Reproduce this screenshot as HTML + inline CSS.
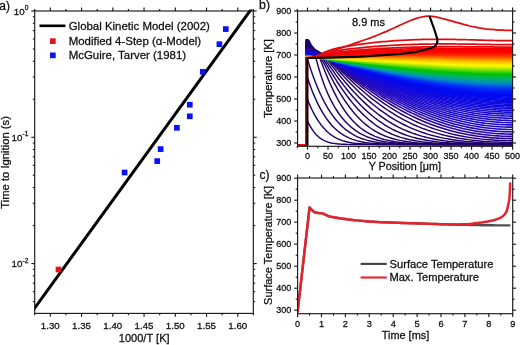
<!DOCTYPE html>
<html><head><meta charset="utf-8"><title>Figure</title>
<style>html,body{margin:0;padding:0;background:#fff}svg{display:block;filter:blur(0.35px)}text{font-family:'Liberation Sans',sans-serif;stroke:#111;stroke-width:0.28px}</style></head>
<body><svg width="520" height="345" viewBox="0 0 520 345">
<rect width="520" height="345" fill="#fff"/>
<g id="panel-a">
<clipPath id="ca"><rect x="34.7" y="9.5" width="218.60000000000002" height="303.9"/></clipPath>
<line x1="29.70" y1="314.90" x2="252.90" y2="6.86" stroke="#000" stroke-width="3.0" clip-path="url(#ca)"/>
<rect x="34.70" y="11.00" width="218.60" height="302.40" fill="none" stroke="#1a1a1a" stroke-width="1.15"/>
<line x1="34.67" y1="313.40" x2="34.67" y2="315.30" stroke="#1a1a1a" stroke-width="1.15" />
<line x1="34.67" y1="11.00" x2="34.67" y2="9.10" stroke="#1a1a1a" stroke-width="1.15" />
<line x1="50.30" y1="313.40" x2="50.30" y2="316.80" stroke="#1a1a1a" stroke-width="1.15" />
<line x1="50.30" y1="11.00" x2="50.30" y2="7.60" stroke="#1a1a1a" stroke-width="1.15" />
<text x="50.30" y="328.90" font-size="9.7" text-anchor="middle" fill="#111" >1.30</text>
<line x1="65.92" y1="313.40" x2="65.92" y2="315.30" stroke="#1a1a1a" stroke-width="1.15" />
<line x1="65.92" y1="11.00" x2="65.92" y2="9.10" stroke="#1a1a1a" stroke-width="1.15" />
<line x1="81.55" y1="313.40" x2="81.55" y2="316.80" stroke="#1a1a1a" stroke-width="1.15" />
<line x1="81.55" y1="11.00" x2="81.55" y2="7.60" stroke="#1a1a1a" stroke-width="1.15" />
<text x="81.55" y="328.90" font-size="9.7" text-anchor="middle" fill="#111" >1.35</text>
<line x1="97.17" y1="313.40" x2="97.17" y2="315.30" stroke="#1a1a1a" stroke-width="1.15" />
<line x1="97.17" y1="11.00" x2="97.17" y2="9.10" stroke="#1a1a1a" stroke-width="1.15" />
<line x1="112.80" y1="313.40" x2="112.80" y2="316.80" stroke="#1a1a1a" stroke-width="1.15" />
<line x1="112.80" y1="11.00" x2="112.80" y2="7.60" stroke="#1a1a1a" stroke-width="1.15" />
<text x="112.80" y="328.90" font-size="9.7" text-anchor="middle" fill="#111" >1.40</text>
<line x1="128.42" y1="313.40" x2="128.42" y2="315.30" stroke="#1a1a1a" stroke-width="1.15" />
<line x1="128.42" y1="11.00" x2="128.42" y2="9.10" stroke="#1a1a1a" stroke-width="1.15" />
<line x1="144.05" y1="313.40" x2="144.05" y2="316.80" stroke="#1a1a1a" stroke-width="1.15" />
<line x1="144.05" y1="11.00" x2="144.05" y2="7.60" stroke="#1a1a1a" stroke-width="1.15" />
<text x="144.05" y="328.90" font-size="9.7" text-anchor="middle" fill="#111" >1.45</text>
<line x1="159.67" y1="313.40" x2="159.67" y2="315.30" stroke="#1a1a1a" stroke-width="1.15" />
<line x1="159.67" y1="11.00" x2="159.67" y2="9.10" stroke="#1a1a1a" stroke-width="1.15" />
<line x1="175.30" y1="313.40" x2="175.30" y2="316.80" stroke="#1a1a1a" stroke-width="1.15" />
<line x1="175.30" y1="11.00" x2="175.30" y2="7.60" stroke="#1a1a1a" stroke-width="1.15" />
<text x="175.30" y="328.90" font-size="9.7" text-anchor="middle" fill="#111" >1.50</text>
<line x1="190.92" y1="313.40" x2="190.92" y2="315.30" stroke="#1a1a1a" stroke-width="1.15" />
<line x1="190.92" y1="11.00" x2="190.92" y2="9.10" stroke="#1a1a1a" stroke-width="1.15" />
<line x1="206.55" y1="313.40" x2="206.55" y2="316.80" stroke="#1a1a1a" stroke-width="1.15" />
<line x1="206.55" y1="11.00" x2="206.55" y2="7.60" stroke="#1a1a1a" stroke-width="1.15" />
<text x="206.55" y="328.90" font-size="9.7" text-anchor="middle" fill="#111" >1.55</text>
<line x1="222.17" y1="313.40" x2="222.17" y2="315.30" stroke="#1a1a1a" stroke-width="1.15" />
<line x1="222.17" y1="11.00" x2="222.17" y2="9.10" stroke="#1a1a1a" stroke-width="1.15" />
<line x1="237.80" y1="313.40" x2="237.80" y2="316.80" stroke="#1a1a1a" stroke-width="1.15" />
<line x1="237.80" y1="11.00" x2="237.80" y2="7.60" stroke="#1a1a1a" stroke-width="1.15" />
<text x="237.80" y="328.90" font-size="9.7" text-anchor="middle" fill="#111" >1.60</text>
<line x1="253.42" y1="313.40" x2="253.42" y2="315.30" stroke="#1a1a1a" stroke-width="1.15" />
<line x1="253.42" y1="11.00" x2="253.42" y2="9.10" stroke="#1a1a1a" stroke-width="1.15" />
<line x1="34.70" y1="11.00" x2="31.30" y2="11.00" stroke="#1a1a1a" stroke-width="1.15" />
<line x1="253.30" y1="11.00" x2="256.70" y2="11.00" stroke="#1a1a1a" stroke-width="1.15" />
<text x="28.4" y="14.50" font-size="9.8" text-anchor="end" fill="#111">10<tspan dy="-4.6" font-size="6.6">0</tspan></text>
<line x1="34.70" y1="137.30" x2="31.30" y2="137.30" stroke="#1a1a1a" stroke-width="1.15" />
<line x1="253.30" y1="137.30" x2="256.70" y2="137.30" stroke="#1a1a1a" stroke-width="1.15" />
<text x="28.4" y="140.80" font-size="9.8" text-anchor="end" fill="#111">10<tspan dy="-4.6" font-size="6.6">-1</tspan></text>
<line x1="34.70" y1="99.28" x2="32.80" y2="99.28" stroke="#1a1a1a" stroke-width="1.15" />
<line x1="253.30" y1="99.28" x2="255.20" y2="99.28" stroke="#1a1a1a" stroke-width="1.15" />
<line x1="34.70" y1="77.04" x2="32.80" y2="77.04" stroke="#1a1a1a" stroke-width="1.15" />
<line x1="253.30" y1="77.04" x2="255.20" y2="77.04" stroke="#1a1a1a" stroke-width="1.15" />
<line x1="34.70" y1="61.26" x2="32.80" y2="61.26" stroke="#1a1a1a" stroke-width="1.15" />
<line x1="253.30" y1="61.26" x2="255.20" y2="61.26" stroke="#1a1a1a" stroke-width="1.15" />
<line x1="34.70" y1="49.02" x2="32.80" y2="49.02" stroke="#1a1a1a" stroke-width="1.15" />
<line x1="253.30" y1="49.02" x2="255.20" y2="49.02" stroke="#1a1a1a" stroke-width="1.15" />
<line x1="34.70" y1="39.02" x2="32.80" y2="39.02" stroke="#1a1a1a" stroke-width="1.15" />
<line x1="253.30" y1="39.02" x2="255.20" y2="39.02" stroke="#1a1a1a" stroke-width="1.15" />
<line x1="34.70" y1="30.56" x2="32.80" y2="30.56" stroke="#1a1a1a" stroke-width="1.15" />
<line x1="253.30" y1="30.56" x2="255.20" y2="30.56" stroke="#1a1a1a" stroke-width="1.15" />
<line x1="34.70" y1="23.24" x2="32.80" y2="23.24" stroke="#1a1a1a" stroke-width="1.15" />
<line x1="253.30" y1="23.24" x2="255.20" y2="23.24" stroke="#1a1a1a" stroke-width="1.15" />
<line x1="34.70" y1="16.78" x2="32.80" y2="16.78" stroke="#1a1a1a" stroke-width="1.15" />
<line x1="253.30" y1="16.78" x2="255.20" y2="16.78" stroke="#1a1a1a" stroke-width="1.15" />
<line x1="34.70" y1="263.60" x2="31.30" y2="263.60" stroke="#1a1a1a" stroke-width="1.15" />
<line x1="253.30" y1="263.60" x2="256.70" y2="263.60" stroke="#1a1a1a" stroke-width="1.15" />
<text x="28.4" y="267.10" font-size="9.8" text-anchor="end" fill="#111">10<tspan dy="-4.6" font-size="6.6">-2</tspan></text>
<line x1="34.70" y1="225.58" x2="32.80" y2="225.58" stroke="#1a1a1a" stroke-width="1.15" />
<line x1="253.30" y1="225.58" x2="255.20" y2="225.58" stroke="#1a1a1a" stroke-width="1.15" />
<line x1="34.70" y1="203.34" x2="32.80" y2="203.34" stroke="#1a1a1a" stroke-width="1.15" />
<line x1="253.30" y1="203.34" x2="255.20" y2="203.34" stroke="#1a1a1a" stroke-width="1.15" />
<line x1="34.70" y1="187.56" x2="32.80" y2="187.56" stroke="#1a1a1a" stroke-width="1.15" />
<line x1="253.30" y1="187.56" x2="255.20" y2="187.56" stroke="#1a1a1a" stroke-width="1.15" />
<line x1="34.70" y1="175.32" x2="32.80" y2="175.32" stroke="#1a1a1a" stroke-width="1.15" />
<line x1="253.30" y1="175.32" x2="255.20" y2="175.32" stroke="#1a1a1a" stroke-width="1.15" />
<line x1="34.70" y1="165.32" x2="32.80" y2="165.32" stroke="#1a1a1a" stroke-width="1.15" />
<line x1="253.30" y1="165.32" x2="255.20" y2="165.32" stroke="#1a1a1a" stroke-width="1.15" />
<line x1="34.70" y1="156.86" x2="32.80" y2="156.86" stroke="#1a1a1a" stroke-width="1.15" />
<line x1="253.30" y1="156.86" x2="255.20" y2="156.86" stroke="#1a1a1a" stroke-width="1.15" />
<line x1="34.70" y1="149.54" x2="32.80" y2="149.54" stroke="#1a1a1a" stroke-width="1.15" />
<line x1="253.30" y1="149.54" x2="255.20" y2="149.54" stroke="#1a1a1a" stroke-width="1.15" />
<line x1="34.70" y1="143.08" x2="32.80" y2="143.08" stroke="#1a1a1a" stroke-width="1.15" />
<line x1="253.30" y1="143.08" x2="255.20" y2="143.08" stroke="#1a1a1a" stroke-width="1.15" />
<line x1="34.70" y1="301.62" x2="32.80" y2="301.62" stroke="#1a1a1a" stroke-width="1.15" />
<line x1="253.30" y1="301.62" x2="255.20" y2="301.62" stroke="#1a1a1a" stroke-width="1.15" />
<line x1="34.70" y1="291.62" x2="32.80" y2="291.62" stroke="#1a1a1a" stroke-width="1.15" />
<line x1="253.30" y1="291.62" x2="255.20" y2="291.62" stroke="#1a1a1a" stroke-width="1.15" />
<line x1="34.70" y1="283.16" x2="32.80" y2="283.16" stroke="#1a1a1a" stroke-width="1.15" />
<line x1="253.30" y1="283.16" x2="255.20" y2="283.16" stroke="#1a1a1a" stroke-width="1.15" />
<line x1="34.70" y1="275.84" x2="32.80" y2="275.84" stroke="#1a1a1a" stroke-width="1.15" />
<line x1="253.30" y1="275.84" x2="255.20" y2="275.84" stroke="#1a1a1a" stroke-width="1.15" />
<line x1="34.70" y1="269.38" x2="32.80" y2="269.38" stroke="#1a1a1a" stroke-width="1.15" />
<line x1="253.30" y1="269.38" x2="255.20" y2="269.38" stroke="#1a1a1a" stroke-width="1.15" />
<rect x="222.95" y="26.25" width="5.7" height="5.7" fill="#0a14f0"/>
<rect x="216.55" y="41.35" width="5.7" height="5.7" fill="#0a14f0"/>
<rect x="199.95" y="68.95" width="5.7" height="5.7" fill="#0a14f0"/>
<rect x="186.95" y="101.85" width="5.7" height="5.7" fill="#0a14f0"/>
<rect x="186.95" y="113.45" width="5.7" height="5.7" fill="#0a14f0"/>
<rect x="174.05" y="124.95" width="5.7" height="5.7" fill="#0a14f0"/>
<rect x="157.75" y="146.25" width="5.7" height="5.7" fill="#0a14f0"/>
<rect x="154.35" y="158.25" width="5.7" height="5.7" fill="#0a14f0"/>
<rect x="121.75" y="169.65" width="5.7" height="5.7" fill="#0a14f0"/>
<rect x="55.65" y="266.65" width="5.7" height="5.7" fill="#e8141c"/>
<line x1="39.50" y1="25.80" x2="65.50" y2="25.80" stroke="#000" stroke-width="2.6" />
<rect x="50" y="38.3" width="5.7" height="5.7" fill="#e8141c"/>
<rect x="50" y="52.5" width="5.7" height="5.7" fill="#0a14f0"/>
<text x="68.70" y="29.80" font-size="11.45" text-anchor="start" fill="#111" >Global Kinetic Model (2002)</text>
<text x="68.70" y="45.30" font-size="11.45" text-anchor="start" fill="#111" >Modified 4-Step (α-Model)</text>
<text x="68.70" y="59.40" font-size="11.45" text-anchor="start" fill="#111" >McGuire, Tarver (1981)</text>
<text x="144.20" y="342.40" font-size="11.05" text-anchor="middle" fill="#111" >1000/T [K]</text>
<text x="9.00" y="162.40" font-size="11.25" text-anchor="middle" fill="#111" transform="rotate(-90 9.00 162.40)" >Time to Ignition (s)</text>
<text x="-0.70" y="9.70" font-size="12.0" text-anchor="start" fill="#111" >a)</text>
</g>
<g id="panel-b">
<clipPath id="cb"><rect x="297.6" y="11.0" width="215.0" height="135.3"/></clipPath>
<g clip-path="url(#cb)" fill="none" stroke-linejoin="round">
<linearGradient id="pk" x1="0" y1="39" x2="0" y2="56.5" gradientUnits="userSpaceOnUse"><stop offset="0" stop-color="rgb(28,8,112)"/><stop offset="0.55" stop-color="rgb(24,14,170)"/><stop offset="1" stop-color="rgb(10,30,235)"/></linearGradient>
<path d="M305.3,56.5 L305.3,40.2 Q305.4,38.9 306.8,38.9 L308.0,38.9 Q309.2,39.0 309.8,40.6 L311.9,44.8 L316.2,49.7 L321.6,53.6 L326.5,56.5 Z" fill="url(#pk)" stroke="none"/>
<path d="M297.7,144.98 L306.1,144.98 L306.1,121.00 L307.5,121.00 L308.0,122.06 L308.5,123.08 L309.0,124.06 L309.5,125.01 L310.0,125.92 L310.5,126.79 L311.0,127.63 L311.5,128.44 L312.0,129.22 L312.5,129.97 L313.0,130.68 L313.5,131.37 L314.0,132.03 L314.5,132.66 L315.0,133.26 L315.5,133.84 L316.0,134.39 L316.5,134.92 L317.0,135.43 L317.5,135.91 L318.5,136.81 L319.5,137.63 L320.5,138.38 L321.5,139.05 L322.5,139.66 L323.5,140.21 L324.5,140.70 L325.5,141.15 L326.5,141.55 L327.5,141.90 L328.5,142.22 L329.5,142.51 L330.5,142.76 L331.5,142.98 L332.5,143.18 L333.5,143.35 L334.5,143.51 L335.5,143.65 L336.5,143.76 L337.5,143.87 L338.5,143.96 L339.5,144.04 L340.5,144.11 L341.5,144.17 L342.5,144.22 L343.5,144.27 L344.5,144.31 L345.5,144.34 L346.5,144.37 L347.5,144.40 L350.0,144.45 L352.5,144.48 L355.0,144.50 L357.5,144.51 L360.0,144.52 L362.5,144.53 L365.0,144.53 L367.5,144.54 L370.0,144.54 L372.5,144.54 L375.0,144.54 L377.5,144.54 L380.0,144.54 L382.5,144.54 L385.0,144.54 L387.5,144.54 L390.0,144.54 L392.5,144.54 L395.0,144.54 L397.5,144.54 L400.0,144.54 L402.5,144.54 L405.0,144.54 L407.5,144.54 L410.0,144.54 L412.5,144.54 L415.0,144.54 L417.5,144.54 L420.0,144.54 L422.5,144.54 L425.0,144.54 L427.5,144.54 L430.0,144.54 L432.5,144.54 L435.0,144.54 L437.5,144.54 L440.0,144.54 L442.5,144.54 L445.0,144.54 L447.5,144.54 L450.0,144.54 L452.5,144.54 L455.0,144.54 L457.5,144.54 L460.0,144.54 L462.5,144.54 L465.0,144.54 L467.5,144.54 L470.0,144.54 L472.5,144.54 L475.0,144.54 L477.5,144.54 L480.0,144.54 L482.5,144.54 L485.0,144.54 L487.5,144.54 L490.0,144.54 L492.5,144.54 L495.0,144.54 L497.5,144.54 L500.0,144.54 L502.5,144.54 L505.0,144.54 L507.5,144.54 L510.0,144.54 L512.5,144.54" stroke="rgb(34,0,106)" stroke-width="1.45"/>
<path d="M297.7,144.98 L306.1,144.98 L306.1,99.66 L307.5,99.66 L308.0,100.89 L308.5,102.09 L309.0,103.26 L309.5,104.41 L310.0,105.54 L310.5,106.64 L311.0,107.71 L311.5,108.77 L312.0,109.79 L312.5,110.80 L313.0,111.78 L313.5,112.75 L314.0,113.68 L314.5,114.60 L315.0,115.50 L315.5,116.37 L316.0,117.23 L316.5,118.06 L317.0,118.87 L317.5,119.67 L318.5,121.19 L319.5,122.65 L320.5,124.03 L321.5,125.34 L322.5,126.58 L323.5,127.75 L324.5,128.87 L325.5,129.92 L326.5,130.91 L327.5,131.85 L328.5,132.73 L329.5,133.56 L330.5,134.35 L331.5,135.08 L332.5,135.77 L333.5,136.42 L334.5,137.03 L335.5,137.59 L336.5,138.13 L337.5,138.62 L338.5,139.08 L339.5,139.52 L340.5,139.92 L341.5,140.29 L342.5,140.64 L343.5,140.96 L344.5,141.26 L345.5,141.54 L346.5,141.79 L347.5,142.03 L350.0,142.54 L352.5,142.96 L355.0,143.30 L357.5,143.57 L360.0,143.79 L362.5,143.96 L365.0,144.09 L367.5,144.20 L370.0,144.28 L372.5,144.34 L375.0,144.39 L377.5,144.43 L380.0,144.46 L382.5,144.48 L385.0,144.50 L387.5,144.51 L390.0,144.52 L392.5,144.52 L395.0,144.53 L397.5,144.53 L400.0,144.53 L402.5,144.54 L405.0,144.54 L407.5,144.54 L410.0,144.54 L412.5,144.54 L415.0,144.54 L417.5,144.54 L420.0,144.54 L422.5,144.54 L425.0,144.54 L427.5,144.54 L430.0,144.54 L432.5,144.54 L435.0,144.54 L437.5,144.54 L440.0,144.54 L442.5,144.54 L445.0,144.54 L447.5,144.54 L450.0,144.54 L452.5,144.54 L455.0,144.54 L457.5,144.54 L460.0,144.54 L462.5,144.54 L465.0,144.54 L467.5,144.54 L470.0,144.54 L472.5,144.54 L475.0,144.54 L477.5,144.54 L480.0,144.54 L482.5,144.54 L485.0,144.54 L487.5,144.54 L490.0,144.54 L492.5,144.54 L495.0,144.54 L497.5,144.54 L500.0,144.54 L502.5,144.54 L505.0,144.54 L507.5,144.54 L510.0,144.54 L512.5,144.54" stroke="rgb(34,0,106)" stroke-width="1.45"/>
<path d="M297.7,144.98 L306.1,144.98 L306.1,77.88 L307.5,77.88 L308.0,79.37 L308.5,80.84 L309.0,82.28 L309.5,83.70 L310.0,85.09 L310.5,86.45 L311.0,87.79 L311.5,89.11 L312.0,90.40 L312.5,91.66 L313.0,92.91 L313.5,94.13 L314.0,95.33 L314.5,96.50 L315.0,97.65 L315.5,98.78 L316.0,99.89 L316.5,100.98 L317.0,102.04 L317.5,103.09 L318.5,105.11 L319.5,107.06 L320.5,108.93 L321.5,110.72 L322.5,112.44 L323.5,114.08 L324.5,115.66 L325.5,117.17 L326.5,118.61 L327.5,119.99 L328.5,121.31 L329.5,122.57 L330.5,123.77 L331.5,124.92 L332.5,126.01 L333.5,127.06 L334.5,128.05 L335.5,128.99 L336.5,129.89 L337.5,130.75 L338.5,131.56 L339.5,132.33 L340.5,133.06 L341.5,133.76 L342.5,134.42 L343.5,135.04 L344.5,135.63 L345.5,136.19 L346.5,136.71 L347.5,137.21 L350.0,138.34 L352.5,139.32 L355.0,140.15 L357.5,140.87 L360.0,141.48 L362.5,142.00 L365.0,142.44 L367.5,142.81 L370.0,143.12 L372.5,143.38 L375.0,143.60 L377.5,143.77 L380.0,143.92 L382.5,144.04 L385.0,144.14 L387.5,144.22 L390.0,144.29 L392.5,144.34 L395.0,144.38 L397.5,144.42 L400.0,144.44 L402.5,144.46 L405.0,144.48 L407.5,144.49 L410.0,144.50 L412.5,144.51 L415.0,144.52 L417.5,144.52 L420.0,144.53 L422.5,144.53 L425.0,144.53 L427.5,144.53 L430.0,144.54 L432.5,144.54 L435.0,144.54 L437.5,144.54 L440.0,144.54 L442.5,144.54 L445.0,144.54 L447.5,144.54 L450.0,144.54 L452.5,144.54 L455.0,144.54 L457.5,144.54 L460.0,144.54 L462.5,144.54 L465.0,144.54 L467.5,144.54 L470.0,144.54 L472.5,144.54 L475.0,144.54 L477.5,144.54 L480.0,144.54 L482.5,144.54 L485.0,144.54 L487.5,144.54 L490.0,144.54 L492.5,144.54 L495.0,144.54 L497.5,144.54 L500.0,144.54 L502.5,144.54 L505.0,144.54 L507.5,144.54 L510.0,144.54 L512.5,144.54" stroke="rgb(34,0,106)" stroke-width="1.45"/>
<path d="M297.7,144.98 L306.1,144.98 L306.1,59.40 L307.5,59.40 L308.0,60.97 L308.5,62.54 L309.0,64.10 L309.5,65.64 L310.0,67.16 L310.5,68.65 L311.0,70.13 L311.5,71.58 L312.0,73.01 L312.5,74.42 L313.0,75.81 L313.5,77.17 L314.0,78.52 L314.5,79.84 L315.0,81.14 L315.5,82.43 L316.0,83.69 L316.5,84.93 L317.0,86.16 L317.5,87.36 L318.5,89.71 L319.5,91.98 L320.5,94.18 L321.5,96.30 L322.5,98.36 L323.5,100.34 L324.5,102.26 L325.5,104.11 L326.5,105.89 L327.5,107.61 L328.5,109.27 L329.5,110.87 L330.5,112.41 L331.5,113.89 L332.5,115.31 L333.5,116.68 L334.5,118.00 L335.5,119.27 L336.5,120.48 L337.5,121.65 L338.5,122.77 L339.5,123.84 L340.5,124.87 L341.5,125.86 L342.5,126.80 L343.5,127.70 L344.5,128.57 L345.5,129.40 L346.5,130.19 L347.5,130.94 L350.0,132.68 L352.5,134.23 L355.0,135.60 L357.5,136.81 L360.0,137.87 L362.5,138.80 L365.0,139.62 L367.5,140.33 L370.0,140.95 L372.5,141.49 L375.0,141.95 L377.5,142.35 L380.0,142.70 L382.5,142.99 L385.0,143.24 L387.5,143.45 L390.0,143.64 L392.5,143.79 L395.0,143.92 L397.5,144.03 L400.0,144.12 L402.5,144.19 L405.0,144.26 L407.5,144.31 L410.0,144.35 L412.5,144.39 L415.0,144.42 L417.5,144.44 L420.0,144.46 L422.5,144.48 L425.0,144.49 L427.5,144.50 L430.0,144.51 L432.5,144.51 L435.0,144.52 L437.5,144.52 L440.0,144.53 L442.5,144.53 L445.0,144.53 L447.5,144.53 L450.0,144.54 L452.5,144.54 L455.0,144.54 L457.5,144.54 L460.0,144.54 L462.5,144.54 L465.0,144.54 L467.5,144.54 L470.0,144.54 L472.5,144.54 L475.0,144.54 L477.5,144.54 L480.0,144.54 L482.5,144.54 L485.0,144.54 L487.5,144.54 L490.0,144.54 L492.5,144.54 L495.0,144.54 L497.5,144.54 L500.0,144.54 L502.5,144.54 L505.0,144.54 L507.5,144.54 L510.0,144.54 L512.5,144.54" stroke="rgb(34,0,106)" stroke-width="1.45"/>
<path d="M297.7,144.98 L306.1,144.98 L306.1,39.60 L307.5,39.60 L308.0,40.58 L308.5,41.54 L309.0,42.50 L309.5,43.45 L310.0,44.39 L310.5,45.33 L311.0,46.25 L311.5,47.18 L312.0,48.10 L312.5,49.04 L313.0,49.99 L313.5,50.98 L314.0,52.06 L314.5,53.28 L315.0,54.73 L315.5,56.41 L316.0,58.26 L316.5,60.14 L317.0,62.02 L317.5,63.86 L318.5,67.43 L319.5,70.82 L320.5,74.06 L321.5,77.15 L322.5,80.09 L323.5,82.90 L324.5,85.58 L325.5,88.15 L326.5,90.59 L327.5,92.94 L328.5,95.17 L329.5,97.32 L330.5,99.37 L331.5,101.33 L332.5,103.21 L333.5,105.02 L334.5,106.75 L335.5,108.40 L336.5,109.99 L337.5,111.52 L338.5,112.98 L339.5,114.38 L340.5,115.73 L341.5,117.02 L342.5,118.26 L343.5,119.45 L344.5,120.59 L345.5,121.68 L346.5,122.73 L347.5,123.74 L350.0,126.08 L352.5,128.19 L355.0,130.09 L357.5,131.79 L360.0,133.31 L362.5,134.67 L365.0,135.89 L367.5,136.97 L370.0,137.93 L372.5,138.79 L375.0,139.54 L377.5,140.21 L380.0,140.79 L382.5,141.30 L385.0,141.75 L387.5,142.15 L390.0,142.49 L392.5,142.79 L395.0,143.04 L397.5,143.27 L400.0,143.46 L402.5,143.63 L405.0,143.77 L407.5,143.89 L410.0,143.99 L412.5,144.08 L415.0,144.16 L417.5,144.22 L420.0,144.27 L422.5,144.32 L425.0,144.36 L427.5,144.39 L430.0,144.41 L432.5,144.44 L435.0,144.46 L437.5,144.47 L440.0,144.48 L442.5,144.49 L445.0,144.50 L447.5,144.51 L450.0,144.52 L452.5,144.52 L455.0,144.52 L457.5,144.53 L460.0,144.53 L462.5,144.53 L465.0,144.53 L467.5,144.53 L470.0,144.54 L472.5,144.54 L475.0,144.54 L477.5,144.54 L480.0,144.54 L482.5,144.54 L485.0,144.54 L487.5,144.54 L490.0,144.54 L492.5,144.54 L495.0,144.54 L497.5,144.54 L500.0,144.54 L502.5,144.54 L505.0,144.54 L507.5,144.54 L510.0,144.54 L512.5,144.54" stroke="rgb(34,0,106)" stroke-width="1.45"/>
<path d="M297.7,144.98 L306.1,144.98 L306.1,42.24 L307.5,42.24 L308.0,42.77 L308.5,43.31 L309.0,43.84 L309.5,44.38 L310.0,44.92 L310.5,45.46 L311.0,46.00 L311.5,46.55 L312.0,47.09 L312.5,47.64 L313.0,48.19 L313.5,48.75 L314.0,49.31 L314.5,49.88 L315.0,50.46 L315.5,51.05 L316.0,51.66 L316.5,52.30 L317.0,52.98 L317.5,53.71 L318.5,55.40 L319.5,57.49 L320.5,59.93 L321.5,62.51 L322.5,65.10 L323.5,67.66 L324.5,70.19 L325.5,72.69 L326.5,75.13 L327.5,77.54 L328.5,79.89 L329.5,82.20 L330.5,84.45 L331.5,86.65 L332.5,88.80 L333.5,90.90 L334.5,92.93 L335.5,94.92 L336.5,96.85 L337.5,98.72 L338.5,100.53 L339.5,102.29 L340.5,104.00 L341.5,105.65 L342.5,107.25 L343.5,108.79 L344.5,110.28 L345.5,111.72 L346.5,113.11 L347.5,114.44 L350.0,117.58 L352.5,120.43 L355.0,123.01 L357.5,125.35 L360.0,127.46 L362.5,129.36 L365.0,131.07 L367.5,132.61 L370.0,133.98 L372.5,135.21 L375.0,136.31 L377.5,137.30 L380.0,138.17 L382.5,138.95 L385.0,139.64 L387.5,140.26 L390.0,140.80 L392.5,141.28 L395.0,141.71 L397.5,142.08 L400.0,142.41 L402.5,142.70 L405.0,142.95 L407.5,143.17 L410.0,143.36 L412.5,143.53 L415.0,143.67 L417.5,143.80 L420.0,143.91 L422.5,144.00 L425.0,144.08 L427.5,144.15 L430.0,144.21 L432.5,144.26 L435.0,144.31 L437.5,144.34 L440.0,144.38 L442.5,144.40 L445.0,144.42 L447.5,144.44 L450.0,144.46 L452.5,144.47 L455.0,144.48 L457.5,144.49 L460.0,144.50 L462.5,144.51 L465.0,144.51 L467.5,144.52 L470.0,144.52 L472.5,144.53 L475.0,144.53 L477.5,144.53 L480.0,144.53 L482.5,144.53 L485.0,144.53 L487.5,144.54 L490.0,144.54 L492.5,144.54 L495.0,144.54 L497.5,144.54 L500.0,144.54 L502.5,144.54 L505.0,144.54 L507.5,144.54 L510.0,144.54 L512.5,144.54" stroke="rgb(34,0,106)" stroke-width="1.45"/>
<path d="M297.7,144.98 L306.1,144.98 L306.1,44.44 L307.5,44.44 L308.0,44.84 L308.5,45.24 L309.0,45.64 L309.5,46.04 L310.0,46.44 L310.5,46.85 L311.0,47.25 L311.5,47.66 L312.0,48.07 L312.5,48.49 L313.0,48.90 L313.5,49.32 L314.0,49.74 L314.5,50.17 L315.0,50.61 L315.5,51.05 L316.0,51.51 L316.5,51.98 L317.0,52.47 L317.5,52.98 L318.5,54.09 L319.5,55.38 L320.5,56.90 L321.5,58.66 L322.5,60.57 L323.5,62.54 L324.5,64.52 L325.5,66.51 L326.5,68.48 L327.5,70.43 L328.5,72.37 L329.5,74.29 L330.5,76.19 L331.5,78.07 L332.5,79.92 L333.5,81.75 L334.5,83.56 L335.5,85.34 L336.5,87.09 L337.5,88.82 L338.5,90.52 L339.5,92.18 L340.5,93.82 L341.5,95.42 L342.5,97.00 L343.5,98.54 L344.5,100.05 L345.5,101.53 L346.5,102.98 L347.5,104.39 L350.0,107.78 L352.5,110.96 L355.0,113.94 L357.5,116.71 L360.0,119.29 L362.5,121.68 L365.0,123.88 L367.5,125.91 L370.0,127.77 L372.5,129.48 L375.0,131.03 L377.5,132.45 L380.0,133.74 L382.5,134.90 L385.0,135.96 L387.5,136.91 L390.0,137.77 L392.5,138.54 L395.0,139.23 L397.5,139.85 L400.0,140.40 L402.5,140.89 L405.0,141.33 L407.5,141.72 L410.0,142.07 L412.5,142.38 L415.0,142.65 L417.5,142.89 L420.0,143.10 L422.5,143.29 L425.0,143.46 L427.5,143.60 L430.0,143.73 L432.5,143.84 L435.0,143.93 L437.5,144.02 L440.0,144.09 L442.5,144.15 L445.0,144.21 L447.5,144.26 L450.0,144.30 L452.5,144.33 L455.0,144.36 L457.5,144.39 L460.0,144.41 L462.5,144.43 L465.0,144.45 L467.5,144.46 L470.0,144.48 L472.5,144.49 L475.0,144.49 L477.5,144.50 L480.0,144.51 L482.5,144.51 L485.0,144.52 L487.5,144.52 L490.0,144.52 L492.5,144.53 L495.0,144.53 L497.5,144.53 L500.0,144.53 L502.5,144.53 L505.0,144.53 L507.5,144.53 L510.0,144.53 L512.5,144.53" stroke="rgb(34,0,106)" stroke-width="1.45"/>
<path d="M297.7,144.98 L306.1,144.98 L306.1,45.03 L307.5,45.03 L308.0,45.37 L308.5,45.72 L309.0,46.07 L309.5,46.42 L310.0,46.77 L310.5,47.12 L311.0,47.48 L311.5,47.83 L312.0,48.18 L312.5,48.54 L313.0,48.90 L313.5,49.26 L314.0,49.62 L314.5,49.99 L315.0,50.36 L315.5,50.74 L316.0,51.12 L316.5,51.52 L317.0,51.92 L317.5,52.33 L318.5,53.21 L319.5,54.18 L320.5,55.28 L321.5,56.55 L322.5,58.00 L323.5,59.57 L324.5,61.22 L325.5,62.89 L326.5,64.57 L327.5,66.24 L328.5,67.90 L329.5,69.55 L330.5,71.18 L331.5,72.81 L332.5,74.42 L333.5,76.01 L334.5,77.59 L335.5,79.16 L336.5,80.70 L337.5,82.23 L338.5,83.75 L339.5,85.24 L340.5,86.72 L341.5,88.18 L342.5,89.61 L343.5,91.03 L344.5,92.43 L345.5,93.81 L346.5,95.17 L347.5,96.50 L350.0,99.75 L352.5,102.86 L355.0,105.83 L357.5,108.65 L360.0,111.34 L362.5,113.89 L365.0,116.29 L367.5,118.55 L370.0,120.68 L372.5,122.68 L375.0,124.54 L377.5,126.28 L380.0,127.90 L382.5,129.40 L385.0,130.79 L387.5,132.07 L390.0,133.26 L392.5,134.34 L395.0,135.34 L397.5,136.26 L400.0,137.09 L402.5,137.85 L405.0,138.55 L407.5,139.18 L410.0,139.75 L412.5,140.26 L415.0,140.73 L417.5,141.15 L420.0,141.53 L422.5,141.87 L425.0,142.18 L427.5,142.45 L430.0,142.69 L432.5,142.91 L435.0,143.11 L437.5,143.28 L440.0,143.43 L442.5,143.57 L445.0,143.69 L447.5,143.80 L450.0,143.89 L452.5,143.97 L455.0,144.05 L457.5,144.11 L460.0,144.17 L462.5,144.22 L465.0,144.26 L467.5,144.30 L470.0,144.33 L472.5,144.36 L475.0,144.38 L477.5,144.40 L480.0,144.42 L482.5,144.44 L485.0,144.45 L487.5,144.47 L490.0,144.48 L492.5,144.48 L495.0,144.49 L497.5,144.50 L500.0,144.50 L502.5,144.51 L505.0,144.51 L507.5,144.51 L510.0,144.51 L512.5,144.51" stroke="rgb(34,0,106)" stroke-width="1.45"/>
<path d="M297.7,144.98 L306.1,144.98 L306.1,45.39 L307.5,45.39 L308.0,45.70 L308.5,46.00 L309.0,46.31 L309.5,46.61 L310.0,46.92 L310.5,47.23 L311.0,47.54 L311.5,47.85 L312.0,48.16 L312.5,48.47 L313.0,48.78 L313.5,49.09 L314.0,49.41 L314.5,49.73 L315.0,50.05 L315.5,50.37 L316.0,50.70 L316.5,51.04 L317.0,51.38 L317.5,51.72 L318.5,52.45 L319.5,53.22 L320.5,54.06 L321.5,54.99 L322.5,56.06 L323.5,57.25 L324.5,58.57 L325.5,59.97 L326.5,61.41 L327.5,62.86 L328.5,64.32 L329.5,65.78 L330.5,67.23 L331.5,68.67 L332.5,70.10 L333.5,71.52 L334.5,72.93 L335.5,74.34 L336.5,75.73 L337.5,77.10 L338.5,78.47 L339.5,79.82 L340.5,81.16 L341.5,82.49 L342.5,83.81 L343.5,85.11 L344.5,86.40 L345.5,87.67 L346.5,88.93 L347.5,90.17 L350.0,93.21 L352.5,96.16 L355.0,99.01 L357.5,101.75 L360.0,104.39 L362.5,106.93 L365.0,109.36 L367.5,111.68 L370.0,113.90 L372.5,116.01 L375.0,118.01 L377.5,119.92 L380.0,121.72 L382.5,123.42 L385.0,125.02 L387.5,126.53 L390.0,127.95 L392.5,129.28 L395.0,130.52 L397.5,131.68 L400.0,132.77 L402.5,133.77 L405.0,134.71 L407.5,135.58 L410.0,136.38 L412.5,137.12 L415.0,137.80 L417.5,138.43 L420.0,139.01 L422.5,139.54 L425.0,140.03 L427.5,140.47 L430.0,140.87 L432.5,141.24 L435.0,141.58 L437.5,141.89 L440.0,142.16 L442.5,142.41 L445.0,142.64 L447.5,142.84 L450.0,143.03 L452.5,143.19 L455.0,143.34 L457.5,143.48 L460.0,143.60 L462.5,143.71 L465.0,143.80 L467.5,143.89 L470.0,143.96 L472.5,144.03 L475.0,144.09 L477.5,144.14 L480.0,144.19 L482.5,144.23 L485.0,144.27 L487.5,144.30 L490.0,144.32 L492.5,144.35 L495.0,144.37 L497.5,144.38 L500.0,144.40 L502.5,144.41 L505.0,144.42 L507.5,144.42 L510.0,144.43 L512.5,144.43" stroke="rgb(34,0,106)" stroke-width="1.45"/>
<path d="M297.7,144.98 L306.1,144.98 L306.1,45.54 L307.5,45.54 L308.0,45.81 L308.5,46.08 L309.0,46.36 L309.5,46.63 L310.0,46.90 L310.5,47.18 L311.0,47.45 L311.5,47.73 L312.0,48.00 L312.5,48.28 L313.0,48.56 L313.5,48.84 L314.0,49.12 L314.5,49.40 L315.0,49.68 L315.5,49.97 L316.0,50.26 L316.5,50.55 L317.0,50.85 L317.5,51.15 L318.5,51.76 L319.5,52.40 L320.5,53.08 L321.5,53.81 L322.5,54.62 L323.5,55.51 L324.5,56.51 L325.5,57.61 L326.5,58.80 L327.5,60.05 L328.5,61.33 L329.5,62.62 L330.5,63.91 L331.5,65.21 L332.5,66.50 L333.5,67.78 L334.5,69.05 L335.5,70.32 L336.5,71.58 L337.5,72.83 L338.5,74.07 L339.5,75.31 L340.5,76.53 L341.5,77.75 L342.5,78.95 L343.5,80.15 L344.5,81.33 L345.5,82.51 L346.5,83.67 L347.5,84.82 L350.0,87.66 L352.5,90.42 L355.0,93.11 L357.5,95.73 L360.0,98.27 L362.5,100.72 L365.0,103.10 L367.5,105.40 L370.0,107.61 L372.5,109.74 L375.0,111.79 L377.5,113.75 L380.0,115.63 L382.5,117.43 L385.0,119.15 L387.5,120.79 L390.0,122.35 L392.5,123.84 L395.0,125.25 L397.5,126.58 L400.0,127.84 L402.5,129.04 L405.0,130.16 L407.5,131.22 L410.0,132.22 L412.5,133.16 L415.0,134.03 L417.5,134.86 L420.0,135.63 L422.5,136.34 L425.0,137.01 L427.5,137.63 L430.0,138.21 L432.5,138.75 L435.0,139.25 L437.5,139.71 L440.0,140.13 L442.5,140.52 L445.0,140.89 L447.5,141.22 L450.0,141.52 L452.5,141.80 L455.0,142.06 L457.5,142.30 L460.0,142.51 L462.5,142.70 L465.0,142.88 L467.5,143.04 L470.0,143.19 L472.5,143.32 L475.0,143.44 L477.5,143.55 L480.0,143.65 L482.5,143.73 L485.0,143.81 L487.5,143.88 L490.0,143.93 L492.5,143.99 L495.0,144.03 L497.5,144.07 L500.0,144.10 L502.5,144.12 L505.0,144.14 L507.5,144.16 L510.0,144.17 L512.5,144.17" stroke="rgb(34,0,108)" stroke-width="1.45"/>
<path d="M297.7,144.98 L306.1,144.98 L306.1,46.42 L307.5,46.42 L308.0,46.65 L308.5,46.88 L309.0,47.11 L309.5,47.35 L310.0,47.58 L310.5,47.81 L311.0,48.05 L311.5,48.28 L312.0,48.52 L312.5,48.75 L313.0,48.99 L313.5,49.23 L314.0,49.47 L314.5,49.71 L315.0,49.95 L315.5,50.20 L316.0,50.45 L316.5,50.70 L317.0,50.95 L317.5,51.21 L318.5,51.73 L319.5,52.28 L320.5,52.85 L321.5,53.45 L322.5,54.11 L323.5,54.81 L324.5,55.59 L325.5,56.45 L326.5,57.39 L327.5,58.40 L328.5,59.46 L329.5,60.56 L330.5,61.67 L331.5,62.80 L332.5,63.93 L333.5,65.06 L334.5,66.18 L335.5,67.31 L336.5,68.43 L337.5,69.54 L338.5,70.65 L339.5,71.76 L340.5,72.86 L341.5,73.95 L342.5,75.04 L343.5,76.12 L344.5,77.20 L345.5,78.27 L346.5,79.33 L347.5,80.38 L350.0,82.99 L352.5,85.54 L355.0,88.05 L357.5,90.50 L360.0,92.90 L362.5,95.23 L365.0,97.51 L367.5,99.73 L370.0,101.88 L372.5,103.97 L375.0,106.00 L377.5,107.96 L380.0,109.85 L382.5,111.68 L385.0,113.44 L387.5,115.14 L390.0,116.78 L392.5,118.35 L395.0,119.85 L397.5,121.29 L400.0,122.67 L402.5,123.99 L405.0,125.25 L407.5,126.45 L410.0,127.59 L412.5,128.67 L415.0,129.70 L417.5,130.68 L420.0,131.61 L422.5,132.48 L425.0,133.31 L427.5,134.09 L430.0,134.83 L432.5,135.52 L435.0,136.17 L437.5,136.78 L440.0,137.36 L442.5,137.89 L445.0,138.40 L447.5,138.87 L450.0,139.30 L452.5,139.71 L455.0,140.09 L457.5,140.44 L460.0,140.77 L462.5,141.07 L465.0,141.35 L467.5,141.61 L470.0,141.84 L472.5,142.06 L475.0,142.26 L477.5,142.44 L480.0,142.60 L482.5,142.75 L485.0,142.89 L487.5,143.01 L490.0,143.11 L492.5,143.21 L495.0,143.29 L497.5,143.36 L500.0,143.42 L502.5,143.46 L505.0,143.50 L507.5,143.52 L510.0,143.54 L512.5,143.54" stroke="rgb(35,0,110)" stroke-width="1.45"/>
<path d="M297.7,144.98 L306.1,144.98 L306.1,47.50 L307.5,47.50 L308.0,47.70 L308.5,47.90 L309.0,48.10 L309.5,48.30 L310.0,48.50 L310.5,48.70 L311.0,48.91 L311.5,49.11 L312.0,49.31 L312.5,49.52 L313.0,49.73 L313.5,49.94 L314.0,50.15 L314.5,50.36 L315.0,50.57 L315.5,50.79 L316.0,51.00 L316.5,51.22 L317.0,51.45 L317.5,51.67 L318.5,52.14 L319.5,52.62 L320.5,53.13 L321.5,53.66 L322.5,54.23 L323.5,54.85 L324.5,55.52 L325.5,56.24 L326.5,57.03 L327.5,57.88 L328.5,58.78 L329.5,59.71 L330.5,60.66 L331.5,61.63 L332.5,62.61 L333.5,63.60 L334.5,64.59 L335.5,65.57 L336.5,66.56 L337.5,67.54 L338.5,68.52 L339.5,69.50 L340.5,70.47 L341.5,71.45 L342.5,72.42 L343.5,73.38 L344.5,74.34 L345.5,75.30 L346.5,76.25 L347.5,77.20 L350.0,79.56 L352.5,81.88 L355.0,84.17 L357.5,86.42 L360.0,88.63 L362.5,90.81 L365.0,92.94 L367.5,95.02 L370.0,97.07 L372.5,99.06 L375.0,101.01 L377.5,102.91 L380.0,104.76 L382.5,106.56 L385.0,108.30 L387.5,110.00 L390.0,111.64 L392.5,113.23 L395.0,114.77 L397.5,116.26 L400.0,117.69 L402.5,119.07 L405.0,120.41 L407.5,121.69 L410.0,122.92 L412.5,124.10 L415.0,125.23 L417.5,126.31 L420.0,127.35 L422.5,128.34 L425.0,129.29 L427.5,130.19 L430.0,131.05 L432.5,131.87 L435.0,132.64 L437.5,133.38 L440.0,134.08 L442.5,134.74 L445.0,135.36 L447.5,135.96 L450.0,136.51 L452.5,137.04 L455.0,137.53 L457.5,137.99 L460.0,138.43 L462.5,138.83 L465.0,139.21 L467.5,139.56 L470.0,139.89 L472.5,140.20 L475.0,140.48 L477.5,140.74 L480.0,140.97 L482.5,141.19 L485.0,141.39 L487.5,141.56 L490.0,141.72 L492.5,141.86 L495.0,141.98 L497.5,142.09 L500.0,142.18 L502.5,142.25 L505.0,142.31 L507.5,142.35 L510.0,142.37 L512.5,142.38" stroke="rgb(36,0,115)" stroke-width="1.45"/>
<path d="M297.7,144.98 L306.1,144.98 L306.1,48.56 L307.5,48.56 L308.0,48.73 L308.5,48.91 L309.0,49.09 L309.5,49.27 L310.0,49.44 L310.5,49.62 L311.0,49.81 L311.5,49.99 L312.0,50.17 L312.5,50.35 L313.0,50.54 L313.5,50.73 L314.0,50.92 L314.5,51.11 L315.0,51.30 L315.5,51.50 L316.0,51.69 L316.5,51.90 L317.0,52.10 L317.5,52.31 L318.5,52.73 L319.5,53.18 L320.5,53.65 L321.5,54.14 L322.5,54.67 L323.5,55.24 L324.5,55.85 L325.5,56.51 L326.5,57.22 L327.5,57.97 L328.5,58.76 L329.5,59.58 L330.5,60.42 L331.5,61.28 L332.5,62.14 L333.5,63.01 L334.5,63.88 L335.5,64.75 L336.5,65.62 L337.5,66.50 L338.5,67.37 L339.5,68.24 L340.5,69.11 L341.5,69.98 L342.5,70.85 L343.5,71.71 L344.5,72.57 L345.5,73.43 L346.5,74.29 L347.5,75.15 L350.0,77.27 L352.5,79.38 L355.0,81.46 L357.5,83.52 L360.0,85.55 L362.5,87.56 L365.0,89.53 L367.5,91.48 L370.0,93.39 L372.5,95.26 L375.0,97.11 L377.5,98.91 L380.0,100.68 L382.5,102.41 L385.0,104.09 L387.5,105.74 L390.0,107.35 L392.5,108.91 L395.0,110.44 L397.5,111.92 L400.0,113.36 L402.5,114.75 L405.0,116.11 L407.5,117.42 L410.0,118.68 L412.5,119.91 L415.0,121.09 L417.5,122.23 L420.0,123.33 L422.5,124.39 L425.0,125.40 L427.5,126.38 L430.0,127.32 L432.5,128.22 L435.0,129.08 L437.5,129.90 L440.0,130.68 L442.5,131.43 L445.0,132.15 L447.5,132.83 L450.0,133.47 L452.5,134.09 L455.0,134.67 L457.5,135.21 L460.0,135.73 L462.5,136.22 L465.0,136.68 L467.5,137.11 L470.0,137.51 L472.5,137.89 L475.0,138.24 L477.5,138.56 L480.0,138.86 L482.5,139.14 L485.0,139.39 L487.5,139.61 L490.0,139.82 L492.5,140.00 L495.0,140.16 L497.5,140.29 L500.0,140.41 L502.5,140.50 L505.0,140.58 L507.5,140.63 L510.0,140.66 L512.5,140.67" stroke="rgb(38,0,123)" stroke-width="1.45"/>
<path d="M297.7,144.98 L306.1,144.98 L306.1,49.09 L307.5,49.09 L308.0,49.26 L308.5,49.42 L309.0,49.59 L309.5,49.76 L310.0,49.93 L310.5,50.10 L311.0,50.27 L311.5,50.44 L312.0,50.61 L312.5,50.79 L313.0,50.96 L313.5,51.14 L314.0,51.32 L314.5,51.50 L315.0,51.69 L315.5,51.87 L316.0,52.06 L316.5,52.25 L317.0,52.45 L317.5,52.65 L318.5,53.05 L319.5,53.48 L320.5,53.93 L321.5,54.41 L322.5,54.91 L323.5,55.45 L324.5,56.03 L325.5,56.65 L326.5,57.31 L327.5,58.01 L328.5,58.74 L329.5,59.49 L330.5,60.26 L331.5,61.04 L332.5,61.83 L333.5,62.63 L334.5,63.43 L335.5,64.23 L336.5,65.03 L337.5,65.83 L338.5,66.63 L339.5,67.43 L340.5,68.23 L341.5,69.02 L342.5,69.82 L343.5,70.61 L344.5,71.40 L345.5,72.19 L346.5,72.98 L347.5,73.77 L350.0,75.72 L352.5,77.66 L355.0,79.59 L357.5,81.49 L360.0,83.38 L362.5,85.24 L365.0,87.08 L367.5,88.90 L370.0,90.69 L372.5,92.45 L375.0,94.19 L377.5,95.90 L380.0,97.58 L382.5,99.22 L385.0,100.84 L387.5,102.42 L390.0,103.97 L392.5,105.49 L395.0,106.97 L397.5,108.42 L400.0,109.83 L402.5,111.21 L405.0,112.55 L407.5,113.85 L410.0,115.12 L412.5,116.35 L415.0,117.55 L417.5,118.70 L420.0,119.83 L422.5,120.91 L425.0,121.96 L427.5,122.97 L430.0,123.95 L432.5,124.89 L435.0,125.79 L437.5,126.66 L440.0,127.50 L442.5,128.30 L445.0,129.07 L447.5,129.80 L450.0,130.50 L452.5,131.17 L455.0,131.81 L457.5,132.41 L460.0,132.98 L462.5,133.53 L465.0,134.04 L467.5,134.52 L470.0,134.98 L472.5,135.40 L475.0,135.80 L477.5,136.17 L480.0,136.51 L482.5,136.83 L485.0,137.12 L487.5,137.38 L490.0,137.61 L492.5,137.83 L495.0,138.01 L497.5,138.17 L500.0,138.30 L502.5,138.42 L505.0,138.50 L507.5,138.56 L510.0,138.60 L512.5,138.61" stroke="rgb(39,2,145)" stroke-width="1.60"/>
<path d="M297.7,144.98 L306.1,144.98 L306.1,49.62 L307.5,49.62 L308.0,49.78 L308.5,49.93 L309.0,50.09 L309.5,50.25 L310.0,50.40 L310.5,50.56 L311.0,50.72 L311.5,50.89 L312.0,51.05 L312.5,51.22 L313.0,51.38 L313.5,51.55 L314.0,51.72 L314.5,51.89 L315.0,52.07 L315.5,52.24 L316.0,52.42 L316.5,52.61 L317.0,52.79 L317.5,52.98 L318.5,53.37 L319.5,53.78 L320.5,54.21 L321.5,54.67 L322.5,55.15 L323.5,55.66 L324.5,56.21 L325.5,56.80 L326.5,57.42 L327.5,58.07 L328.5,58.74 L329.5,59.44 L330.5,60.15 L331.5,60.87 L332.5,61.61 L333.5,62.34 L334.5,63.08 L335.5,63.83 L336.5,64.57 L337.5,65.31 L338.5,66.06 L339.5,66.80 L340.5,67.54 L341.5,68.29 L342.5,69.03 L343.5,69.77 L344.5,70.51 L345.5,71.24 L346.5,71.98 L347.5,72.71 L350.0,74.54 L352.5,76.36 L355.0,78.16 L357.5,79.95 L360.0,81.72 L362.5,83.47 L365.0,85.21 L367.5,86.92 L370.0,88.62 L372.5,90.29 L375.0,91.94 L377.5,93.56 L380.0,95.16 L382.5,96.74 L385.0,98.29 L387.5,99.81 L390.0,101.30 L392.5,102.77 L395.0,104.20 L397.5,105.61 L400.0,106.98 L402.5,108.33 L405.0,109.64 L407.5,110.92 L410.0,112.17 L412.5,113.39 L415.0,114.58 L417.5,115.73 L420.0,116.85 L422.5,117.94 L425.0,118.99 L427.5,120.01 L430.0,121.00 L432.5,121.96 L435.0,122.88 L437.5,123.77 L440.0,124.63 L442.5,125.45 L445.0,126.25 L447.5,127.01 L450.0,127.74 L452.5,128.44 L455.0,129.10 L457.5,129.74 L460.0,130.35 L462.5,130.92 L465.0,131.46 L467.5,131.98 L470.0,132.46 L472.5,132.92 L475.0,133.35 L477.5,133.74 L480.0,134.11 L482.5,134.45 L485.0,134.77 L487.5,135.05 L490.0,135.31 L492.5,135.54 L495.0,135.74 L497.5,135.91 L500.0,136.06 L502.5,136.18 L505.0,136.27 L507.5,136.34 L510.0,136.38 L512.5,136.39" stroke="rgb(40,5,172)" stroke-width="1.60"/>
<path d="M297.7,144.98 L306.1,144.98 L306.1,50.12 L307.5,50.12 L308.0,50.27 L308.5,50.41 L309.0,50.56 L309.5,50.71 L310.0,50.86 L310.5,51.01 L311.0,51.17 L311.5,51.32 L312.0,51.48 L312.5,51.63 L313.0,51.79 L313.5,51.95 L314.0,52.12 L314.5,52.28 L315.0,52.45 L315.5,52.62 L316.0,52.79 L316.5,52.97 L317.0,53.15 L317.5,53.33 L318.5,53.71 L319.5,54.11 L320.5,54.52 L321.5,54.96 L322.5,55.43 L323.5,55.93 L324.5,56.46 L325.5,57.01 L326.5,57.60 L327.5,58.21 L328.5,58.85 L329.5,59.50 L330.5,60.16 L331.5,60.84 L332.5,61.52 L333.5,62.21 L334.5,62.90 L335.5,63.60 L336.5,64.29 L337.5,64.99 L338.5,65.69 L339.5,66.38 L340.5,67.08 L341.5,67.78 L342.5,68.47 L343.5,69.16 L344.5,69.86 L345.5,70.55 L346.5,71.24 L347.5,71.93 L350.0,73.65 L352.5,75.36 L355.0,77.06 L357.5,78.74 L360.0,80.42 L362.5,82.08 L365.0,83.72 L367.5,85.35 L370.0,86.96 L372.5,88.55 L375.0,90.12 L377.5,91.67 L380.0,93.20 L382.5,94.71 L385.0,96.20 L387.5,97.66 L390.0,99.10 L392.5,100.51 L395.0,101.90 L397.5,103.26 L400.0,104.59 L402.5,105.90 L405.0,107.18 L407.5,108.43 L410.0,109.66 L412.5,110.85 L415.0,112.02 L417.5,113.15 L420.0,114.26 L422.5,115.34 L425.0,116.38 L427.5,117.40 L430.0,118.39 L432.5,119.34 L435.0,120.27 L437.5,121.16 L440.0,122.03 L442.5,122.86 L445.0,123.66 L447.5,124.43 L450.0,125.17 L452.5,125.89 L455.0,126.57 L457.5,127.22 L460.0,127.84 L462.5,128.43 L465.0,128.99 L467.5,129.52 L470.0,130.02 L472.5,130.49 L475.0,130.93 L477.5,131.35 L480.0,131.73 L482.5,132.08 L485.0,132.41 L487.5,132.71 L490.0,132.98 L492.5,133.22 L495.0,133.43 L497.5,133.61 L500.0,133.77 L502.5,133.89 L505.0,133.99 L507.5,134.06 L510.0,134.10 L512.5,134.12" stroke="rgb(38,7,179)" stroke-width="1.60"/>
<path d="M297.7,144.98 L306.1,144.98 L306.1,50.57 L307.5,50.57 L308.0,50.71 L308.5,50.85 L309.0,50.99 L309.5,51.14 L310.0,51.28 L310.5,51.43 L311.0,51.57 L311.5,51.72 L312.0,51.87 L312.5,52.02 L313.0,52.18 L313.5,52.33 L314.0,52.49 L314.5,52.65 L315.0,52.81 L315.5,52.98 L316.0,53.15 L316.5,53.32 L317.0,53.50 L317.5,53.67 L318.5,54.04 L319.5,54.43 L320.5,54.84 L321.5,55.27 L322.5,55.73 L323.5,56.21 L324.5,56.72 L325.5,57.26 L326.5,57.82 L327.5,58.40 L328.5,59.00 L329.5,59.62 L330.5,60.25 L331.5,60.88 L332.5,61.53 L333.5,62.18 L334.5,62.83 L335.5,63.48 L336.5,64.13 L337.5,64.79 L338.5,65.45 L339.5,66.10 L340.5,66.76 L341.5,67.41 L342.5,68.07 L343.5,68.72 L344.5,69.38 L345.5,70.03 L346.5,70.68 L347.5,71.33 L350.0,72.96 L352.5,74.57 L355.0,76.18 L357.5,77.78 L360.0,79.37 L362.5,80.94 L365.0,82.50 L367.5,84.05 L370.0,85.58 L372.5,87.10 L375.0,88.60 L377.5,90.08 L380.0,91.55 L382.5,92.99 L385.0,94.42 L387.5,95.82 L390.0,97.21 L392.5,98.57 L395.0,99.91 L397.5,101.22 L400.0,102.52 L402.5,103.79 L405.0,105.03 L407.5,106.25 L410.0,107.44 L412.5,108.60 L415.0,109.74 L417.5,110.86 L420.0,111.94 L422.5,113.00 L425.0,114.03 L427.5,115.03 L430.0,116.00 L432.5,116.95 L435.0,117.87 L437.5,118.75 L440.0,119.61 L442.5,120.44 L445.0,121.24 L447.5,122.01 L450.0,122.76 L452.5,123.47 L455.0,124.15 L457.5,124.81 L460.0,125.43 L462.5,126.02 L465.0,126.59 L467.5,127.13 L470.0,127.63 L472.5,128.11 L475.0,128.56 L477.5,128.98 L480.0,129.37 L482.5,129.73 L485.0,130.06 L487.5,130.37 L490.0,130.64 L492.5,130.89 L495.0,131.10 L497.5,131.29 L500.0,131.45 L502.5,131.58 L505.0,131.68 L507.5,131.75 L510.0,131.79 L512.5,131.81" stroke="rgb(36,8,186)" stroke-width="1.60"/>
<path d="M297.7,144.98 L306.1,144.98 L306.1,51.02 L307.5,51.02 L308.0,51.15 L308.5,51.29 L309.0,51.43 L309.5,51.56 L310.0,51.70 L310.5,51.84 L311.0,51.99 L311.5,52.13 L312.0,52.28 L312.5,52.42 L313.0,52.57 L313.5,52.72 L314.0,52.88 L314.5,53.04 L315.0,53.19 L315.5,53.36 L316.0,53.52 L316.5,53.69 L317.0,53.86 L317.5,54.04 L318.5,54.40 L319.5,54.78 L320.5,55.18 L321.5,55.61 L322.5,56.06 L323.5,56.53 L324.5,57.02 L325.5,57.54 L326.5,58.08 L327.5,58.63 L328.5,59.21 L329.5,59.79 L330.5,60.39 L331.5,60.99 L332.5,61.60 L333.5,62.21 L334.5,62.82 L335.5,63.44 L336.5,64.06 L337.5,64.68 L338.5,65.30 L339.5,65.92 L340.5,66.54 L341.5,67.16 L342.5,67.77 L343.5,68.39 L344.5,69.01 L345.5,69.63 L346.5,70.25 L347.5,70.87 L350.0,72.40 L352.5,73.94 L355.0,75.46 L357.5,76.98 L360.0,78.49 L362.5,79.98 L365.0,81.47 L367.5,82.94 L370.0,84.41 L372.5,85.85 L375.0,87.29 L377.5,88.71 L380.0,90.11 L382.5,91.49 L385.0,92.86 L387.5,94.21 L390.0,95.54 L392.5,96.85 L395.0,98.14 L397.5,99.41 L400.0,100.66 L402.5,101.89 L405.0,103.09 L407.5,104.27 L410.0,105.43 L412.5,106.56 L415.0,107.67 L417.5,108.75 L420.0,109.81 L422.5,110.85 L425.0,111.85 L427.5,112.83 L430.0,113.79 L432.5,114.72 L435.0,115.62 L437.5,116.49 L440.0,117.34 L442.5,118.16 L445.0,118.95 L447.5,119.71 L450.0,120.44 L452.5,121.15 L455.0,121.83 L457.5,122.48 L460.0,123.10 L462.5,123.69 L465.0,124.26 L467.5,124.79 L470.0,125.30 L472.5,125.78 L475.0,126.23 L477.5,126.64 L480.0,127.04 L482.5,127.40 L485.0,127.73 L487.5,128.04 L490.0,128.31 L492.5,128.56 L495.0,128.77 L497.5,128.96 L500.0,129.12 L502.5,129.25 L505.0,129.35 L507.5,129.43 L510.0,129.47 L512.5,129.48" stroke="rgb(34,10,192)" stroke-width="1.60"/>
<path d="M297.7,144.98 L306.1,144.98 L306.1,51.47 L307.5,51.47 L308.0,51.60 L308.5,51.73 L309.0,51.86 L309.5,52.00 L310.0,52.13 L310.5,52.27 L311.0,52.41 L311.5,52.55 L312.0,52.69 L312.5,52.83 L313.0,52.98 L313.5,53.13 L314.0,53.28 L314.5,53.43 L315.0,53.59 L315.5,53.75 L316.0,53.91 L316.5,54.08 L317.0,54.25 L317.5,54.42 L318.5,54.78 L319.5,55.16 L320.5,55.56 L321.5,55.98 L322.5,56.42 L323.5,56.88 L324.5,57.36 L325.5,57.86 L326.5,58.38 L327.5,58.91 L328.5,59.46 L329.5,60.01 L330.5,60.58 L331.5,61.15 L332.5,61.72 L333.5,62.30 L334.5,62.88 L335.5,63.47 L336.5,64.05 L337.5,64.64 L338.5,65.22 L339.5,65.81 L340.5,66.40 L341.5,66.99 L342.5,67.57 L343.5,68.16 L344.5,68.75 L345.5,69.33 L346.5,69.92 L347.5,70.50 L350.0,71.96 L352.5,73.42 L355.0,74.87 L357.5,76.31 L360.0,77.74 L362.5,79.17 L365.0,80.58 L367.5,81.99 L370.0,83.39 L372.5,84.77 L375.0,86.14 L377.5,87.50 L380.0,88.84 L382.5,90.17 L385.0,91.48 L387.5,92.77 L390.0,94.05 L392.5,95.31 L395.0,96.55 L397.5,97.78 L400.0,98.98 L402.5,100.16 L405.0,101.33 L407.5,102.47 L410.0,103.59 L412.5,104.68 L415.0,105.76 L417.5,106.81 L420.0,107.84 L422.5,108.84 L425.0,109.83 L427.5,110.78 L430.0,111.71 L432.5,112.62 L435.0,113.50 L437.5,114.35 L440.0,115.18 L442.5,115.98 L445.0,116.76 L447.5,117.51 L450.0,118.23 L452.5,118.92 L455.0,119.59 L457.5,120.23 L460.0,120.84 L462.5,121.43 L465.0,121.99 L467.5,122.51 L470.0,123.02 L472.5,123.49 L475.0,123.93 L477.5,124.35 L480.0,124.74 L482.5,125.10 L485.0,125.43 L487.5,125.73 L490.0,126.00 L492.5,126.25 L495.0,126.46 L497.5,126.65 L500.0,126.81 L502.5,126.94 L505.0,127.04 L507.5,127.11 L510.0,127.15 L512.5,127.17" stroke="rgb(32,10,195)" stroke-width="1.60"/>
<path d="M297.7,144.98 L306.1,144.98 L306.1,51.92 L307.5,51.92 L308.0,52.05 L308.5,52.17 L309.0,52.30 L309.5,52.43 L310.0,52.57 L310.5,52.70 L311.0,52.84 L311.5,52.97 L312.0,53.11 L312.5,53.26 L313.0,53.40 L313.5,53.55 L314.0,53.70 L314.5,53.85 L315.0,54.00 L315.5,54.16 L316.0,54.32 L316.5,54.49 L317.0,54.66 L317.5,54.83 L318.5,55.19 L319.5,55.57 L320.5,55.96 L321.5,56.37 L322.5,56.81 L323.5,57.26 L324.5,57.73 L325.5,58.21 L326.5,58.71 L327.5,59.22 L328.5,59.74 L329.5,60.27 L330.5,60.81 L331.5,61.35 L332.5,61.90 L333.5,62.45 L334.5,63.00 L335.5,63.55 L336.5,64.11 L337.5,64.66 L338.5,65.22 L339.5,65.77 L340.5,66.33 L341.5,66.89 L342.5,67.44 L343.5,68.00 L344.5,68.56 L345.5,69.11 L346.5,69.67 L347.5,70.23 L350.0,71.61 L352.5,72.99 L355.0,74.37 L357.5,75.75 L360.0,77.11 L362.5,78.47 L365.0,79.82 L367.5,81.16 L370.0,82.49 L372.5,83.81 L375.0,85.12 L377.5,86.42 L380.0,87.71 L382.5,88.98 L385.0,90.24 L387.5,91.48 L390.0,92.71 L392.5,93.92 L395.0,95.11 L397.5,96.29 L400.0,97.45 L402.5,98.59 L405.0,99.71 L407.5,100.81 L410.0,101.89 L412.5,102.95 L415.0,103.99 L417.5,105.01 L420.0,106.01 L422.5,106.98 L425.0,107.93 L427.5,108.86 L430.0,109.76 L432.5,110.64 L435.0,111.50 L437.5,112.33 L440.0,113.14 L442.5,113.92 L445.0,114.68 L447.5,115.41 L450.0,116.11 L452.5,116.79 L455.0,117.45 L457.5,118.07 L460.0,118.67 L462.5,119.25 L465.0,119.79 L467.5,120.31 L470.0,120.80 L472.5,121.27 L475.0,121.70 L477.5,122.11 L480.0,122.49 L482.5,122.85 L485.0,123.17 L487.5,123.47 L490.0,123.74 L492.5,123.98 L495.0,124.19 L497.5,124.38 L500.0,124.53 L502.5,124.66 L505.0,124.76 L507.5,124.83 L510.0,124.87 L512.5,124.89" stroke="rgb(31,10,198)" stroke-width="1.60"/>
<path d="M297.7,144.98 L306.1,144.98 L306.1,52.13 L307.5,52.13 L308.0,52.26 L308.5,52.39 L309.0,52.52 L309.5,52.65 L310.0,52.78 L310.5,52.92 L311.0,53.05 L311.5,53.19 L312.0,53.33 L312.5,53.47 L313.0,53.62 L313.5,53.76 L314.0,53.91 L314.5,54.07 L315.0,54.22 L315.5,54.38 L316.0,54.55 L316.5,54.71 L317.0,54.88 L317.5,55.06 L318.5,55.41 L319.5,55.79 L320.5,56.18 L321.5,56.60 L322.5,57.03 L323.5,57.47 L324.5,57.93 L325.5,58.41 L326.5,58.90 L327.5,59.40 L328.5,59.90 L329.5,60.42 L330.5,60.94 L331.5,61.46 L332.5,61.98 L333.5,62.51 L334.5,63.04 L335.5,63.57 L336.5,64.11 L337.5,64.64 L338.5,65.17 L339.5,65.71 L340.5,66.24 L341.5,66.77 L342.5,67.31 L343.5,67.84 L344.5,68.37 L345.5,68.91 L346.5,69.44 L347.5,69.97 L350.0,71.30 L352.5,72.62 L355.0,73.94 L357.5,75.25 L360.0,76.55 L362.5,77.85 L365.0,79.14 L367.5,80.43 L370.0,81.70 L372.5,82.96 L375.0,84.22 L377.5,85.46 L380.0,86.69 L382.5,87.91 L385.0,89.11 L387.5,90.30 L390.0,91.48 L392.5,92.64 L395.0,93.79 L397.5,94.92 L400.0,96.04 L402.5,97.13 L405.0,98.21 L407.5,99.27 L410.0,100.32 L412.5,101.34 L415.0,102.34 L417.5,103.33 L420.0,104.29 L422.5,105.23 L425.0,106.15 L427.5,107.05 L430.0,107.92 L432.5,108.78 L435.0,109.61 L437.5,110.42 L440.0,111.20 L442.5,111.96 L445.0,112.69 L447.5,113.40 L450.0,114.09 L452.5,114.75 L455.0,115.39 L457.5,116.00 L460.0,116.58 L462.5,117.14 L465.0,117.67 L467.5,118.18 L470.0,118.66 L472.5,119.11 L475.0,119.54 L477.5,119.94 L480.0,120.31 L482.5,120.66 L485.0,120.98 L487.5,121.27 L490.0,121.53 L492.5,121.77 L495.0,121.98 L497.5,122.16 L500.0,122.31 L502.5,122.43 L505.0,122.53 L507.5,122.60 L510.0,122.64 L512.5,122.66" stroke="rgb(30,10,201)" stroke-width="1.60"/>
<path d="M297.7,144.98 L306.1,144.98 L306.1,52.35 L307.5,52.35 L308.0,52.47 L308.5,52.60 L309.0,52.73 L309.5,52.85 L310.0,52.99 L310.5,53.12 L311.0,53.25 L311.5,53.39 L312.0,53.53 L312.5,53.67 L313.0,53.81 L313.5,53.96 L314.0,54.11 L314.5,54.26 L315.0,54.41 L315.5,54.57 L316.0,54.73 L316.5,54.89 L317.0,55.06 L317.5,55.23 L318.5,55.59 L319.5,55.96 L320.5,56.35 L321.5,56.75 L322.5,57.17 L323.5,57.61 L324.5,58.06 L325.5,58.52 L326.5,58.99 L327.5,59.47 L328.5,59.96 L329.5,60.46 L330.5,60.96 L331.5,61.46 L332.5,61.97 L333.5,62.48 L334.5,62.99 L335.5,63.51 L336.5,64.02 L337.5,64.53 L338.5,65.05 L339.5,65.56 L340.5,66.07 L341.5,66.59 L342.5,67.10 L343.5,67.61 L344.5,68.13 L345.5,68.64 L346.5,69.15 L347.5,69.66 L350.0,70.94 L352.5,72.21 L355.0,73.48 L357.5,74.74 L360.0,75.99 L362.5,77.24 L365.0,78.48 L367.5,79.71 L370.0,80.93 L372.5,82.14 L375.0,83.35 L377.5,84.54 L380.0,85.72 L382.5,86.89 L385.0,88.05 L387.5,89.19 L390.0,90.32 L392.5,91.44 L395.0,92.54 L397.5,93.63 L400.0,94.70 L402.5,95.75 L405.0,96.79 L407.5,97.81 L410.0,98.82 L412.5,99.80 L415.0,100.77 L417.5,101.71 L420.0,102.64 L422.5,103.55 L425.0,104.44 L427.5,105.31 L430.0,106.15 L432.5,106.98 L435.0,107.78 L437.5,108.56 L440.0,109.32 L442.5,110.05 L445.0,110.77 L447.5,111.46 L450.0,112.12 L452.5,112.76 L455.0,113.38 L457.5,113.97 L460.0,114.54 L462.5,115.08 L465.0,115.60 L467.5,116.09 L470.0,116.56 L472.5,117.00 L475.0,117.41 L477.5,117.80 L480.0,118.16 L482.5,118.50 L485.0,118.81 L487.5,119.09 L490.0,119.35 L492.5,119.58 L495.0,119.78 L497.5,119.96 L500.0,120.11 L502.5,120.23 L505.0,120.32 L507.5,120.39 L510.0,120.43 L512.5,120.44" stroke="rgb(28,10,203)" stroke-width="1.60"/>
<path d="M297.7,144.98 L306.1,144.98 L306.1,52.56 L307.5,52.56 L308.0,52.68 L308.5,52.81 L309.0,52.93 L309.5,53.06 L310.0,53.19 L310.5,53.32 L311.0,53.45 L311.5,53.59 L312.0,53.72 L312.5,53.86 L313.0,54.00 L313.5,54.15 L314.0,54.29 L314.5,54.44 L315.0,54.59 L315.5,54.75 L316.0,54.91 L316.5,55.07 L317.0,55.23 L317.5,55.40 L318.5,55.75 L319.5,56.12 L320.5,56.49 L321.5,56.89 L322.5,57.30 L323.5,57.72 L324.5,58.16 L325.5,58.61 L326.5,59.06 L327.5,59.53 L328.5,60.00 L329.5,60.48 L330.5,60.96 L331.5,61.45 L332.5,61.94 L333.5,62.43 L334.5,62.92 L335.5,63.41 L336.5,63.90 L337.5,64.40 L338.5,64.89 L339.5,65.39 L340.5,65.88 L341.5,66.38 L342.5,66.87 L343.5,67.36 L344.5,67.86 L345.5,68.35 L346.5,68.84 L347.5,69.34 L350.0,70.56 L352.5,71.78 L355.0,73.00 L357.5,74.21 L360.0,75.42 L362.5,76.62 L365.0,77.81 L367.5,78.99 L370.0,80.17 L372.5,81.33 L375.0,82.49 L377.5,83.63 L380.0,84.77 L382.5,85.89 L385.0,87.00 L387.5,88.10 L390.0,89.19 L392.5,90.26 L395.0,91.32 L397.5,92.37 L400.0,93.40 L402.5,94.41 L405.0,95.41 L407.5,96.39 L410.0,97.36 L412.5,98.31 L415.0,99.24 L417.5,100.15 L420.0,101.04 L422.5,101.92 L425.0,102.77 L427.5,103.61 L430.0,104.43 L432.5,105.22 L435.0,105.99 L437.5,106.75 L440.0,107.48 L442.5,108.19 L445.0,108.88 L447.5,109.54 L450.0,110.18 L452.5,110.80 L455.0,111.40 L457.5,111.97 L460.0,112.52 L462.5,113.05 L465.0,113.55 L467.5,114.02 L470.0,114.47 L472.5,114.90 L475.0,115.30 L477.5,115.68 L480.0,116.03 L482.5,116.35 L485.0,116.65 L487.5,116.93 L490.0,117.18 L492.5,117.40 L495.0,117.60 L497.5,117.77 L500.0,117.91 L502.5,118.03 L505.0,118.12 L507.5,118.19 L510.0,118.23 L512.5,118.24" stroke="rgb(27,10,206)" stroke-width="1.60"/>
<path d="M297.7,144.98 L306.1,144.98 L306.1,52.78 L307.5,52.78 L308.0,52.90 L308.5,53.02 L309.0,53.14 L309.5,53.27 L310.0,53.39 L310.5,53.52 L311.0,53.65 L311.5,53.78 L312.0,53.92 L312.5,54.05 L313.0,54.19 L313.5,54.33 L314.0,54.48 L314.5,54.63 L315.0,54.78 L315.5,54.93 L316.0,55.08 L316.5,55.24 L317.0,55.41 L317.5,55.57 L318.5,55.91 L319.5,56.27 L320.5,56.64 L321.5,57.02 L322.5,57.42 L323.5,57.83 L324.5,58.26 L325.5,58.69 L326.5,59.13 L327.5,59.58 L328.5,60.03 L329.5,60.49 L330.5,60.96 L331.5,61.43 L332.5,61.90 L333.5,62.37 L334.5,62.84 L335.5,63.31 L336.5,63.79 L337.5,64.26 L338.5,64.74 L339.5,65.21 L340.5,65.69 L341.5,66.17 L342.5,66.64 L343.5,67.12 L344.5,67.59 L345.5,68.06 L346.5,68.54 L347.5,69.01 L350.0,70.19 L352.5,71.37 L355.0,72.54 L357.5,73.70 L360.0,74.86 L362.5,76.01 L365.0,77.16 L367.5,78.30 L370.0,79.43 L372.5,80.55 L375.0,81.66 L377.5,82.76 L380.0,83.85 L382.5,84.93 L385.0,86.00 L387.5,87.06 L390.0,88.11 L392.5,89.14 L395.0,90.16 L397.5,91.16 L400.0,92.15 L402.5,93.13 L405.0,94.09 L407.5,95.03 L410.0,95.96 L412.5,96.88 L415.0,97.77 L417.5,98.65 L420.0,99.51 L422.5,100.35 L425.0,101.18 L427.5,101.98 L430.0,102.77 L432.5,103.53 L435.0,104.28 L437.5,105.00 L440.0,105.71 L442.5,106.39 L445.0,107.06 L447.5,107.70 L450.0,108.32 L452.5,108.92 L455.0,109.49 L457.5,110.04 L460.0,110.57 L462.5,111.08 L465.0,111.56 L467.5,112.02 L470.0,112.46 L472.5,112.87 L475.0,113.26 L477.5,113.62 L480.0,113.96 L482.5,114.28 L485.0,114.57 L487.5,114.83 L490.0,115.07 L492.5,115.29 L495.0,115.48 L497.5,115.64 L500.0,115.78 L502.5,115.90 L505.0,115.98 L507.5,116.05 L510.0,116.09 L512.5,116.10" stroke="rgb(26,10,209)" stroke-width="1.60"/>
<path d="M297.7,144.98 L306.1,144.98 L306.1,52.99 L307.5,52.99 L308.0,53.11 L308.5,53.23 L309.0,53.35 L309.5,53.47 L310.0,53.60 L310.5,53.72 L311.0,53.85 L311.5,53.98 L312.0,54.11 L312.5,54.25 L313.0,54.38 L313.5,54.52 L314.0,54.67 L314.5,54.81 L315.0,54.96 L315.5,55.11 L316.0,55.26 L316.5,55.42 L317.0,55.58 L317.5,55.74 L318.5,56.08 L319.5,56.42 L320.5,56.79 L321.5,57.16 L322.5,57.55 L323.5,57.95 L324.5,58.35 L325.5,58.77 L326.5,59.20 L327.5,59.63 L328.5,60.07 L329.5,60.51 L330.5,60.96 L331.5,61.41 L332.5,61.86 L333.5,62.31 L334.5,62.77 L335.5,63.22 L336.5,63.68 L337.5,64.14 L338.5,64.60 L339.5,65.05 L340.5,65.51 L341.5,65.97 L342.5,66.43 L343.5,66.88 L344.5,67.34 L345.5,67.80 L346.5,68.25 L347.5,68.71 L350.0,69.84 L352.5,70.97 L355.0,72.10 L357.5,73.22 L360.0,74.34 L362.5,75.45 L365.0,76.55 L367.5,77.65 L370.0,78.73 L372.5,79.81 L375.0,80.88 L377.5,81.94 L380.0,82.99 L382.5,84.03 L385.0,85.06 L387.5,86.08 L390.0,87.09 L392.5,88.08 L395.0,89.06 L397.5,90.03 L400.0,90.98 L402.5,91.92 L405.0,92.85 L407.5,93.76 L410.0,94.66 L412.5,95.53 L415.0,96.40 L417.5,97.24 L420.0,98.07 L422.5,98.89 L425.0,99.68 L427.5,100.45 L430.0,101.21 L432.5,101.95 L435.0,102.67 L437.5,103.37 L440.0,104.05 L442.5,104.71 L445.0,105.35 L447.5,105.97 L450.0,106.57 L452.5,107.14 L455.0,107.70 L457.5,108.23 L460.0,108.74 L462.5,109.23 L465.0,109.70 L467.5,110.14 L470.0,110.56 L472.5,110.96 L475.0,111.33 L477.5,111.68 L480.0,112.01 L482.5,112.31 L485.0,112.60 L487.5,112.85 L490.0,113.08 L492.5,113.29 L495.0,113.47 L497.5,113.63 L500.0,113.77 L502.5,113.88 L505.0,113.97 L507.5,114.03 L510.0,114.06 L512.5,114.08" stroke="rgb(24,10,211)" stroke-width="1.60"/>
<path d="M297.7,144.98 L306.1,144.98 L306.1,53.21 L307.5,53.21 L308.0,53.32 L308.5,53.44 L309.0,53.56 L309.5,53.68 L310.0,53.80 L310.5,53.92 L311.0,54.05 L311.5,54.18 L312.0,54.31 L312.5,54.44 L313.0,54.58 L313.5,54.71 L314.0,54.85 L314.5,55.00 L315.0,55.14 L315.5,55.29 L316.0,55.44 L316.5,55.59 L317.0,55.75 L317.5,55.91 L318.5,56.24 L319.5,56.58 L320.5,56.93 L321.5,57.30 L322.5,57.68 L323.5,58.06 L324.5,58.46 L325.5,58.86 L326.5,59.27 L327.5,59.69 L328.5,60.11 L329.5,60.54 L330.5,60.97 L331.5,61.40 L332.5,61.84 L333.5,62.27 L334.5,62.71 L335.5,63.15 L336.5,63.59 L337.5,64.03 L338.5,64.47 L339.5,64.91 L340.5,65.35 L341.5,65.79 L342.5,66.23 L343.5,66.67 L344.5,67.11 L345.5,67.55 L346.5,67.99 L347.5,68.43 L350.0,69.52 L352.5,70.61 L355.0,71.70 L357.5,72.78 L360.0,73.85 L362.5,74.92 L365.0,75.98 L367.5,77.04 L370.0,78.09 L372.5,79.13 L375.0,80.16 L377.5,81.18 L380.0,82.20 L382.5,83.20 L385.0,84.19 L387.5,85.17 L390.0,86.14 L392.5,87.10 L395.0,88.05 L397.5,88.98 L400.0,89.90 L402.5,90.81 L405.0,91.70 L407.5,92.58 L410.0,93.44 L412.5,94.29 L415.0,95.12 L417.5,95.94 L420.0,96.74 L422.5,97.52 L425.0,98.28 L427.5,99.03 L430.0,99.76 L432.5,100.48 L435.0,101.17 L437.5,101.85 L440.0,102.50 L442.5,103.14 L445.0,103.76 L447.5,104.35 L450.0,104.93 L452.5,105.49 L455.0,106.02 L457.5,106.54 L460.0,107.03 L462.5,107.50 L465.0,107.95 L467.5,108.38 L470.0,108.79 L472.5,109.17 L475.0,109.53 L477.5,109.87 L480.0,110.19 L482.5,110.48 L485.0,110.75 L487.5,111.00 L490.0,111.22 L492.5,111.43 L495.0,111.60 L497.5,111.76 L500.0,111.89 L502.5,111.99 L505.0,112.08 L507.5,112.14 L510.0,112.17 L512.5,112.18" stroke="rgb(22,10,214)" stroke-width="1.60"/>
<path d="M297.7,144.98 L306.1,144.98 L306.1,53.39 L307.5,53.39 L308.0,53.50 L308.5,53.62 L309.0,53.74 L309.5,53.86 L310.0,53.98 L310.5,54.10 L311.0,54.22 L311.5,54.35 L312.0,54.48 L312.5,54.61 L313.0,54.74 L313.5,54.88 L314.0,55.02 L314.5,55.16 L315.0,55.30 L315.5,55.45 L316.0,55.60 L316.5,55.75 L317.0,55.90 L317.5,56.06 L318.5,56.38 L319.5,56.72 L320.5,57.06 L321.5,57.42 L322.5,57.79 L323.5,58.16 L324.5,58.55 L325.5,58.94 L326.5,59.33 L327.5,59.74 L328.5,60.15 L329.5,60.56 L330.5,60.97 L331.5,61.39 L332.5,61.81 L333.5,62.23 L334.5,62.65 L335.5,63.08 L336.5,63.50 L337.5,63.93 L338.5,64.35 L339.5,64.78 L340.5,65.20 L341.5,65.62 L342.5,66.05 L343.5,66.47 L344.5,66.90 L345.5,67.32 L346.5,67.75 L347.5,68.17 L350.0,69.22 L352.5,70.27 L355.0,71.32 L357.5,72.36 L360.0,73.40 L362.5,74.43 L365.0,75.46 L367.5,76.47 L370.0,77.49 L372.5,78.49 L375.0,79.48 L377.5,80.47 L380.0,81.45 L382.5,82.41 L385.0,83.37 L387.5,84.32 L390.0,85.25 L392.5,86.18 L395.0,87.09 L397.5,87.99 L400.0,88.88 L402.5,89.76 L405.0,90.62 L407.5,91.46 L410.0,92.30 L412.5,93.12 L415.0,93.92 L417.5,94.71 L420.0,95.48 L422.5,96.23 L425.0,96.97 L427.5,97.70 L430.0,98.40 L432.5,99.09 L435.0,99.76 L437.5,100.41 L440.0,101.05 L442.5,101.66 L445.0,102.26 L447.5,102.83 L450.0,103.39 L452.5,103.93 L455.0,104.45 L457.5,104.94 L460.0,105.42 L462.5,105.88 L465.0,106.31 L467.5,106.72 L470.0,107.12 L472.5,107.49 L475.0,107.84 L477.5,108.17 L480.0,108.47 L482.5,108.76 L485.0,109.02 L487.5,109.26 L490.0,109.47 L492.5,109.67 L495.0,109.84 L497.5,109.99 L500.0,110.11 L502.5,110.22 L505.0,110.30 L507.5,110.35 L510.0,110.39 L512.5,110.40" stroke="rgb(20,10,216)" stroke-width="1.60"/>
<path d="M297.7,144.98 L306.1,144.98 L306.1,53.57 L307.5,53.57 L308.0,53.68 L308.5,53.80 L309.0,53.91 L309.5,54.03 L310.0,54.15 L310.5,54.27 L311.0,54.39 L311.5,54.52 L312.0,54.64 L312.5,54.77 L313.0,54.90 L313.5,55.04 L314.0,55.17 L314.5,55.31 L315.0,55.45 L315.5,55.60 L316.0,55.74 L316.5,55.89 L317.0,56.04 L317.5,56.20 L318.5,56.52 L319.5,56.84 L320.5,57.18 L321.5,57.53 L322.5,57.88 L323.5,58.25 L324.5,58.62 L325.5,59.00 L326.5,59.39 L327.5,59.78 L328.5,60.17 L329.5,60.57 L330.5,60.97 L331.5,61.37 L332.5,61.78 L333.5,62.19 L334.5,62.59 L335.5,63.00 L336.5,63.41 L337.5,63.82 L338.5,64.23 L339.5,64.64 L340.5,65.05 L341.5,65.46 L342.5,65.87 L343.5,66.28 L344.5,66.69 L345.5,67.10 L346.5,67.51 L347.5,67.92 L350.0,68.94 L352.5,69.95 L355.0,70.96 L357.5,71.97 L360.0,72.97 L362.5,73.97 L365.0,74.96 L367.5,75.94 L370.0,76.92 L372.5,77.88 L375.0,78.84 L377.5,79.80 L380.0,80.74 L382.5,81.67 L385.0,82.60 L387.5,83.51 L390.0,84.42 L392.5,85.31 L395.0,86.19 L397.5,87.06 L400.0,87.92 L402.5,88.76 L405.0,89.59 L407.5,90.41 L410.0,91.22 L412.5,92.01 L415.0,92.78 L417.5,93.54 L420.0,94.29 L422.5,95.02 L425.0,95.73 L427.5,96.43 L430.0,97.11 L432.5,97.78 L435.0,98.43 L437.5,99.06 L440.0,99.67 L442.5,100.26 L445.0,100.84 L447.5,101.40 L450.0,101.93 L452.5,102.45 L455.0,102.95 L457.5,103.43 L460.0,103.89 L462.5,104.33 L465.0,104.76 L467.5,105.16 L470.0,105.53 L472.5,105.89 L475.0,106.23 L477.5,106.55 L480.0,106.84 L482.5,107.12 L485.0,107.37 L487.5,107.60 L490.0,107.81 L492.5,108.00 L495.0,108.16 L497.5,108.31 L500.0,108.43 L502.5,108.53 L505.0,108.61 L507.5,108.66 L510.0,108.70 L512.5,108.71" stroke="rgb(19,10,219)" stroke-width="1.60"/>
<path d="M297.7,144.98 L306.1,144.98 L306.1,53.75 L307.5,53.75 L308.0,53.86 L308.5,53.97 L309.0,54.08 L309.5,54.20 L310.0,54.32 L310.5,54.44 L311.0,54.56 L311.5,54.68 L312.0,54.81 L312.5,54.94 L313.0,55.06 L313.5,55.20 L314.0,55.33 L314.5,55.47 L315.0,55.61 L315.5,55.75 L316.0,55.89 L316.5,56.04 L317.0,56.19 L317.5,56.34 L318.5,56.65 L319.5,56.97 L320.5,57.30 L321.5,57.63 L322.5,57.98 L323.5,58.34 L324.5,58.70 L325.5,59.06 L326.5,59.44 L327.5,59.82 L328.5,60.20 L329.5,60.58 L330.5,60.97 L331.5,61.36 L332.5,61.75 L333.5,62.14 L334.5,62.54 L335.5,62.93 L336.5,63.33 L337.5,63.72 L338.5,64.12 L339.5,64.52 L340.5,64.91 L341.5,65.31 L342.5,65.70 L343.5,66.10 L344.5,66.50 L345.5,66.89 L346.5,67.29 L347.5,67.68 L350.0,68.67 L352.5,69.65 L355.0,70.62 L357.5,71.60 L360.0,72.56 L362.5,73.53 L365.0,74.48 L367.5,75.43 L370.0,76.38 L372.5,77.31 L375.0,78.24 L377.5,79.16 L380.0,80.07 L382.5,80.97 L385.0,81.87 L387.5,82.75 L390.0,83.62 L392.5,84.49 L395.0,85.34 L397.5,86.18 L400.0,87.01 L402.5,87.82 L405.0,88.63 L407.5,89.42 L410.0,90.20 L412.5,90.96 L415.0,91.71 L417.5,92.45 L420.0,93.17 L422.5,93.87 L425.0,94.56 L427.5,95.24 L430.0,95.90 L432.5,96.54 L435.0,97.17 L437.5,97.77 L440.0,98.37 L442.5,98.94 L445.0,99.50 L447.5,100.04 L450.0,100.56 L452.5,101.06 L455.0,101.54 L457.5,102.01 L460.0,102.45 L462.5,102.88 L465.0,103.28 L467.5,103.67 L470.0,104.04 L472.5,104.38 L475.0,104.71 L477.5,105.02 L480.0,105.30 L482.5,105.57 L485.0,105.81 L487.5,106.04 L490.0,106.24 L492.5,106.42 L495.0,106.58 L497.5,106.72 L500.0,106.84 L502.5,106.93 L505.0,107.01 L507.5,107.06 L510.0,107.09 L512.5,107.11" stroke="rgb(17,10,221)" stroke-width="1.68"/>
<path d="M297.7,144.98 L306.1,144.98 L306.1,53.93 L307.5,53.93 L308.0,54.04 L308.5,54.15 L309.0,54.26 L309.5,54.37 L310.0,54.49 L310.5,54.61 L311.0,54.73 L311.5,54.85 L312.0,54.97 L312.5,55.10 L313.0,55.23 L313.5,55.36 L314.0,55.49 L314.5,55.62 L315.0,55.76 L315.5,55.90 L316.0,56.04 L316.5,56.18 L317.0,56.33 L317.5,56.48 L318.5,56.78 L319.5,57.09 L320.5,57.41 L321.5,57.74 L322.5,58.08 L323.5,58.42 L324.5,58.77 L325.5,59.13 L326.5,59.49 L327.5,59.86 L328.5,60.23 L329.5,60.60 L330.5,60.97 L331.5,61.35 L332.5,61.73 L333.5,62.11 L334.5,62.49 L335.5,62.87 L336.5,63.25 L337.5,63.63 L338.5,64.02 L339.5,64.40 L340.5,64.78 L341.5,65.17 L342.5,65.55 L343.5,65.93 L344.5,66.31 L345.5,66.70 L346.5,67.08 L347.5,67.46 L350.0,68.41 L352.5,69.36 L355.0,70.31 L357.5,71.25 L360.0,72.18 L362.5,73.11 L365.0,74.04 L367.5,74.96 L370.0,75.87 L372.5,76.77 L375.0,77.67 L377.5,78.56 L380.0,79.44 L382.5,80.32 L385.0,81.18 L387.5,82.04 L390.0,82.88 L392.5,83.72 L395.0,84.54 L397.5,85.35 L400.0,86.15 L402.5,86.94 L405.0,87.72 L407.5,88.49 L410.0,89.24 L412.5,89.98 L415.0,90.70 L417.5,91.42 L420.0,92.11 L422.5,92.80 L425.0,93.46 L427.5,94.12 L430.0,94.75 L432.5,95.38 L435.0,95.98 L437.5,96.57 L440.0,97.14 L442.5,97.70 L445.0,98.24 L447.5,98.76 L450.0,99.26 L452.5,99.75 L455.0,100.22 L457.5,100.66 L460.0,101.10 L462.5,101.51 L465.0,101.90 L467.5,102.28 L470.0,102.63 L472.5,102.97 L475.0,103.28 L477.5,103.58 L480.0,103.86 L482.5,104.11 L485.0,104.35 L487.5,104.56 L490.0,104.76 L492.5,104.94 L495.0,105.09 L497.5,105.23 L500.0,105.34 L502.5,105.43 L505.0,105.51 L507.5,105.56 L510.0,105.59 L512.5,105.60" stroke="rgb(16,10,223)" stroke-width="1.68"/>
<path d="M297.7,144.98 L306.1,144.98 L306.1,54.10 L307.5,54.10 L308.0,54.21 L308.5,54.32 L309.0,54.43 L309.5,54.55 L310.0,54.66 L310.5,54.78 L311.0,54.90 L311.5,55.02 L312.0,55.14 L312.5,55.26 L313.0,55.39 L313.5,55.51 L314.0,55.64 L314.5,55.78 L315.0,55.91 L315.5,56.05 L316.0,56.19 L316.5,56.33 L317.0,56.47 L317.5,56.62 L318.5,56.91 L319.5,57.22 L320.5,57.53 L321.5,57.85 L322.5,58.18 L323.5,58.52 L324.5,58.86 L325.5,59.20 L326.5,59.55 L327.5,59.90 L328.5,60.26 L329.5,60.62 L330.5,60.98 L331.5,61.35 L332.5,61.71 L333.5,62.08 L334.5,62.45 L335.5,62.82 L336.5,63.19 L337.5,63.56 L338.5,63.93 L339.5,64.30 L340.5,64.67 L341.5,65.04 L342.5,65.41 L343.5,65.78 L344.5,66.15 L345.5,66.52 L346.5,66.89 L347.5,67.26 L350.0,68.18 L352.5,69.10 L355.0,70.01 L357.5,70.92 L360.0,71.83 L362.5,72.73 L365.0,73.62 L367.5,74.51 L370.0,75.40 L372.5,76.27 L375.0,77.14 L377.5,78.00 L380.0,78.86 L382.5,79.70 L385.0,80.54 L387.5,81.37 L390.0,82.18 L392.5,82.99 L395.0,83.79 L397.5,84.58 L400.0,85.35 L402.5,86.12 L405.0,86.87 L407.5,87.61 L410.0,88.34 L412.5,89.06 L415.0,89.76 L417.5,90.45 L420.0,91.12 L422.5,91.78 L425.0,92.43 L427.5,93.06 L430.0,93.68 L432.5,94.28 L435.0,94.87 L437.5,95.44 L440.0,95.99 L442.5,96.53 L445.0,97.05 L447.5,97.56 L450.0,98.05 L452.5,98.52 L455.0,98.97 L457.5,99.41 L460.0,99.82 L462.5,100.22 L465.0,100.60 L467.5,100.97 L470.0,101.31 L472.5,101.63 L475.0,101.94 L477.5,102.23 L480.0,102.50 L482.5,102.74 L485.0,102.97 L487.5,103.18 L490.0,103.37 L492.5,103.54 L495.0,103.69 L497.5,103.82 L500.0,103.93 L502.5,104.02 L505.0,104.09 L507.5,104.14 L510.0,104.17 L512.5,104.18" stroke="rgb(15,10,225)" stroke-width="1.68"/>
<path d="M297.7,144.98 L306.1,144.98 L306.1,54.28 L307.5,54.28 L308.0,54.39 L308.5,54.50 L309.0,54.61 L309.5,54.72 L310.0,54.83 L310.5,54.95 L311.0,55.06 L311.5,55.18 L312.0,55.30 L312.5,55.42 L313.0,55.55 L313.5,55.68 L314.0,55.80 L314.5,55.93 L315.0,56.07 L315.5,56.20 L316.0,56.34 L316.5,56.47 L317.0,56.61 L317.5,56.76 L318.5,57.05 L319.5,57.35 L320.5,57.65 L321.5,57.97 L322.5,58.28 L323.5,58.61 L324.5,58.94 L325.5,59.28 L326.5,59.61 L327.5,59.96 L328.5,60.30 L329.5,60.65 L330.5,61.00 L331.5,61.35 L332.5,61.71 L333.5,62.06 L334.5,62.42 L335.5,62.78 L336.5,63.13 L337.5,63.49 L338.5,63.85 L339.5,64.21 L340.5,64.57 L341.5,64.92 L342.5,65.28 L343.5,65.64 L344.5,66.00 L345.5,66.36 L346.5,66.71 L347.5,67.07 L350.0,67.96 L352.5,68.85 L355.0,69.74 L357.5,70.62 L360.0,71.50 L362.5,72.37 L365.0,73.23 L367.5,74.10 L370.0,74.95 L372.5,75.80 L375.0,76.64 L377.5,77.48 L380.0,78.30 L382.5,79.12 L385.0,79.93 L387.5,80.74 L390.0,81.53 L392.5,82.31 L395.0,83.08 L397.5,83.85 L400.0,84.60 L402.5,85.34 L405.0,86.07 L407.5,86.79 L410.0,87.49 L412.5,88.19 L415.0,88.87 L417.5,89.54 L420.0,90.19 L422.5,90.83 L425.0,91.46 L427.5,92.07 L430.0,92.67 L432.5,93.25 L435.0,93.82 L437.5,94.37 L440.0,94.91 L442.5,95.43 L445.0,95.94 L447.5,96.43 L450.0,96.90 L452.5,97.36 L455.0,97.80 L457.5,98.22 L460.0,98.62 L462.5,99.01 L465.0,99.38 L467.5,99.73 L470.0,100.06 L472.5,100.38 L475.0,100.68 L477.5,100.95 L480.0,101.21 L482.5,101.45 L485.0,101.68 L487.5,101.88 L490.0,102.06 L492.5,102.23 L495.0,102.37 L497.5,102.50 L500.0,102.61 L502.5,102.69 L505.0,102.76 L507.5,102.81 L510.0,102.84 L512.5,102.85" stroke="rgb(13,10,227)" stroke-width="1.68"/>
<path d="M297.7,144.98 L306.1,144.98 L306.1,54.40 L307.5,54.40 L308.0,54.51 L308.5,54.61 L309.0,54.72 L309.5,54.83 L310.0,54.95 L310.5,55.06 L311.0,55.18 L311.5,55.29 L312.0,55.41 L312.5,55.54 L313.0,55.66 L313.5,55.78 L314.0,55.91 L314.5,56.04 L315.0,56.17 L315.5,56.30 L316.0,56.44 L316.5,56.57 L317.0,56.71 L317.5,56.85 L318.5,57.14 L319.5,57.43 L320.5,57.73 L321.5,58.04 L322.5,58.35 L323.5,58.67 L324.5,58.99 L325.5,59.32 L326.5,59.65 L327.5,59.98 L328.5,60.32 L329.5,60.66 L330.5,61.00 L331.5,61.34 L332.5,61.69 L333.5,62.03 L334.5,62.38 L335.5,62.72 L336.5,63.07 L337.5,63.42 L338.5,63.77 L339.5,64.11 L340.5,64.46 L341.5,64.81 L342.5,65.16 L343.5,65.51 L344.5,65.85 L345.5,66.20 L346.5,66.55 L347.5,66.89 L350.0,67.76 L352.5,68.62 L355.0,69.48 L357.5,70.33 L360.0,71.18 L362.5,72.03 L365.0,72.87 L367.5,73.70 L370.0,74.53 L372.5,75.35 L375.0,76.17 L377.5,76.98 L380.0,77.78 L382.5,78.57 L385.0,79.36 L387.5,80.14 L390.0,80.91 L392.5,81.66 L395.0,82.41 L397.5,83.15 L400.0,83.88 L402.5,84.60 L405.0,85.31 L407.5,86.00 L410.0,86.69 L412.5,87.36 L415.0,88.02 L417.5,88.67 L420.0,89.30 L422.5,89.93 L425.0,90.53 L427.5,91.13 L430.0,91.71 L432.5,92.27 L435.0,92.82 L437.5,93.36 L440.0,93.88 L442.5,94.39 L445.0,94.88 L447.5,95.35 L450.0,95.81 L452.5,96.25 L455.0,96.68 L457.5,97.09 L460.0,97.48 L462.5,97.86 L465.0,98.21 L467.5,98.55 L470.0,98.88 L472.5,99.18 L475.0,99.47 L477.5,99.74 L480.0,99.99 L482.5,100.23 L485.0,100.44 L487.5,100.64 L490.0,100.82 L492.5,100.98 L495.0,101.12 L497.5,101.24 L500.0,101.35 L502.5,101.43 L505.0,101.50 L507.5,101.54 L510.0,101.57 L512.5,101.58" stroke="rgb(11,10,229)" stroke-width="1.68"/>
<path d="M297.7,144.98 L306.1,144.98 L306.1,54.49 L307.5,54.49 L308.0,54.60 L308.5,54.70 L309.0,54.81 L309.5,54.92 L310.0,55.03 L310.5,55.14 L311.0,55.26 L311.5,55.38 L312.0,55.49 L312.5,55.61 L313.0,55.74 L313.5,55.86 L314.0,55.98 L314.5,56.11 L315.0,56.24 L315.5,56.37 L316.0,56.50 L316.5,56.64 L317.0,56.77 L317.5,56.91 L318.5,57.19 L319.5,57.48 L320.5,57.78 L321.5,58.08 L322.5,58.38 L323.5,58.69 L324.5,59.01 L325.5,59.33 L326.5,59.65 L327.5,59.98 L328.5,60.31 L329.5,60.64 L330.5,60.97 L331.5,61.30 L332.5,61.64 L333.5,61.97 L334.5,62.31 L335.5,62.65 L336.5,62.99 L337.5,63.32 L338.5,63.66 L339.5,64.00 L340.5,64.34 L341.5,64.68 L342.5,65.02 L343.5,65.36 L344.5,65.69 L345.5,66.03 L346.5,66.37 L347.5,66.71 L350.0,67.55 L352.5,68.38 L355.0,69.22 L357.5,70.05 L360.0,70.87 L362.5,71.69 L365.0,72.51 L367.5,73.32 L370.0,74.13 L372.5,74.92 L375.0,75.72 L377.5,76.50 L380.0,77.28 L382.5,78.05 L385.0,78.81 L387.5,79.57 L390.0,80.31 L392.5,81.05 L395.0,81.77 L397.5,82.49 L400.0,83.20 L402.5,83.90 L405.0,84.58 L407.5,85.26 L410.0,85.92 L412.5,86.57 L415.0,87.21 L417.5,87.84 L420.0,88.46 L422.5,89.06 L425.0,89.65 L427.5,90.23 L430.0,90.79 L432.5,91.34 L435.0,91.87 L437.5,92.39 L440.0,92.90 L442.5,93.39 L445.0,93.86 L447.5,94.32 L450.0,94.77 L452.5,95.20 L455.0,95.61 L457.5,96.01 L460.0,96.39 L462.5,96.75 L465.0,97.10 L467.5,97.43 L470.0,97.75 L472.5,98.04 L475.0,98.32 L477.5,98.58 L480.0,98.83 L482.5,99.05 L485.0,99.26 L487.5,99.45 L490.0,99.63 L492.5,99.78 L495.0,99.92 L497.5,100.04 L500.0,100.14 L502.5,100.22 L505.0,100.29 L507.5,100.33 L510.0,100.36 L512.5,100.37" stroke="rgb(9,10,231)" stroke-width="1.68"/>
<path d="M297.7,144.98 L306.1,144.98 L306.1,54.58 L307.5,54.58 L308.0,54.68 L308.5,54.79 L309.0,54.90 L309.5,55.00 L310.0,55.11 L310.5,55.22 L311.0,55.34 L311.5,55.45 L312.0,55.57 L312.5,55.69 L313.0,55.81 L313.5,55.93 L314.0,56.05 L314.5,56.18 L315.0,56.30 L315.5,56.43 L316.0,56.56 L316.5,56.69 L317.0,56.83 L317.5,56.96 L318.5,57.24 L319.5,57.52 L320.5,57.81 L321.5,58.10 L322.5,58.40 L323.5,58.70 L324.5,59.01 L325.5,59.32 L326.5,59.64 L327.5,59.96 L328.5,60.28 L329.5,60.60 L330.5,60.92 L331.5,61.25 L332.5,61.58 L333.5,61.90 L334.5,62.23 L335.5,62.56 L336.5,62.89 L337.5,63.22 L338.5,63.55 L339.5,63.88 L340.5,64.21 L341.5,64.54 L342.5,64.87 L343.5,65.20 L344.5,65.53 L345.5,65.86 L346.5,66.18 L347.5,66.51 L350.0,67.33 L352.5,68.15 L355.0,68.96 L357.5,69.77 L360.0,70.57 L362.5,71.37 L365.0,72.16 L367.5,72.95 L370.0,73.73 L372.5,74.51 L375.0,75.28 L377.5,76.04 L380.0,76.80 L382.5,77.55 L385.0,78.29 L387.5,79.02 L390.0,79.74 L392.5,80.46 L395.0,81.17 L397.5,81.86 L400.0,82.55 L402.5,83.23 L405.0,83.89 L407.5,84.55 L410.0,85.19 L412.5,85.83 L415.0,86.45 L417.5,87.06 L420.0,87.65 L422.5,88.24 L425.0,88.81 L427.5,89.37 L430.0,89.92 L432.5,90.45 L435.0,90.97 L437.5,91.48 L440.0,91.97 L442.5,92.44 L445.0,92.90 L447.5,93.35 L450.0,93.78 L452.5,94.20 L455.0,94.60 L457.5,94.99 L460.0,95.36 L462.5,95.71 L465.0,96.05 L467.5,96.37 L470.0,96.67 L472.5,96.96 L475.0,97.23 L477.5,97.49 L480.0,97.72 L482.5,97.94 L485.0,98.15 L487.5,98.33 L490.0,98.50 L492.5,98.65 L495.0,98.78 L497.5,98.90 L500.0,99.00 L502.5,99.08 L505.0,99.14 L507.5,99.18 L510.0,99.21 L512.5,99.22" stroke="rgb(7,10,233)" stroke-width="1.68"/>
<path d="M297.7,144.98 L306.1,144.98 L306.1,54.67 L307.5,54.67 L308.0,54.77 L308.5,54.87 L309.0,54.98 L309.5,55.09 L310.0,55.19 L310.5,55.30 L311.0,55.42 L311.5,55.53 L312.0,55.64 L312.5,55.76 L313.0,55.88 L313.5,56.00 L314.0,56.12 L314.5,56.24 L315.0,56.36 L315.5,56.49 L316.0,56.62 L316.5,56.75 L317.0,56.88 L317.5,57.01 L318.5,57.28 L319.5,57.56 L320.5,57.84 L321.5,58.12 L322.5,58.42 L323.5,58.71 L324.5,59.01 L325.5,59.32 L326.5,59.62 L327.5,59.93 L328.5,60.25 L329.5,60.56 L330.5,60.88 L331.5,61.19 L332.5,61.51 L333.5,61.83 L334.5,62.15 L335.5,62.47 L336.5,62.79 L337.5,63.11 L338.5,63.43 L339.5,63.75 L340.5,64.08 L341.5,64.40 L342.5,64.72 L343.5,65.04 L344.5,65.36 L345.5,65.68 L346.5,66.00 L347.5,66.32 L350.0,67.12 L352.5,67.91 L355.0,68.70 L357.5,69.49 L360.0,70.27 L362.5,71.05 L365.0,71.82 L367.5,72.59 L370.0,73.35 L372.5,74.11 L375.0,74.86 L377.5,75.60 L380.0,76.34 L382.5,77.07 L385.0,77.79 L387.5,78.50 L390.0,79.20 L392.5,79.90 L395.0,80.58 L397.5,81.26 L400.0,81.93 L402.5,82.59 L405.0,83.23 L407.5,83.87 L410.0,84.50 L412.5,85.11 L415.0,85.72 L417.5,86.31 L420.0,86.89 L422.5,87.46 L425.0,88.02 L427.5,88.56 L430.0,89.09 L432.5,89.61 L435.0,90.11 L437.5,90.60 L440.0,91.08 L442.5,91.54 L445.0,91.99 L447.5,92.43 L450.0,92.85 L452.5,93.25 L455.0,93.64 L457.5,94.01 L460.0,94.37 L462.5,94.72 L465.0,95.04 L467.5,95.36 L470.0,95.65 L472.5,95.93 L475.0,96.20 L477.5,96.44 L480.0,96.67 L482.5,96.89 L485.0,97.08 L487.5,97.26 L490.0,97.43 L492.5,97.57 L495.0,97.70 L497.5,97.82 L500.0,97.91 L502.5,97.99 L505.0,98.05 L507.5,98.09 L510.0,98.12 L512.5,98.13" stroke="rgb(6,10,234)" stroke-width="1.68"/>
<path d="M297.7,144.98 L306.1,144.98 L306.1,54.76 L307.5,54.76 L308.0,54.86 L308.5,54.96 L309.0,55.06 L309.5,55.17 L310.0,55.28 L310.5,55.38 L311.0,55.49 L311.5,55.60 L312.0,55.72 L312.5,55.83 L313.0,55.95 L313.5,56.06 L314.0,56.18 L314.5,56.30 L315.0,56.43 L315.5,56.55 L316.0,56.67 L316.5,56.80 L317.0,56.93 L317.5,57.06 L318.5,57.32 L319.5,57.59 L320.5,57.87 L321.5,58.15 L322.5,58.43 L323.5,58.72 L324.5,59.01 L325.5,59.31 L326.5,59.61 L327.5,59.91 L328.5,60.22 L329.5,60.52 L330.5,60.83 L331.5,61.14 L332.5,61.45 L333.5,61.76 L334.5,62.07 L335.5,62.38 L336.5,62.69 L337.5,63.01 L338.5,63.32 L339.5,63.63 L340.5,63.95 L341.5,64.26 L342.5,64.57 L343.5,64.89 L344.5,65.20 L345.5,65.51 L346.5,65.82 L347.5,66.14 L350.0,66.91 L352.5,67.69 L355.0,68.46 L357.5,69.22 L360.0,69.99 L362.5,70.74 L365.0,71.50 L367.5,72.25 L370.0,72.99 L372.5,73.72 L375.0,74.45 L377.5,75.18 L380.0,75.89 L382.5,76.60 L385.0,77.30 L387.5,78.00 L390.0,78.68 L392.5,79.36 L395.0,80.03 L397.5,80.69 L400.0,81.34 L402.5,81.98 L405.0,82.61 L407.5,83.23 L410.0,83.84 L412.5,84.44 L415.0,85.02 L417.5,85.60 L420.0,86.16 L422.5,86.72 L425.0,87.26 L427.5,87.79 L430.0,88.30 L432.5,88.81 L435.0,89.30 L437.5,89.78 L440.0,90.24 L442.5,90.69 L445.0,91.13 L447.5,91.55 L450.0,91.96 L452.5,92.35 L455.0,92.73 L457.5,93.09 L460.0,93.44 L462.5,93.77 L465.0,94.09 L467.5,94.40 L470.0,94.68 L472.5,94.96 L475.0,95.21 L477.5,95.45 L480.0,95.68 L482.5,95.88 L485.0,96.08 L487.5,96.25 L490.0,96.41 L492.5,96.55 L495.0,96.68 L497.5,96.79 L500.0,96.88 L502.5,96.95 L505.0,97.01 L507.5,97.06 L510.0,97.08 L512.5,97.09" stroke="rgb(4,10,236)" stroke-width="1.68"/>
<path d="M297.7,144.98 L306.1,144.98 L306.1,54.85 L307.5,54.85 L308.0,54.95 L308.5,55.05 L309.0,55.15 L309.5,55.25 L310.0,55.36 L310.5,55.46 L311.0,55.57 L311.5,55.68 L312.0,55.79 L312.5,55.90 L313.0,56.02 L313.5,56.13 L314.0,56.25 L314.5,56.37 L315.0,56.49 L315.5,56.61 L316.0,56.73 L316.5,56.86 L317.0,56.98 L317.5,57.11 L318.5,57.37 L319.5,57.63 L320.5,57.90 L321.5,58.17 L322.5,58.45 L323.5,58.73 L324.5,59.02 L325.5,59.31 L326.5,59.60 L327.5,59.89 L328.5,60.19 L329.5,60.49 L330.5,60.79 L331.5,61.09 L332.5,61.39 L333.5,61.69 L334.5,61.99 L335.5,62.30 L336.5,62.60 L337.5,62.91 L338.5,63.21 L339.5,63.52 L340.5,63.82 L341.5,64.13 L342.5,64.43 L343.5,64.74 L344.5,65.04 L345.5,65.35 L346.5,65.65 L347.5,65.96 L350.0,66.71 L352.5,67.47 L355.0,68.22 L357.5,68.97 L360.0,69.71 L362.5,70.45 L365.0,71.18 L367.5,71.91 L370.0,72.64 L372.5,73.35 L375.0,74.06 L377.5,74.77 L380.0,75.47 L382.5,76.16 L385.0,76.84 L387.5,77.52 L390.0,78.19 L392.5,78.84 L395.0,79.50 L397.5,80.14 L400.0,80.77 L402.5,81.39 L405.0,82.01 L407.5,82.61 L410.0,83.21 L412.5,83.79 L415.0,84.36 L417.5,84.92 L420.0,85.47 L422.5,86.01 L425.0,86.54 L427.5,87.05 L430.0,87.55 L432.5,88.04 L435.0,88.52 L437.5,88.99 L440.0,89.44 L442.5,89.88 L445.0,90.30 L447.5,90.71 L450.0,91.11 L452.5,91.49 L455.0,91.86 L457.5,92.21 L460.0,92.55 L462.5,92.88 L465.0,93.19 L467.5,93.48 L470.0,93.76 L472.5,94.03 L475.0,94.28 L477.5,94.51 L480.0,94.73 L482.5,94.93 L485.0,95.12 L487.5,95.29 L490.0,95.44 L492.5,95.58 L495.0,95.70 L497.5,95.81 L500.0,95.90 L502.5,95.97 L505.0,96.03 L507.5,96.07 L510.0,96.10 L512.5,96.10" stroke="rgb(2,10,238)" stroke-width="1.68"/>
<path d="M297.7,144.98 L306.1,144.98 L306.1,54.94 L307.5,54.94 L308.0,55.03 L308.5,55.13 L309.0,55.23 L309.5,55.34 L310.0,55.44 L310.5,55.54 L311.0,55.65 L311.5,55.76 L312.0,55.87 L312.5,55.98 L313.0,56.09 L313.5,56.20 L314.0,56.32 L314.5,56.43 L315.0,56.55 L315.5,56.67 L316.0,56.79 L316.5,56.91 L317.0,57.03 L317.5,57.16 L318.5,57.41 L319.5,57.67 L320.5,57.93 L321.5,58.20 L322.5,58.47 L323.5,58.74 L324.5,59.02 L325.5,59.30 L326.5,59.59 L327.5,59.87 L328.5,60.16 L329.5,60.45 L330.5,60.75 L331.5,61.04 L332.5,61.33 L333.5,61.63 L334.5,61.92 L335.5,62.22 L336.5,62.52 L337.5,62.81 L338.5,63.11 L339.5,63.41 L340.5,63.71 L341.5,64.00 L342.5,64.30 L343.5,64.60 L344.5,64.90 L345.5,65.19 L346.5,65.49 L347.5,65.79 L350.0,66.53 L352.5,67.26 L355.0,67.99 L357.5,68.72 L360.0,69.45 L362.5,70.17 L365.0,70.88 L367.5,71.59 L370.0,72.30 L372.5,73.00 L375.0,73.69 L377.5,74.38 L380.0,75.06 L382.5,75.73 L385.0,76.40 L387.5,77.06 L390.0,77.71 L392.5,78.35 L395.0,78.99 L397.5,79.61 L400.0,80.23 L402.5,80.84 L405.0,81.44 L407.5,82.03 L410.0,82.60 L412.5,83.17 L415.0,83.73 L417.5,84.28 L420.0,84.81 L422.5,85.34 L425.0,85.85 L427.5,86.35 L430.0,86.84 L432.5,87.32 L435.0,87.78 L437.5,88.24 L440.0,88.68 L442.5,89.10 L445.0,89.52 L447.5,89.92 L450.0,90.30 L452.5,90.68 L455.0,91.04 L457.5,91.38 L460.0,91.71 L462.5,92.03 L465.0,92.33 L467.5,92.62 L470.0,92.89 L472.5,93.15 L475.0,93.39 L477.5,93.62 L480.0,93.83 L482.5,94.03 L485.0,94.21 L487.5,94.37 L490.0,94.52 L492.5,94.66 L495.0,94.78 L497.5,94.88 L500.0,94.97 L502.5,95.04 L505.0,95.10 L507.5,95.14 L510.0,95.16 L512.5,95.17" stroke="rgb(1,10,239)" stroke-width="1.68"/>
<path d="M297.7,144.98 L306.1,144.98 L306.1,55.03 L307.5,55.03 L308.0,55.12 L308.5,55.22 L309.0,55.32 L309.5,55.42 L310.0,55.52 L310.5,55.62 L311.0,55.73 L311.5,55.83 L312.0,55.94 L312.5,56.05 L313.0,56.16 L313.5,56.27 L314.0,56.38 L314.5,56.50 L315.0,56.61 L315.5,56.73 L316.0,56.85 L316.5,56.97 L317.0,57.09 L317.5,57.21 L318.5,57.46 L319.5,57.71 L320.5,57.96 L321.5,58.22 L322.5,58.49 L323.5,58.76 L324.5,59.03 L325.5,59.30 L326.5,59.58 L327.5,59.86 L328.5,60.14 L329.5,60.43 L330.5,60.71 L331.5,61.00 L332.5,61.28 L333.5,61.57 L334.5,61.86 L335.5,62.15 L336.5,62.44 L337.5,62.73 L338.5,63.02 L339.5,63.31 L340.5,63.60 L341.5,63.89 L342.5,64.18 L343.5,64.47 L344.5,64.76 L345.5,65.05 L346.5,65.34 L347.5,65.63 L350.0,66.35 L352.5,67.06 L355.0,67.78 L357.5,68.49 L360.0,69.20 L362.5,69.90 L365.0,70.60 L367.5,71.29 L370.0,71.98 L372.5,72.66 L375.0,73.34 L377.5,74.01 L380.0,74.67 L382.5,75.33 L385.0,75.98 L387.5,76.62 L390.0,77.26 L392.5,77.88 L395.0,78.50 L397.5,79.11 L400.0,79.72 L402.5,80.31 L405.0,80.89 L407.5,81.47 L410.0,82.03 L412.5,82.58 L415.0,83.13 L417.5,83.66 L420.0,84.18 L422.5,84.70 L425.0,85.20 L427.5,85.69 L430.0,86.16 L432.5,86.63 L435.0,87.08 L437.5,87.52 L440.0,87.95 L442.5,88.37 L445.0,88.77 L447.5,89.16 L450.0,89.54 L452.5,89.90 L455.0,90.25 L457.5,90.59 L460.0,90.91 L462.5,91.22 L465.0,91.51 L467.5,91.79 L470.0,92.06 L472.5,92.31 L475.0,92.54 L477.5,92.77 L480.0,92.97 L482.5,93.17 L485.0,93.34 L487.5,93.50 L490.0,93.65 L492.5,93.78 L495.0,93.90 L497.5,94.00 L500.0,94.08 L502.5,94.15 L505.0,94.21 L507.5,94.25 L510.0,94.27 L512.5,94.28" stroke="rgb(0,12,241)" stroke-width="1.68"/>
<path d="M297.7,144.98 L306.1,144.98 L306.1,55.12 L307.5,55.12 L308.0,55.21 L308.5,55.31 L309.0,55.40 L309.5,55.50 L310.0,55.60 L310.5,55.70 L311.0,55.81 L311.5,55.91 L312.0,56.02 L312.5,56.12 L313.0,56.23 L313.5,56.34 L314.0,56.45 L314.5,56.56 L315.0,56.68 L315.5,56.79 L316.0,56.91 L316.5,57.02 L317.0,57.14 L317.5,57.26 L318.5,57.50 L319.5,57.75 L320.5,58.00 L321.5,58.25 L322.5,58.51 L323.5,58.77 L324.5,59.04 L325.5,59.31 L326.5,59.58 L327.5,59.85 L328.5,60.12 L329.5,60.40 L330.5,60.68 L331.5,60.96 L332.5,61.24 L333.5,61.52 L334.5,61.80 L335.5,62.08 L336.5,62.36 L337.5,62.65 L338.5,62.93 L339.5,63.21 L340.5,63.49 L341.5,63.78 L342.5,64.06 L343.5,64.34 L344.5,64.63 L345.5,64.91 L346.5,65.19 L347.5,65.47 L350.0,66.18 L352.5,66.88 L355.0,67.57 L357.5,68.27 L360.0,68.96 L362.5,69.64 L365.0,70.33 L367.5,71.00 L370.0,71.67 L372.5,72.34 L375.0,73.00 L377.5,73.66 L380.0,74.30 L382.5,74.94 L385.0,75.58 L387.5,76.21 L390.0,76.83 L392.5,77.44 L395.0,78.04 L397.5,78.64 L400.0,79.23 L402.5,79.80 L405.0,80.37 L407.5,80.93 L410.0,81.48 L412.5,82.03 L415.0,82.56 L417.5,83.08 L420.0,83.59 L422.5,84.09 L425.0,84.57 L427.5,85.05 L430.0,85.52 L432.5,85.97 L435.0,86.41 L437.5,86.84 L440.0,87.26 L442.5,87.67 L445.0,88.06 L447.5,88.44 L450.0,88.81 L452.5,89.16 L455.0,89.50 L457.5,89.83 L460.0,90.15 L462.5,90.45 L465.0,90.74 L467.5,91.01 L470.0,91.27 L472.5,91.51 L475.0,91.74 L477.5,91.96 L480.0,92.16 L482.5,92.35 L485.0,92.52 L487.5,92.68 L490.0,92.82 L492.5,92.95 L495.0,93.06 L497.5,93.16 L500.0,93.24 L502.5,93.31 L505.0,93.36 L507.5,93.40 L510.0,93.42 L512.5,93.43" stroke="rgb(0,16,242)" stroke-width="1.68"/>
<path d="M297.7,144.98 L306.1,144.98 L306.1,55.20 L307.5,55.20 L308.0,55.30 L308.5,55.39 L309.0,55.49 L309.5,55.59 L310.0,55.69 L310.5,55.79 L311.0,55.89 L311.5,55.99 L312.0,56.09 L312.5,56.20 L313.0,56.30 L313.5,56.41 L314.0,56.52 L314.5,56.63 L315.0,56.74 L315.5,56.85 L316.0,56.96 L316.5,57.08 L317.0,57.20 L317.5,57.31 L318.5,57.55 L319.5,57.79 L320.5,58.04 L321.5,58.29 L322.5,58.54 L323.5,58.79 L324.5,59.05 L325.5,59.31 L326.5,59.58 L327.5,59.84 L328.5,60.11 L329.5,60.38 L330.5,60.65 L331.5,60.92 L332.5,61.20 L333.5,61.47 L334.5,61.74 L335.5,62.02 L336.5,62.29 L337.5,62.57 L338.5,62.85 L339.5,63.12 L340.5,63.40 L341.5,63.67 L342.5,63.95 L343.5,64.23 L344.5,64.50 L345.5,64.78 L346.5,65.05 L347.5,65.33 L350.0,66.02 L352.5,66.70 L355.0,67.38 L357.5,68.06 L360.0,68.73 L362.5,69.40 L365.0,70.07 L367.5,70.73 L370.0,71.39 L372.5,72.04 L375.0,72.68 L377.5,73.32 L380.0,73.95 L382.5,74.58 L385.0,75.20 L387.5,75.81 L390.0,76.42 L392.5,77.01 L395.0,77.60 L397.5,78.19 L400.0,78.76 L402.5,79.32 L405.0,79.88 L407.5,80.43 L410.0,80.96 L412.5,81.49 L415.0,82.01 L417.5,82.52 L420.0,83.02 L422.5,83.50 L425.0,83.98 L427.5,84.45 L430.0,84.90 L432.5,85.35 L435.0,85.78 L437.5,86.20 L440.0,86.61 L442.5,87.00 L445.0,87.39 L447.5,87.76 L450.0,88.12 L452.5,88.46 L455.0,88.80 L457.5,89.12 L460.0,89.42 L462.5,89.72 L465.0,90.00 L467.5,90.26 L470.0,90.52 L472.5,90.76 L475.0,90.98 L477.5,91.19 L480.0,91.39 L482.5,91.57 L485.0,91.74 L487.5,91.89 L490.0,92.03 L492.5,92.16 L495.0,92.27 L497.5,92.36 L500.0,92.45 L502.5,92.51 L505.0,92.56 L507.5,92.60 L510.0,92.62 L512.5,92.63" stroke="rgb(0,21,244)" stroke-width="1.68"/>
<path d="M297.7,144.98 L306.1,144.98 L306.1,55.29 L307.5,55.29 L308.0,55.39 L308.5,55.48 L309.0,55.57 L309.5,55.67 L310.0,55.77 L310.5,55.87 L311.0,55.97 L311.5,56.07 L312.0,56.17 L312.5,56.27 L313.0,56.38 L313.5,56.48 L314.0,56.59 L314.5,56.70 L315.0,56.80 L315.5,56.91 L316.0,57.03 L316.5,57.14 L317.0,57.25 L317.5,57.37 L318.5,57.60 L319.5,57.83 L320.5,58.07 L321.5,58.32 L322.5,58.57 L323.5,58.82 L324.5,59.07 L325.5,59.32 L326.5,59.58 L327.5,59.84 L328.5,60.10 L329.5,60.36 L330.5,60.63 L331.5,60.89 L332.5,61.16 L333.5,61.43 L334.5,61.70 L335.5,61.96 L336.5,62.23 L337.5,62.50 L338.5,62.77 L339.5,63.04 L340.5,63.31 L341.5,63.58 L342.5,63.85 L343.5,64.12 L344.5,64.39 L345.5,64.66 L346.5,64.93 L347.5,65.20 L350.0,65.87 L352.5,66.53 L355.0,67.20 L357.5,67.86 L360.0,68.52 L362.5,69.17 L365.0,69.82 L367.5,70.47 L370.0,71.11 L372.5,71.75 L375.0,72.38 L377.5,73.00 L380.0,73.62 L382.5,74.23 L385.0,74.84 L387.5,75.43 L390.0,76.03 L392.5,76.61 L395.0,77.19 L397.5,77.76 L400.0,78.32 L402.5,78.87 L405.0,79.41 L407.5,79.95 L410.0,80.47 L412.5,80.99 L415.0,81.49 L417.5,81.99 L420.0,82.48 L422.5,82.95 L425.0,83.42 L427.5,83.87 L430.0,84.32 L432.5,84.75 L435.0,85.17 L437.5,85.58 L440.0,85.98 L442.5,86.37 L445.0,86.74 L447.5,87.11 L450.0,87.46 L452.5,87.80 L455.0,88.12 L457.5,88.43 L460.0,88.73 L462.5,89.02 L465.0,89.30 L467.5,89.56 L470.0,89.80 L472.5,90.04 L475.0,90.26 L477.5,90.46 L480.0,90.65 L482.5,90.83 L485.0,91.00 L487.5,91.15 L490.0,91.28 L492.5,91.41 L495.0,91.51 L497.5,91.61 L500.0,91.69 L502.5,91.75 L505.0,91.80 L507.5,91.84 L510.0,91.86 L512.5,91.87" stroke="rgb(0,25,245)" stroke-width="1.68"/>
<path d="M297.7,144.98 L306.1,144.98 L306.1,55.38 L307.5,55.38 L308.0,55.47 L308.5,55.57 L309.0,55.66 L309.5,55.75 L310.0,55.85 L310.5,55.95 L311.0,56.05 L311.5,56.14 L312.0,56.24 L312.5,56.35 L313.0,56.45 L313.5,56.55 L314.0,56.66 L314.5,56.76 L315.0,56.87 L315.5,56.98 L316.0,57.09 L316.5,57.20 L317.0,57.31 L317.5,57.42 L318.5,57.65 L319.5,57.88 L320.5,58.11 L321.5,58.35 L322.5,58.59 L323.5,58.84 L324.5,59.09 L325.5,59.34 L326.5,59.59 L327.5,59.84 L328.5,60.10 L329.5,60.35 L330.5,60.61 L331.5,60.87 L332.5,61.13 L333.5,61.39 L334.5,61.65 L335.5,61.91 L336.5,62.18 L337.5,62.44 L338.5,62.70 L339.5,62.96 L340.5,63.23 L341.5,63.49 L342.5,63.75 L343.5,64.02 L344.5,64.28 L345.5,64.54 L346.5,64.81 L347.5,65.07 L350.0,65.72 L352.5,66.38 L355.0,67.03 L357.5,67.67 L360.0,68.32 L362.5,68.96 L365.0,69.59 L367.5,70.22 L370.0,70.85 L372.5,71.47 L375.0,72.09 L377.5,72.70 L380.0,73.30 L382.5,73.90 L385.0,74.49 L387.5,75.08 L390.0,75.66 L392.5,76.23 L395.0,76.79 L397.5,77.35 L400.0,77.89 L402.5,78.43 L405.0,78.96 L407.5,79.49 L410.0,80.00 L412.5,80.50 L415.0,81.00 L417.5,81.49 L420.0,81.96 L422.5,82.43 L425.0,82.88 L427.5,83.33 L430.0,83.76 L432.5,84.19 L435.0,84.60 L437.5,85.00 L440.0,85.39 L442.5,85.77 L445.0,86.13 L447.5,86.49 L450.0,86.83 L452.5,87.16 L455.0,87.48 L457.5,87.79 L460.0,88.08 L462.5,88.36 L465.0,88.63 L467.5,88.88 L470.0,89.12 L472.5,89.35 L475.0,89.57 L477.5,89.77 L480.0,89.96 L482.5,90.13 L485.0,90.29 L487.5,90.44 L490.0,90.57 L492.5,90.69 L495.0,90.80 L497.5,90.89 L500.0,90.96 L502.5,91.03 L505.0,91.08 L507.5,91.11 L510.0,91.13 L512.5,91.14" stroke="rgb(0,29,246)" stroke-width="1.68"/>
<path d="M297.7,144.98 L306.1,144.98 L306.1,55.46 L307.5,55.46 L308.0,55.55 L308.5,55.64 L309.0,55.73 L309.5,55.83 L310.0,55.92 L310.5,56.02 L311.0,56.11 L311.5,56.21 L312.0,56.31 L312.5,56.41 L313.0,56.51 L313.5,56.61 L314.0,56.72 L314.5,56.82 L315.0,56.93 L315.5,57.03 L316.0,57.14 L316.5,57.25 L317.0,57.36 L317.5,57.47 L318.5,57.69 L319.5,57.92 L320.5,58.15 L321.5,58.38 L322.5,58.62 L323.5,58.86 L324.5,59.10 L325.5,59.34 L326.5,59.59 L327.5,59.84 L328.5,60.09 L329.5,60.34 L330.5,60.59 L331.5,60.84 L332.5,61.10 L333.5,61.35 L334.5,61.61 L335.5,61.86 L336.5,62.12 L337.5,62.38 L338.5,62.63 L339.5,62.89 L340.5,63.15 L341.5,63.40 L342.5,63.66 L343.5,63.92 L344.5,64.17 L345.5,64.43 L346.5,64.69 L347.5,64.94 L350.0,65.58 L352.5,66.22 L355.0,66.86 L357.5,67.49 L360.0,68.12 L362.5,68.74 L365.0,69.36 L367.5,69.98 L370.0,70.59 L372.5,71.20 L375.0,71.80 L377.5,72.39 L380.0,72.99 L382.5,73.57 L385.0,74.15 L387.5,74.72 L390.0,75.28 L392.5,75.84 L395.0,76.39 L397.5,76.94 L400.0,77.47 L402.5,78.00 L405.0,78.52 L407.5,79.03 L410.0,79.53 L412.5,80.02 L415.0,80.51 L417.5,80.98 L420.0,81.45 L422.5,81.90 L425.0,82.35 L427.5,82.78 L430.0,83.20 L432.5,83.62 L435.0,84.02 L437.5,84.41 L440.0,84.79 L442.5,85.16 L445.0,85.52 L447.5,85.87 L450.0,86.20 L452.5,86.53 L455.0,86.84 L457.5,87.14 L460.0,87.42 L462.5,87.70 L465.0,87.96 L467.5,88.21 L470.0,88.44 L472.5,88.67 L475.0,88.88 L477.5,89.07 L480.0,89.26 L482.5,89.43 L485.0,89.58 L487.5,89.73 L490.0,89.86 L492.5,89.97 L495.0,90.08 L497.5,90.17 L500.0,90.24 L502.5,90.30 L505.0,90.35 L507.5,90.39 L510.0,90.41 L512.5,90.42" stroke="rgb(0,33,248)" stroke-width="1.68"/>
<path d="M297.7,144.98 L306.1,144.98 L306.1,55.51 L307.5,55.51 L308.0,55.60 L308.5,55.69 L309.0,55.78 L309.5,55.88 L310.0,55.97 L310.5,56.07 L311.0,56.16 L311.5,56.26 L312.0,56.36 L312.5,56.45 L313.0,56.55 L313.5,56.65 L314.0,56.76 L314.5,56.86 L315.0,56.96 L315.5,57.07 L316.0,57.17 L316.5,57.28 L317.0,57.39 L317.5,57.50 L318.5,57.72 L319.5,57.94 L320.5,58.17 L321.5,58.40 L322.5,58.63 L323.5,58.86 L324.5,59.10 L325.5,59.34 L326.5,59.58 L327.5,59.82 L328.5,60.07 L329.5,60.31 L330.5,60.56 L331.5,60.81 L332.5,61.05 L333.5,61.30 L334.5,61.55 L335.5,61.80 L336.5,62.05 L337.5,62.31 L338.5,62.56 L339.5,62.81 L340.5,63.06 L341.5,63.31 L342.5,63.56 L343.5,63.81 L344.5,64.06 L345.5,64.32 L346.5,64.57 L347.5,64.82 L350.0,65.44 L352.5,66.06 L355.0,66.68 L357.5,67.30 L360.0,67.92 L362.5,68.53 L365.0,69.13 L367.5,69.73 L370.0,70.33 L372.5,70.92 L375.0,71.51 L377.5,72.09 L380.0,72.67 L382.5,73.24 L385.0,73.80 L387.5,74.36 L390.0,74.91 L392.5,75.46 L395.0,76.00 L397.5,76.53 L400.0,77.05 L402.5,77.56 L405.0,78.07 L407.5,78.57 L410.0,79.06 L412.5,79.54 L415.0,80.01 L417.5,80.48 L420.0,80.93 L422.5,81.37 L425.0,81.81 L427.5,82.23 L430.0,82.65 L432.5,83.05 L435.0,83.45 L437.5,83.83 L440.0,84.20 L442.5,84.56 L445.0,84.91 L447.5,85.25 L450.0,85.58 L452.5,85.89 L455.0,86.20 L457.5,86.49 L460.0,86.77 L462.5,87.04 L465.0,87.29 L467.5,87.53 L470.0,87.76 L472.5,87.98 L475.0,88.19 L477.5,88.38 L480.0,88.56 L482.5,88.72 L485.0,88.88 L487.5,89.02 L490.0,89.15 L492.5,89.26 L495.0,89.36 L497.5,89.45 L500.0,89.52 L502.5,89.58 L505.0,89.63 L507.5,89.66 L510.0,89.68 L512.5,89.69" stroke="rgb(0,37,249)" stroke-width="1.68"/>
<path d="M297.7,144.98 L306.1,144.98 L306.1,55.57 L307.5,55.57 L308.0,55.65 L308.5,55.74 L309.0,55.83 L309.5,55.93 L310.0,56.02 L310.5,56.11 L311.0,56.21 L311.5,56.30 L312.0,56.40 L312.5,56.49 L313.0,56.59 L313.5,56.69 L314.0,56.79 L314.5,56.89 L315.0,56.99 L315.5,57.10 L316.0,57.20 L316.5,57.31 L317.0,57.41 L317.5,57.52 L318.5,57.73 L319.5,57.95 L320.5,58.17 L321.5,58.40 L322.5,58.63 L323.5,58.86 L324.5,59.09 L325.5,59.32 L326.5,59.56 L327.5,59.80 L328.5,60.04 L329.5,60.28 L330.5,60.52 L331.5,60.76 L332.5,61.00 L333.5,61.25 L334.5,61.49 L335.5,61.73 L336.5,61.98 L337.5,62.23 L338.5,62.47 L339.5,62.72 L340.5,62.96 L341.5,63.21 L342.5,63.45 L343.5,63.70 L344.5,63.95 L345.5,64.19 L346.5,64.44 L347.5,64.68 L350.0,65.29 L352.5,65.90 L355.0,66.51 L357.5,67.11 L360.0,67.71 L362.5,68.31 L365.0,68.90 L367.5,69.49 L370.0,70.07 L372.5,70.65 L375.0,71.22 L377.5,71.79 L380.0,72.35 L382.5,72.91 L385.0,73.46 L387.5,74.01 L390.0,74.54 L392.5,75.08 L395.0,75.60 L397.5,76.12 L400.0,76.63 L402.5,77.13 L405.0,77.62 L407.5,78.11 L410.0,78.59 L412.5,79.06 L415.0,79.52 L417.5,79.97 L420.0,80.42 L422.5,80.85 L425.0,81.27 L427.5,81.69 L430.0,82.09 L432.5,82.49 L435.0,82.87 L437.5,83.24 L440.0,83.61 L442.5,83.96 L445.0,84.30 L447.5,84.63 L450.0,84.95 L452.5,85.26 L455.0,85.55 L457.5,85.84 L460.0,86.11 L462.5,86.37 L465.0,86.62 L467.5,86.86 L470.0,87.08 L472.5,87.30 L475.0,87.50 L477.5,87.68 L480.0,87.86 L482.5,88.02 L485.0,88.17 L487.5,88.31 L490.0,88.43 L492.5,88.54 L495.0,88.64 L497.5,88.73 L500.0,88.80 L502.5,88.86 L505.0,88.90 L507.5,88.94 L510.0,88.96 L512.5,88.96" stroke="rgb(0,42,249)" stroke-width="1.68"/>
<path d="M297.7,144.98 L306.1,144.98 L306.1,55.62 L307.5,55.62 L308.0,55.71 L308.5,55.79 L309.0,55.88 L309.5,55.97 L310.0,56.06 L310.5,56.16 L311.0,56.25 L311.5,56.34 L312.0,56.44 L312.5,56.53 L313.0,56.63 L313.5,56.73 L314.0,56.82 L314.5,56.92 L315.0,57.02 L315.5,57.12 L316.0,57.23 L316.5,57.33 L317.0,57.43 L317.5,57.54 L318.5,57.75 L319.5,57.96 L320.5,58.18 L321.5,58.40 L322.5,58.62 L323.5,58.85 L324.5,59.07 L325.5,59.30 L326.5,59.53 L327.5,59.77 L328.5,60.00 L329.5,60.23 L330.5,60.47 L331.5,60.71 L332.5,60.94 L333.5,61.18 L334.5,61.42 L335.5,61.66 L336.5,61.90 L337.5,62.14 L338.5,62.38 L339.5,62.62 L340.5,62.86 L341.5,63.10 L342.5,63.34 L343.5,63.58 L344.5,63.82 L345.5,64.06 L346.5,64.30 L347.5,64.54 L350.0,65.14 L352.5,65.73 L355.0,66.32 L357.5,66.91 L360.0,67.50 L362.5,68.08 L365.0,68.66 L367.5,69.23 L370.0,69.80 L372.5,70.37 L375.0,70.93 L377.5,71.48 L380.0,72.03 L382.5,72.58 L385.0,73.11 L387.5,73.65 L390.0,74.17 L392.5,74.69 L395.0,75.20 L397.5,75.71 L400.0,76.20 L402.5,76.70 L405.0,77.18 L407.5,77.65 L410.0,78.12 L412.5,78.58 L415.0,79.03 L417.5,79.47 L420.0,79.90 L422.5,80.32 L425.0,80.74 L427.5,81.14 L430.0,81.53 L432.5,81.92 L435.0,82.29 L437.5,82.66 L440.0,83.01 L442.5,83.36 L445.0,83.69 L447.5,84.01 L450.0,84.32 L452.5,84.62 L455.0,84.91 L457.5,85.19 L460.0,85.46 L462.5,85.71 L465.0,85.95 L467.5,86.19 L470.0,86.40 L472.5,86.61 L475.0,86.81 L477.5,86.99 L480.0,87.16 L482.5,87.32 L485.0,87.47 L487.5,87.60 L490.0,87.72 L492.5,87.83 L495.0,87.92 L497.5,88.01 L500.0,88.08 L502.5,88.13 L505.0,88.18 L507.5,88.21 L510.0,88.23 L512.5,88.24" stroke="rgb(0,55,243)" stroke-width="1.68"/>
<path d="M297.7,144.98 L306.1,144.98 L306.1,55.67 L307.5,55.67 L308.0,55.76 L308.5,55.85 L309.0,55.93 L309.5,56.02 L310.0,56.11 L310.5,56.20 L311.0,56.29 L311.5,56.38 L312.0,56.48 L312.5,56.57 L313.0,56.66 L313.5,56.76 L314.0,56.86 L314.5,56.95 L315.0,57.05 L315.5,57.15 L316.0,57.25 L316.5,57.35 L317.0,57.45 L317.5,57.56 L318.5,57.76 L319.5,57.97 L320.5,58.18 L321.5,58.40 L322.5,58.62 L323.5,58.84 L324.5,59.06 L325.5,59.28 L326.5,59.51 L327.5,59.73 L328.5,59.96 L329.5,60.19 L330.5,60.42 L331.5,60.65 L332.5,60.88 L333.5,61.12 L334.5,61.35 L335.5,61.58 L336.5,61.82 L337.5,62.05 L338.5,62.29 L339.5,62.52 L340.5,62.76 L341.5,62.99 L342.5,63.23 L343.5,63.46 L344.5,63.69 L345.5,63.93 L346.5,64.16 L347.5,64.40 L350.0,64.98 L352.5,65.56 L355.0,66.14 L357.5,66.71 L360.0,67.28 L362.5,67.85 L365.0,68.42 L367.5,68.98 L370.0,69.53 L372.5,70.09 L375.0,70.63 L377.5,71.17 L380.0,71.71 L382.5,72.24 L385.0,72.77 L387.5,73.28 L390.0,73.80 L392.5,74.30 L395.0,74.80 L397.5,75.29 L400.0,75.78 L402.5,76.26 L405.0,76.73 L407.5,77.19 L410.0,77.65 L412.5,78.09 L415.0,78.53 L417.5,78.96 L420.0,79.38 L422.5,79.80 L425.0,80.20 L427.5,80.59 L430.0,80.98 L432.5,81.35 L435.0,81.72 L437.5,82.07 L440.0,82.42 L442.5,82.75 L445.0,83.08 L447.5,83.39 L450.0,83.70 L452.5,83.99 L455.0,84.27 L457.5,84.54 L460.0,84.80 L462.5,85.05 L465.0,85.29 L467.5,85.51 L470.0,85.72 L472.5,85.93 L475.0,86.12 L477.5,86.30 L480.0,86.46 L482.5,86.62 L485.0,86.76 L487.5,86.89 L490.0,87.01 L492.5,87.11 L495.0,87.21 L497.5,87.29 L500.0,87.36 L502.5,87.41 L505.0,87.45 L507.5,87.49 L510.0,87.50 L512.5,87.51" stroke="rgb(0,67,237)" stroke-width="1.68"/>
<path d="M297.7,144.98 L306.1,144.98 L306.1,55.73 L307.5,55.73 L308.0,55.81 L308.5,55.90 L309.0,55.98 L309.5,56.07 L310.0,56.16 L310.5,56.24 L311.0,56.33 L311.5,56.42 L312.0,56.52 L312.5,56.61 L313.0,56.70 L313.5,56.79 L314.0,56.89 L314.5,56.98 L315.0,57.08 L315.5,57.18 L316.0,57.27 L316.5,57.37 L317.0,57.47 L317.5,57.57 L318.5,57.77 L319.5,57.98 L320.5,58.19 L321.5,58.40 L322.5,58.61 L323.5,58.82 L324.5,59.04 L325.5,59.26 L326.5,59.48 L327.5,59.70 L328.5,59.92 L329.5,60.15 L330.5,60.37 L331.5,60.60 L332.5,60.82 L333.5,61.05 L334.5,61.28 L335.5,61.50 L336.5,61.73 L337.5,61.96 L338.5,62.19 L339.5,62.42 L340.5,62.65 L341.5,62.88 L342.5,63.11 L343.5,63.33 L344.5,63.56 L345.5,63.79 L346.5,64.02 L347.5,64.25 L350.0,64.82 L352.5,65.38 L355.0,65.95 L357.5,66.51 L360.0,67.07 L362.5,67.62 L365.0,68.17 L367.5,68.72 L370.0,69.26 L372.5,69.80 L375.0,70.33 L377.5,70.86 L380.0,71.39 L382.5,71.90 L385.0,72.41 L387.5,72.92 L390.0,73.42 L392.5,73.91 L395.0,74.40 L397.5,74.88 L400.0,75.35 L402.5,75.82 L405.0,76.28 L407.5,76.73 L410.0,77.17 L412.5,77.61 L415.0,78.04 L417.5,78.46 L420.0,78.87 L422.5,79.27 L425.0,79.66 L427.5,80.05 L430.0,80.42 L432.5,80.79 L435.0,81.14 L437.5,81.49 L440.0,81.82 L442.5,82.15 L445.0,82.47 L447.5,82.77 L450.0,83.07 L452.5,83.35 L455.0,83.63 L457.5,83.89 L460.0,84.14 L462.5,84.39 L465.0,84.62 L467.5,84.84 L470.0,85.04 L472.5,85.24 L475.0,85.43 L477.5,85.60 L480.0,85.76 L482.5,85.91 L485.0,86.05 L487.5,86.18 L490.0,86.29 L492.5,86.40 L495.0,86.49 L497.5,86.57 L500.0,86.63 L502.5,86.69 L505.0,86.73 L507.5,86.76 L510.0,86.78 L512.5,86.79" stroke="rgb(0,79,231)" stroke-width="1.68"/>
<path d="M297.7,144.98 L306.1,144.98 L306.1,55.78 L307.5,55.78 L308.0,55.86 L308.5,55.95 L309.0,56.03 L309.5,56.12 L310.0,56.20 L310.5,56.29 L311.0,56.38 L311.5,56.46 L312.0,56.55 L312.5,56.64 L313.0,56.73 L313.5,56.83 L314.0,56.92 L314.5,57.01 L315.0,57.11 L315.5,57.20 L316.0,57.30 L316.5,57.39 L317.0,57.49 L317.5,57.59 L318.5,57.79 L319.5,57.99 L320.5,58.19 L321.5,58.39 L322.5,58.60 L323.5,58.81 L324.5,59.02 L325.5,59.23 L326.5,59.45 L327.5,59.66 L328.5,59.88 L329.5,60.10 L330.5,60.32 L331.5,60.54 L332.5,60.76 L333.5,60.98 L334.5,61.20 L335.5,61.42 L336.5,61.65 L337.5,61.87 L338.5,62.09 L339.5,62.32 L340.5,62.54 L341.5,62.76 L342.5,62.98 L343.5,63.21 L344.5,63.43 L345.5,63.65 L346.5,63.88 L347.5,64.10 L350.0,64.65 L352.5,65.21 L355.0,65.76 L357.5,66.30 L360.0,66.85 L362.5,67.39 L365.0,67.93 L367.5,68.46 L370.0,68.99 L372.5,69.51 L375.0,70.03 L377.5,70.55 L380.0,71.06 L382.5,71.56 L385.0,72.06 L387.5,72.55 L390.0,73.04 L392.5,73.52 L395.0,74.00 L397.5,74.47 L400.0,74.93 L402.5,75.38 L405.0,75.83 L407.5,76.27 L410.0,76.70 L412.5,77.12 L415.0,77.54 L417.5,77.95 L420.0,78.35 L422.5,78.74 L425.0,79.12 L427.5,79.50 L430.0,79.86 L432.5,80.22 L435.0,80.56 L437.5,80.90 L440.0,81.23 L442.5,81.55 L445.0,81.85 L447.5,82.15 L450.0,82.44 L452.5,82.72 L455.0,82.99 L457.5,83.24 L460.0,83.49 L462.5,83.72 L465.0,83.95 L467.5,84.16 L470.0,84.36 L472.5,84.56 L475.0,84.74 L477.5,84.91 L480.0,85.06 L482.5,85.21 L485.0,85.35 L487.5,85.47 L490.0,85.58 L492.5,85.68 L495.0,85.77 L497.5,85.85 L500.0,85.91 L502.5,85.96 L505.0,86.01 L507.5,86.04 L510.0,86.05 L512.5,86.06" stroke="rgb(0,91,224)" stroke-width="1.68"/>
<path d="M297.7,144.98 L306.1,144.98 L306.1,55.83 L307.5,55.83 L308.0,55.92 L308.5,56.00 L309.0,56.08 L309.5,56.16 L310.0,56.25 L310.5,56.33 L311.0,56.42 L311.5,56.50 L312.0,56.59 L312.5,56.68 L313.0,56.77 L313.5,56.86 L314.0,56.95 L314.5,57.04 L315.0,57.13 L315.5,57.23 L316.0,57.32 L316.5,57.41 L317.0,57.51 L317.5,57.60 L318.5,57.80 L319.5,57.99 L320.5,58.19 L321.5,58.39 L322.5,58.59 L323.5,58.79 L324.5,59.00 L325.5,59.21 L326.5,59.42 L327.5,59.63 L328.5,59.84 L329.5,60.05 L330.5,60.26 L331.5,60.48 L332.5,60.69 L333.5,60.91 L334.5,61.12 L335.5,61.34 L336.5,61.56 L337.5,61.77 L338.5,61.99 L339.5,62.21 L340.5,62.43 L341.5,62.64 L342.5,62.86 L343.5,63.08 L344.5,63.30 L345.5,63.51 L346.5,63.73 L347.5,63.95 L350.0,64.49 L352.5,65.03 L355.0,65.56 L357.5,66.10 L360.0,66.63 L362.5,67.15 L365.0,67.68 L367.5,68.20 L370.0,68.71 L372.5,69.22 L375.0,69.73 L377.5,70.23 L380.0,70.73 L382.5,71.22 L385.0,71.71 L387.5,72.19 L390.0,72.66 L392.5,73.13 L395.0,73.59 L397.5,74.05 L400.0,74.50 L402.5,74.94 L405.0,75.37 L407.5,75.80 L410.0,76.22 L412.5,76.64 L415.0,77.04 L417.5,77.44 L420.0,77.83 L422.5,78.21 L425.0,78.58 L427.5,78.95 L430.0,79.30 L432.5,79.65 L435.0,79.99 L437.5,80.31 L440.0,80.63 L442.5,80.94 L445.0,81.24 L447.5,81.53 L450.0,81.81 L452.5,82.08 L455.0,82.34 L457.5,82.59 L460.0,82.83 L462.5,83.06 L465.0,83.28 L467.5,83.49 L470.0,83.68 L472.5,83.87 L475.0,84.05 L477.5,84.21 L480.0,84.36 L482.5,84.51 L485.0,84.64 L487.5,84.76 L490.0,84.87 L492.5,84.97 L495.0,85.05 L497.5,85.13 L500.0,85.19 L502.5,85.24 L505.0,85.28 L507.5,85.31 L510.0,85.33 L512.5,85.33" stroke="rgb(0,103,218)" stroke-width="1.68"/>
<path d="M297.7,144.98 L306.1,144.98 L306.1,55.89 L307.5,55.89 L308.0,55.97 L308.5,56.05 L309.0,56.13 L309.5,56.21 L310.0,56.29 L310.5,56.38 L311.0,56.46 L311.5,56.54 L312.0,56.63 L312.5,56.72 L313.0,56.80 L313.5,56.89 L314.0,56.98 L314.5,57.07 L315.0,57.16 L315.5,57.25 L316.0,57.34 L316.5,57.43 L317.0,57.52 L317.5,57.62 L318.5,57.81 L319.5,58.00 L320.5,58.19 L321.5,58.38 L322.5,58.58 L323.5,58.78 L324.5,58.98 L325.5,59.18 L326.5,59.38 L327.5,59.59 L328.5,59.79 L329.5,60.00 L330.5,60.21 L331.5,60.42 L332.5,60.63 L333.5,60.84 L334.5,61.05 L335.5,61.26 L336.5,61.47 L337.5,61.68 L338.5,61.89 L339.5,62.10 L340.5,62.31 L341.5,62.53 L342.5,62.74 L343.5,62.95 L344.5,63.16 L345.5,63.37 L346.5,63.58 L347.5,63.79 L350.0,64.32 L352.5,64.85 L355.0,65.37 L357.5,65.89 L360.0,66.40 L362.5,66.92 L365.0,67.43 L367.5,67.93 L370.0,68.43 L372.5,68.93 L375.0,69.43 L377.5,69.91 L380.0,70.40 L382.5,70.88 L385.0,71.35 L387.5,71.82 L390.0,72.28 L392.5,72.73 L395.0,73.18 L397.5,73.63 L400.0,74.07 L402.5,74.50 L405.0,74.92 L407.5,75.34 L410.0,75.75 L412.5,76.15 L415.0,76.54 L417.5,76.93 L420.0,77.31 L422.5,77.68 L425.0,78.04 L427.5,78.40 L430.0,78.74 L432.5,79.08 L435.0,79.41 L437.5,79.73 L440.0,80.04 L442.5,80.34 L445.0,80.63 L447.5,80.91 L450.0,81.18 L452.5,81.45 L455.0,81.70 L457.5,81.94 L460.0,82.17 L462.5,82.40 L465.0,82.61 L467.5,82.81 L470.0,83.00 L472.5,83.19 L475.0,83.36 L477.5,83.52 L480.0,83.67 L482.5,83.80 L485.0,83.93 L487.5,84.05 L490.0,84.15 L492.5,84.25 L495.0,84.33 L497.5,84.41 L500.0,84.47 L502.5,84.52 L505.0,84.56 L507.5,84.58 L510.0,84.60 L512.5,84.61" stroke="rgb(0,116,212)" stroke-width="1.68"/>
<path d="M297.7,144.98 L306.1,144.98 L306.1,55.94 L307.5,55.94 L308.0,56.02 L308.5,56.10 L309.0,56.18 L309.5,56.26 L310.0,56.34 L310.5,56.42 L311.0,56.50 L311.5,56.58 L312.0,56.67 L312.5,56.75 L313.0,56.84 L313.5,56.92 L314.0,57.01 L314.5,57.10 L315.0,57.18 L315.5,57.27 L316.0,57.36 L316.5,57.45 L317.0,57.54 L317.5,57.63 L318.5,57.81 L319.5,58.00 L320.5,58.19 L321.5,58.38 L322.5,58.57 L323.5,58.76 L324.5,58.96 L325.5,59.15 L326.5,59.35 L327.5,59.55 L328.5,59.75 L329.5,59.95 L330.5,60.15 L331.5,60.36 L332.5,60.56 L333.5,60.76 L334.5,60.97 L335.5,61.17 L336.5,61.38 L337.5,61.58 L338.5,61.79 L339.5,61.99 L340.5,62.20 L341.5,62.41 L342.5,62.61 L343.5,62.82 L344.5,63.02 L345.5,63.23 L346.5,63.43 L347.5,63.64 L350.0,64.15 L352.5,64.66 L355.0,65.17 L357.5,65.68 L360.0,66.18 L362.5,66.68 L365.0,67.17 L367.5,67.67 L370.0,68.15 L372.5,68.64 L375.0,69.12 L377.5,69.59 L380.0,70.06 L382.5,70.53 L385.0,70.99 L387.5,71.45 L390.0,71.89 L392.5,72.34 L395.0,72.78 L397.5,73.21 L400.0,73.63 L402.5,74.05 L405.0,74.46 L407.5,74.87 L410.0,75.27 L412.5,75.66 L415.0,76.04 L417.5,76.42 L420.0,76.79 L422.5,77.15 L425.0,77.50 L427.5,77.84 L430.0,78.18 L432.5,78.51 L435.0,78.83 L437.5,79.14 L440.0,79.44 L442.5,79.73 L445.0,80.01 L447.5,80.29 L450.0,80.55 L452.5,80.81 L455.0,81.05 L457.5,81.29 L460.0,81.52 L462.5,81.73 L465.0,81.94 L467.5,82.14 L470.0,82.32 L472.5,82.50 L475.0,82.67 L477.5,82.82 L480.0,82.97 L482.5,83.10 L485.0,83.22 L487.5,83.34 L490.0,83.44 L492.5,83.53 L495.0,83.61 L497.5,83.69 L500.0,83.75 L502.5,83.79 L505.0,83.83 L507.5,83.86 L510.0,83.88 L512.5,83.88" stroke="rgb(0,128,206)" stroke-width="1.68"/>
<path d="M297.7,144.98 L306.1,144.98 L306.1,56.00 L307.5,56.00 L308.0,56.07 L308.5,56.15 L309.0,56.23 L309.5,56.30 L310.0,56.38 L310.5,56.46 L311.0,56.54 L311.5,56.62 L312.0,56.71 L312.5,56.79 L313.0,56.87 L313.5,56.95 L314.0,57.04 L314.5,57.12 L315.0,57.21 L315.5,57.29 L316.0,57.38 L316.5,57.47 L317.0,57.56 L317.5,57.64 L318.5,57.82 L319.5,58.00 L320.5,58.19 L321.5,58.37 L322.5,58.56 L323.5,58.74 L324.5,58.93 L325.5,59.12 L326.5,59.32 L327.5,59.51 L328.5,59.70 L329.5,59.90 L330.5,60.10 L331.5,60.29 L332.5,60.49 L333.5,60.69 L334.5,60.89 L335.5,61.09 L336.5,61.28 L337.5,61.48 L338.5,61.68 L339.5,61.88 L340.5,62.08 L341.5,62.28 L342.5,62.48 L343.5,62.68 L344.5,62.88 L345.5,63.08 L346.5,63.28 L347.5,63.48 L350.0,63.98 L352.5,64.48 L355.0,64.97 L357.5,65.46 L360.0,65.95 L362.5,66.44 L365.0,66.92 L367.5,67.40 L370.0,67.87 L372.5,68.34 L375.0,68.81 L377.5,69.27 L380.0,69.73 L382.5,70.18 L385.0,70.63 L387.5,71.07 L390.0,71.51 L392.5,71.94 L395.0,72.37 L397.5,72.79 L400.0,73.20 L402.5,73.61 L405.0,74.01 L407.5,74.40 L410.0,74.79 L412.5,75.17 L415.0,75.54 L417.5,75.90 L420.0,76.26 L422.5,76.61 L425.0,76.96 L427.5,77.29 L430.0,77.62 L432.5,77.93 L435.0,78.24 L437.5,78.55 L440.0,78.84 L442.5,79.12 L445.0,79.40 L447.5,79.67 L450.0,79.92 L452.5,80.17 L455.0,80.41 L457.5,80.64 L460.0,80.86 L462.5,81.07 L465.0,81.27 L467.5,81.46 L470.0,81.64 L472.5,81.81 L475.0,81.97 L477.5,82.13 L480.0,82.27 L482.5,82.40 L485.0,82.52 L487.5,82.63 L490.0,82.73 L492.5,82.82 L495.0,82.90 L497.5,82.96 L500.0,83.02 L502.5,83.07 L505.0,83.11 L507.5,83.13 L510.0,83.15 L512.5,83.16" stroke="rgb(0,140,200)" stroke-width="1.68"/>
<path d="M297.7,144.98 L306.1,144.98 L306.1,56.05 L307.5,56.05 L308.0,56.12 L308.5,56.20 L309.0,56.27 L309.5,56.35 L310.0,56.43 L310.5,56.51 L311.0,56.58 L311.5,56.66 L312.0,56.74 L312.5,56.82 L313.0,56.90 L313.5,56.98 L314.0,57.07 L314.5,57.15 L315.0,57.23 L315.5,57.32 L316.0,57.40 L316.5,57.49 L317.0,57.57 L317.5,57.66 L318.5,57.83 L319.5,58.01 L320.5,58.18 L321.5,58.36 L322.5,58.54 L323.5,58.73 L324.5,58.91 L325.5,59.09 L326.5,59.28 L327.5,59.47 L328.5,59.66 L329.5,59.85 L330.5,60.04 L331.5,60.23 L332.5,60.42 L333.5,60.61 L334.5,60.81 L335.5,61.00 L336.5,61.19 L337.5,61.39 L338.5,61.58 L339.5,61.77 L340.5,61.97 L341.5,62.16 L342.5,62.36 L343.5,62.55 L344.5,62.75 L345.5,62.94 L346.5,63.13 L347.5,63.33 L350.0,63.81 L352.5,64.29 L355.0,64.77 L357.5,65.25 L360.0,65.72 L362.5,66.20 L365.0,66.66 L367.5,67.13 L370.0,67.59 L372.5,68.05 L375.0,68.50 L377.5,68.95 L380.0,69.39 L382.5,69.83 L385.0,70.27 L387.5,70.70 L390.0,71.12 L392.5,71.54 L395.0,71.95 L397.5,72.36 L400.0,72.76 L402.5,73.16 L405.0,73.55 L407.5,73.93 L410.0,74.31 L412.5,74.67 L415.0,75.04 L417.5,75.39 L420.0,75.74 L422.5,76.08 L425.0,76.41 L427.5,76.74 L430.0,77.05 L432.5,77.36 L435.0,77.66 L437.5,77.96 L440.0,78.24 L442.5,78.52 L445.0,78.78 L447.5,79.04 L450.0,79.29 L452.5,79.53 L455.0,79.76 L457.5,79.99 L460.0,80.20 L462.5,80.41 L465.0,80.60 L467.5,80.79 L470.0,80.96 L472.5,81.13 L475.0,81.28 L477.5,81.43 L480.0,81.57 L482.5,81.69 L485.0,81.81 L487.5,81.92 L490.0,82.01 L492.5,82.10 L495.0,82.18 L497.5,82.24 L500.0,82.30 L502.5,82.35 L505.0,82.38 L507.5,82.41 L510.0,82.42 L512.5,82.43" stroke="rgb(0,146,185)" stroke-width="1.68"/>
<path d="M297.7,144.98 L306.1,144.98 L306.1,56.10 L307.5,56.10 L308.0,56.18 L308.5,56.25 L309.0,56.32 L309.5,56.40 L310.0,56.47 L310.5,56.55 L311.0,56.62 L311.5,56.70 L312.0,56.78 L312.5,56.86 L313.0,56.94 L313.5,57.01 L314.0,57.09 L314.5,57.18 L315.0,57.26 L315.5,57.34 L316.0,57.42 L316.5,57.50 L317.0,57.59 L317.5,57.67 L318.5,57.84 L319.5,58.01 L320.5,58.18 L321.5,58.35 L322.5,58.53 L323.5,58.71 L324.5,58.89 L325.5,59.06 L326.5,59.25 L327.5,59.43 L328.5,59.61 L329.5,59.79 L330.5,59.98 L331.5,60.16 L332.5,60.35 L333.5,60.54 L334.5,60.72 L335.5,60.91 L336.5,61.10 L337.5,61.29 L338.5,61.47 L339.5,61.66 L340.5,61.85 L341.5,62.04 L342.5,62.23 L343.5,62.42 L344.5,62.61 L345.5,62.79 L346.5,62.98 L347.5,63.17 L350.0,63.64 L352.5,64.11 L355.0,64.57 L357.5,65.04 L360.0,65.50 L362.5,65.95 L365.0,66.41 L367.5,66.86 L370.0,67.31 L372.5,67.75 L375.0,68.19 L377.5,68.63 L380.0,69.06 L382.5,69.48 L385.0,69.91 L387.5,70.32 L390.0,70.73 L392.5,71.14 L395.0,71.54 L397.5,71.94 L400.0,72.33 L402.5,72.71 L405.0,73.09 L407.5,73.46 L410.0,73.82 L412.5,74.18 L415.0,74.53 L417.5,74.88 L420.0,75.21 L422.5,75.54 L425.0,75.87 L427.5,76.18 L430.0,76.49 L432.5,76.79 L435.0,77.08 L437.5,77.36 L440.0,77.64 L442.5,77.91 L445.0,78.17 L447.5,78.42 L450.0,78.66 L452.5,78.89 L455.0,79.12 L457.5,79.34 L460.0,79.54 L462.5,79.74 L465.0,79.93 L467.5,80.11 L470.0,80.28 L472.5,80.44 L475.0,80.59 L477.5,80.73 L480.0,80.87 L482.5,80.99 L485.0,81.10 L487.5,81.21 L490.0,81.30 L492.5,81.39 L495.0,81.46 L497.5,81.52 L500.0,81.58 L502.5,81.62 L505.0,81.66 L507.5,81.68 L510.0,81.70 L512.5,81.70" stroke="rgb(0,153,171)" stroke-width="1.68"/>
<path d="M297.7,144.98 L306.1,144.98 L306.1,56.16 L307.5,56.16 L308.0,56.23 L308.5,56.30 L309.0,56.37 L309.5,56.44 L310.0,56.52 L310.5,56.59 L311.0,56.66 L311.5,56.74 L312.0,56.82 L312.5,56.89 L313.0,56.97 L313.5,57.04 L314.0,57.12 L314.5,57.20 L315.0,57.28 L315.5,57.36 L316.0,57.44 L316.5,57.52 L317.0,57.60 L317.5,57.68 L318.5,57.84 L319.5,58.01 L320.5,58.18 L321.5,58.35 L322.5,58.52 L323.5,58.69 L324.5,58.86 L325.5,59.03 L326.5,59.21 L327.5,59.39 L328.5,59.56 L329.5,59.74 L330.5,59.92 L331.5,60.10 L332.5,60.28 L333.5,60.46 L334.5,60.64 L335.5,60.82 L336.5,61.00 L337.5,61.19 L338.5,61.37 L339.5,61.55 L340.5,61.73 L341.5,61.92 L342.5,62.10 L343.5,62.28 L344.5,62.46 L345.5,62.65 L346.5,62.83 L347.5,63.01 L350.0,63.47 L352.5,63.92 L355.0,64.37 L357.5,64.82 L360.0,65.27 L362.5,65.71 L365.0,66.15 L367.5,66.59 L370.0,67.02 L372.5,67.45 L375.0,67.88 L377.5,68.30 L380.0,68.72 L382.5,69.13 L385.0,69.54 L387.5,69.95 L390.0,70.35 L392.5,70.74 L395.0,71.13 L397.5,71.51 L400.0,71.89 L402.5,72.26 L405.0,72.63 L407.5,72.99 L410.0,73.34 L412.5,73.69 L415.0,74.03 L417.5,74.36 L420.0,74.69 L422.5,75.01 L425.0,75.32 L427.5,75.63 L430.0,75.92 L432.5,76.21 L435.0,76.50 L437.5,76.77 L440.0,77.04 L442.5,77.30 L445.0,77.55 L447.5,77.79 L450.0,78.03 L452.5,78.26 L455.0,78.47 L457.5,78.68 L460.0,78.88 L462.5,79.08 L465.0,79.26 L467.5,79.43 L470.0,79.60 L472.5,79.75 L475.0,79.90 L477.5,80.04 L480.0,80.17 L482.5,80.29 L485.0,80.40 L487.5,80.50 L490.0,80.59 L492.5,80.67 L495.0,80.74 L497.5,80.80 L500.0,80.86 L502.5,80.90 L505.0,80.93 L507.5,80.96 L510.0,80.97 L512.5,80.98" stroke="rgb(0,159,156)" stroke-width="1.68"/>
<path d="M297.7,144.98 L306.1,144.98 L306.1,56.21 L307.5,56.21 L308.0,56.28 L308.5,56.35 L309.0,56.42 L309.5,56.49 L310.0,56.56 L310.5,56.63 L311.0,56.71 L311.5,56.78 L312.0,56.85 L312.5,56.93 L313.0,57.00 L313.5,57.07 L314.0,57.15 L314.5,57.23 L315.0,57.30 L315.5,57.38 L316.0,57.46 L316.5,57.53 L317.0,57.61 L317.5,57.69 L318.5,57.85 L319.5,58.01 L320.5,58.17 L321.5,58.34 L322.5,58.50 L323.5,58.67 L324.5,58.83 L325.5,59.00 L326.5,59.17 L327.5,59.34 L328.5,59.51 L329.5,59.69 L330.5,59.86 L331.5,60.03 L332.5,60.21 L333.5,60.38 L334.5,60.56 L335.5,60.73 L336.5,60.91 L337.5,61.09 L338.5,61.26 L339.5,61.44 L340.5,61.61 L341.5,61.79 L342.5,61.97 L343.5,62.15 L344.5,62.32 L345.5,62.50 L346.5,62.68 L347.5,62.85 L350.0,63.29 L352.5,63.73 L355.0,64.17 L357.5,64.60 L360.0,65.04 L362.5,65.47 L365.0,65.89 L367.5,66.32 L370.0,66.74 L372.5,67.15 L375.0,67.57 L377.5,67.98 L380.0,68.38 L382.5,68.78 L385.0,69.18 L387.5,69.57 L390.0,69.96 L392.5,70.34 L395.0,70.71 L397.5,71.09 L400.0,71.45 L402.5,71.81 L405.0,72.17 L407.5,72.51 L410.0,72.86 L412.5,73.19 L415.0,73.52 L417.5,73.85 L420.0,74.16 L422.5,74.47 L425.0,74.77 L427.5,75.07 L430.0,75.36 L432.5,75.64 L435.0,75.91 L437.5,76.18 L440.0,76.44 L442.5,76.69 L445.0,76.93 L447.5,77.17 L450.0,77.40 L452.5,77.62 L455.0,77.83 L457.5,78.03 L460.0,78.22 L462.5,78.41 L465.0,78.59 L467.5,78.76 L470.0,78.92 L472.5,79.07 L475.0,79.21 L477.5,79.34 L480.0,79.47 L482.5,79.58 L485.0,79.69 L487.5,79.79 L490.0,79.87 L492.5,79.95 L495.0,80.02 L497.5,80.08 L500.0,80.13 L502.5,80.18 L505.0,80.21 L507.5,80.23 L510.0,80.25 L512.5,80.25" stroke="rgb(0,166,141)" stroke-width="1.68"/>
<path d="M297.7,144.98 L306.1,144.98 L306.1,56.26 L307.5,56.26 L308.0,56.33 L308.5,56.40 L309.0,56.47 L309.5,56.54 L310.0,56.60 L310.5,56.67 L311.0,56.75 L311.5,56.82 L312.0,56.89 L312.5,56.96 L313.0,57.03 L313.5,57.10 L314.0,57.18 L314.5,57.25 L315.0,57.33 L315.5,57.40 L316.0,57.47 L316.5,57.55 L317.0,57.63 L317.5,57.70 L318.5,57.86 L319.5,58.01 L320.5,58.17 L321.5,58.33 L322.5,58.49 L323.5,58.65 L324.5,58.81 L325.5,58.97 L326.5,59.13 L327.5,59.30 L328.5,59.47 L329.5,59.63 L330.5,59.80 L331.5,59.97 L332.5,60.14 L333.5,60.30 L334.5,60.47 L335.5,60.64 L336.5,60.81 L337.5,60.98 L338.5,61.15 L339.5,61.33 L340.5,61.50 L341.5,61.67 L342.5,61.84 L343.5,62.01 L344.5,62.18 L345.5,62.35 L346.5,62.52 L347.5,62.69 L350.0,63.12 L352.5,63.54 L355.0,63.97 L357.5,64.39 L360.0,64.80 L362.5,65.22 L365.0,65.63 L367.5,66.04 L370.0,66.45 L372.5,66.85 L375.0,67.25 L377.5,67.65 L380.0,68.04 L382.5,68.43 L385.0,68.81 L387.5,69.19 L390.0,69.57 L392.5,69.94 L395.0,70.30 L397.5,70.66 L400.0,71.01 L402.5,71.36 L405.0,71.70 L407.5,72.04 L410.0,72.37 L412.5,72.70 L415.0,73.02 L417.5,73.33 L420.0,73.63 L422.5,73.93 L425.0,74.23 L427.5,74.51 L430.0,74.79 L432.5,75.07 L435.0,75.33 L437.5,75.59 L440.0,75.84 L442.5,76.08 L445.0,76.32 L447.5,76.54 L450.0,76.76 L452.5,76.98 L455.0,77.18 L457.5,77.38 L460.0,77.56 L462.5,77.74 L465.0,77.92 L467.5,78.08 L470.0,78.23 L472.5,78.38 L475.0,78.52 L477.5,78.65 L480.0,78.77 L482.5,78.88 L485.0,78.98 L487.5,79.08 L490.0,79.16 L492.5,79.24 L495.0,79.30 L497.5,79.36 L500.0,79.41 L502.5,79.45 L505.0,79.48 L507.5,79.51 L510.0,79.52 L512.5,79.53" stroke="rgb(0,172,127)" stroke-width="1.68"/>
<path d="M297.7,144.98 L306.1,144.98 L306.1,56.32 L307.5,56.32 L308.0,56.38 L308.5,56.45 L309.0,56.51 L309.5,56.58 L310.0,56.65 L310.5,56.72 L311.0,56.78 L311.5,56.85 L312.0,56.92 L312.5,56.99 L313.0,57.06 L313.5,57.13 L314.0,57.20 L314.5,57.28 L315.0,57.35 L315.5,57.42 L316.0,57.49 L316.5,57.57 L317.0,57.64 L317.5,57.71 L318.5,57.86 L319.5,58.01 L320.5,58.16 L321.5,58.32 L322.5,58.47 L323.5,58.63 L324.5,58.78 L325.5,58.94 L326.5,59.10 L327.5,59.26 L328.5,59.42 L329.5,59.58 L330.5,59.74 L331.5,59.90 L332.5,60.06 L333.5,60.23 L334.5,60.39 L335.5,60.55 L336.5,60.72 L337.5,60.88 L338.5,61.05 L339.5,61.21 L340.5,61.38 L341.5,61.54 L342.5,61.71 L343.5,61.87 L344.5,62.04 L345.5,62.20 L346.5,62.37 L347.5,62.53 L350.0,62.94 L352.5,63.35 L355.0,63.76 L357.5,64.17 L360.0,64.57 L362.5,64.97 L365.0,65.37 L367.5,65.77 L370.0,66.16 L372.5,66.55 L375.0,66.94 L377.5,67.32 L380.0,67.70 L382.5,68.08 L385.0,68.45 L387.5,68.81 L390.0,69.17 L392.5,69.53 L395.0,69.88 L397.5,70.23 L400.0,70.57 L402.5,70.91 L405.0,71.24 L407.5,71.57 L410.0,71.89 L412.5,72.20 L415.0,72.51 L417.5,72.81 L420.0,73.11 L422.5,73.40 L425.0,73.68 L427.5,73.96 L430.0,74.23 L432.5,74.49 L435.0,74.75 L437.5,74.99 L440.0,75.24 L442.5,75.47 L445.0,75.70 L447.5,75.92 L450.0,76.13 L452.5,76.34 L455.0,76.53 L457.5,76.72 L460.0,76.90 L462.5,77.08 L465.0,77.24 L467.5,77.40 L470.0,77.55 L472.5,77.69 L475.0,77.83 L477.5,77.95 L480.0,78.07 L482.5,78.17 L485.0,78.27 L487.5,78.36 L490.0,78.45 L492.5,78.52 L495.0,78.59 L497.5,78.64 L500.0,78.69 L502.5,78.73 L505.0,78.76 L507.5,78.78 L510.0,78.79 L512.5,78.80" stroke="rgb(0,176,111)" stroke-width="1.68"/>
<path d="M297.7,144.98 L306.1,144.98 L306.1,56.37 L307.5,56.37 L308.0,56.43 L308.5,56.50 L309.0,56.56 L309.5,56.63 L310.0,56.69 L310.5,56.76 L311.0,56.82 L311.5,56.89 L312.0,56.96 L312.5,57.03 L313.0,57.09 L313.5,57.16 L314.0,57.23 L314.5,57.30 L315.0,57.37 L315.5,57.44 L316.0,57.51 L316.5,57.58 L317.0,57.65 L317.5,57.72 L318.5,57.87 L319.5,58.01 L320.5,58.16 L321.5,58.30 L322.5,58.45 L323.5,58.60 L324.5,58.75 L325.5,58.91 L326.5,59.06 L327.5,59.21 L328.5,59.37 L329.5,59.52 L330.5,59.68 L331.5,59.83 L332.5,59.99 L333.5,60.15 L334.5,60.30 L335.5,60.46 L336.5,60.62 L337.5,60.78 L338.5,60.94 L339.5,61.10 L340.5,61.26 L341.5,61.42 L342.5,61.57 L343.5,61.73 L344.5,61.89 L345.5,62.05 L346.5,62.21 L347.5,62.37 L350.0,62.77 L352.5,63.16 L355.0,63.56 L357.5,63.95 L360.0,64.34 L362.5,64.73 L365.0,65.11 L367.5,65.50 L370.0,65.88 L372.5,66.25 L375.0,66.63 L377.5,66.99 L380.0,67.36 L382.5,67.72 L385.0,68.08 L387.5,68.43 L390.0,68.78 L392.5,69.13 L395.0,69.47 L397.5,69.80 L400.0,70.13 L402.5,70.46 L405.0,70.78 L407.5,71.09 L410.0,71.40 L412.5,71.70 L415.0,72.00 L417.5,72.29 L420.0,72.58 L422.5,72.86 L425.0,73.13 L427.5,73.40 L430.0,73.66 L432.5,73.91 L435.0,74.16 L437.5,74.40 L440.0,74.64 L442.5,74.86 L445.0,75.08 L447.5,75.29 L450.0,75.50 L452.5,75.70 L455.0,75.89 L457.5,76.07 L460.0,76.24 L462.5,76.41 L465.0,76.57 L467.5,76.72 L470.0,76.87 L472.5,77.00 L475.0,77.13 L477.5,77.25 L480.0,77.37 L482.5,77.47 L485.0,77.57 L487.5,77.65 L490.0,77.73 L492.5,77.80 L495.0,77.87 L497.5,77.92 L500.0,77.97 L502.5,78.01 L505.0,78.04 L507.5,78.06 L510.0,78.07 L512.5,78.07" stroke="rgb(0,179,95)" stroke-width="1.68"/>
<path d="M297.7,144.98 L306.1,144.98 L306.1,56.42 L307.5,56.42 L308.0,56.49 L308.5,56.55 L309.0,56.61 L309.5,56.67 L310.0,56.74 L310.5,56.80 L311.0,56.86 L311.5,56.93 L312.0,56.99 L312.5,57.06 L313.0,57.12 L313.5,57.19 L314.0,57.26 L314.5,57.32 L315.0,57.39 L315.5,57.46 L316.0,57.53 L316.5,57.59 L317.0,57.66 L317.5,57.73 L318.5,57.87 L319.5,58.01 L320.5,58.15 L321.5,58.29 L322.5,58.44 L323.5,58.58 L324.5,58.73 L325.5,58.87 L326.5,59.02 L327.5,59.17 L328.5,59.32 L329.5,59.47 L330.5,59.62 L331.5,59.77 L332.5,59.92 L333.5,60.07 L334.5,60.22 L335.5,60.37 L336.5,60.52 L337.5,60.68 L338.5,60.83 L339.5,60.98 L340.5,61.14 L341.5,61.29 L342.5,61.44 L343.5,61.60 L344.5,61.75 L345.5,61.90 L346.5,62.06 L347.5,62.21 L350.0,62.59 L352.5,62.97 L355.0,63.35 L357.5,63.73 L360.0,64.11 L362.5,64.48 L365.0,64.85 L367.5,65.22 L370.0,65.59 L372.5,65.95 L375.0,66.31 L377.5,66.67 L380.0,67.02 L382.5,67.37 L385.0,67.71 L387.5,68.05 L390.0,68.39 L392.5,68.72 L395.0,69.05 L397.5,69.37 L400.0,69.69 L402.5,70.01 L405.0,70.31 L407.5,70.62 L410.0,70.91 L412.5,71.21 L415.0,71.49 L417.5,71.78 L420.0,72.05 L422.5,72.32 L425.0,72.58 L427.5,72.84 L430.0,73.09 L432.5,73.34 L435.0,73.58 L437.5,73.81 L440.0,74.03 L442.5,74.25 L445.0,74.46 L447.5,74.67 L450.0,74.87 L452.5,75.06 L455.0,75.24 L457.5,75.42 L460.0,75.58 L462.5,75.75 L465.0,75.90 L467.5,76.05 L470.0,76.19 L472.5,76.32 L475.0,76.44 L477.5,76.56 L480.0,76.67 L482.5,76.77 L485.0,76.86 L487.5,76.94 L490.0,77.02 L492.5,77.09 L495.0,77.15 L497.5,77.20 L500.0,77.25 L502.5,77.28 L505.0,77.31 L507.5,77.33 L510.0,77.34 L512.5,77.35" stroke="rgb(0,182,80)" stroke-width="1.68"/>
<path d="M297.7,144.98 L306.1,144.98 L306.1,56.48 L307.5,56.48 L308.0,56.54 L308.5,56.60 L309.0,56.66 L309.5,56.72 L310.0,56.78 L310.5,56.84 L311.0,56.90 L311.5,56.97 L312.0,57.03 L312.5,57.09 L313.0,57.15 L313.5,57.22 L314.0,57.28 L314.5,57.35 L315.0,57.41 L315.5,57.48 L316.0,57.54 L316.5,57.61 L317.0,57.67 L317.5,57.74 L318.5,57.87 L319.5,58.01 L320.5,58.15 L321.5,58.28 L322.5,58.42 L323.5,58.56 L324.5,58.70 L325.5,58.84 L326.5,58.98 L327.5,59.12 L328.5,59.27 L329.5,59.41 L330.5,59.55 L331.5,59.70 L332.5,59.84 L333.5,59.99 L334.5,60.13 L335.5,60.28 L336.5,60.43 L337.5,60.57 L338.5,60.72 L339.5,60.87 L340.5,61.02 L341.5,61.16 L342.5,61.31 L343.5,61.46 L344.5,61.61 L345.5,61.75 L346.5,61.90 L347.5,62.05 L350.0,62.42 L352.5,62.78 L355.0,63.15 L357.5,63.51 L360.0,63.87 L362.5,64.23 L365.0,64.59 L367.5,64.95 L370.0,65.30 L372.5,65.65 L375.0,65.99 L377.5,66.34 L380.0,66.68 L382.5,67.01 L385.0,67.35 L387.5,67.67 L390.0,68.00 L392.5,68.32 L395.0,68.63 L397.5,68.94 L400.0,69.25 L402.5,69.55 L405.0,69.85 L407.5,70.14 L410.0,70.43 L412.5,70.71 L415.0,70.99 L417.5,71.26 L420.0,71.52 L422.5,71.78 L425.0,72.04 L427.5,72.28 L430.0,72.53 L432.5,72.76 L435.0,72.99 L437.5,73.21 L440.0,73.43 L442.5,73.64 L445.0,73.84 L447.5,74.04 L450.0,74.23 L452.5,74.42 L455.0,74.59 L457.5,74.76 L460.0,74.92 L462.5,75.08 L465.0,75.23 L467.5,75.37 L470.0,75.50 L472.5,75.63 L475.0,75.75 L477.5,75.86 L480.0,75.96 L482.5,76.06 L485.0,76.15 L487.5,76.23 L490.0,76.31 L492.5,76.37 L495.0,76.43 L497.5,76.48 L500.0,76.52 L502.5,76.56 L505.0,76.59 L507.5,76.61 L510.0,76.62 L512.5,76.62" stroke="rgb(0,184,64)" stroke-width="1.68"/>
<path d="M297.7,144.98 L306.1,144.98 L306.1,56.53 L307.5,56.53 L308.0,56.59 L308.5,56.65 L309.0,56.71 L309.5,56.76 L310.0,56.82 L310.5,56.88 L311.0,56.94 L311.5,57.00 L312.0,57.06 L312.5,57.12 L313.0,57.19 L313.5,57.25 L314.0,57.31 L314.5,57.37 L315.0,57.43 L315.5,57.50 L316.0,57.56 L316.5,57.62 L317.0,57.69 L317.5,57.75 L318.5,57.88 L319.5,58.01 L320.5,58.14 L321.5,58.27 L322.5,58.40 L323.5,58.54 L324.5,58.67 L325.5,58.81 L326.5,58.94 L327.5,59.08 L328.5,59.22 L329.5,59.35 L330.5,59.49 L331.5,59.63 L332.5,59.77 L333.5,59.91 L334.5,60.05 L335.5,60.19 L336.5,60.33 L337.5,60.47 L338.5,60.61 L339.5,60.75 L340.5,60.89 L341.5,61.04 L342.5,61.18 L343.5,61.32 L344.5,61.46 L345.5,61.60 L346.5,61.74 L347.5,61.89 L350.0,62.24 L352.5,62.59 L355.0,62.94 L357.5,63.29 L360.0,63.64 L362.5,63.99 L365.0,64.33 L367.5,64.67 L370.0,65.01 L372.5,65.35 L375.0,65.68 L377.5,66.01 L380.0,66.33 L382.5,66.66 L385.0,66.98 L387.5,67.29 L390.0,67.60 L392.5,67.91 L395.0,68.22 L397.5,68.51 L400.0,68.81 L402.5,69.10 L405.0,69.38 L407.5,69.67 L410.0,69.94 L412.5,70.21 L415.0,70.48 L417.5,70.74 L420.0,70.99 L422.5,71.24 L425.0,71.49 L427.5,71.72 L430.0,71.96 L432.5,72.18 L435.0,72.40 L437.5,72.62 L440.0,72.83 L442.5,73.03 L445.0,73.23 L447.5,73.42 L450.0,73.60 L452.5,73.77 L455.0,73.94 L457.5,74.11 L460.0,74.26 L462.5,74.41 L465.0,74.56 L467.5,74.69 L470.0,74.82 L472.5,74.94 L475.0,75.06 L477.5,75.16 L480.0,75.26 L482.5,75.36 L485.0,75.44 L487.5,75.52 L490.0,75.59 L492.5,75.66 L495.0,75.71 L497.5,75.76 L500.0,75.80 L502.5,75.84 L505.0,75.86 L507.5,75.88 L510.0,75.89 L512.5,75.90" stroke="rgb(0,187,48)" stroke-width="1.68"/>
<path d="M297.7,144.98 L306.1,144.98 L306.1,56.58 L307.5,56.58 L308.0,56.64 L308.5,56.70 L309.0,56.75 L309.5,56.81 L310.0,56.87 L310.5,56.92 L311.0,56.98 L311.5,57.04 L312.0,57.10 L312.5,57.16 L313.0,57.22 L313.5,57.27 L314.0,57.33 L314.5,57.39 L315.0,57.45 L315.5,57.51 L316.0,57.57 L316.5,57.64 L317.0,57.70 L317.5,57.76 L318.5,57.88 L319.5,58.01 L320.5,58.13 L321.5,58.26 L322.5,58.38 L323.5,58.51 L324.5,58.64 L325.5,58.77 L326.5,58.90 L327.5,59.03 L328.5,59.16 L329.5,59.30 L330.5,59.43 L331.5,59.56 L332.5,59.69 L333.5,59.83 L334.5,59.96 L335.5,60.10 L336.5,60.23 L337.5,60.37 L338.5,60.50 L339.5,60.64 L340.5,60.77 L341.5,60.91 L342.5,61.04 L343.5,61.18 L344.5,61.32 L345.5,61.45 L346.5,61.59 L347.5,61.72 L350.0,62.06 L352.5,62.40 L355.0,62.74 L357.5,63.07 L360.0,63.41 L362.5,63.74 L365.0,64.07 L367.5,64.40 L370.0,64.72 L372.5,65.04 L375.0,65.36 L377.5,65.68 L380.0,65.99 L382.5,66.30 L385.0,66.61 L387.5,66.91 L390.0,67.21 L392.5,67.51 L395.0,67.80 L397.5,68.08 L400.0,68.37 L402.5,68.65 L405.0,68.92 L407.5,69.19 L410.0,69.45 L412.5,69.71 L415.0,69.97 L417.5,70.22 L420.0,70.46 L422.5,70.70 L425.0,70.94 L427.5,71.17 L430.0,71.39 L432.5,71.61 L435.0,71.82 L437.5,72.02 L440.0,72.22 L442.5,72.42 L445.0,72.61 L447.5,72.79 L450.0,72.96 L452.5,73.13 L455.0,73.30 L457.5,73.45 L460.0,73.60 L462.5,73.75 L465.0,73.88 L467.5,74.01 L470.0,74.14 L472.5,74.25 L475.0,74.36 L477.5,74.47 L480.0,74.56 L482.5,74.65 L485.0,74.73 L487.5,74.81 L490.0,74.88 L492.5,74.94 L495.0,74.99 L497.5,75.04 L500.0,75.08 L502.5,75.11 L505.0,75.14 L507.5,75.15 L510.0,75.17 L512.5,75.17" stroke="rgb(0,190,32)" stroke-width="1.68"/>
<path d="M297.7,144.98 L306.1,144.98 L306.1,56.64 L307.5,56.64 L308.0,56.69 L308.5,56.75 L309.0,56.80 L309.5,56.85 L310.0,56.91 L310.5,56.96 L311.0,57.02 L311.5,57.08 L312.0,57.13 L312.5,57.19 L313.0,57.24 L313.5,57.30 L314.0,57.36 L314.5,57.42 L315.0,57.47 L315.5,57.53 L316.0,57.59 L316.5,57.65 L317.0,57.71 L317.5,57.77 L318.5,57.88 L319.5,58.00 L320.5,58.12 L321.5,58.24 L322.5,58.37 L323.5,58.49 L324.5,58.61 L325.5,58.74 L326.5,58.86 L327.5,58.99 L328.5,59.11 L329.5,59.24 L330.5,59.37 L331.5,59.49 L332.5,59.62 L333.5,59.75 L334.5,59.88 L335.5,60.01 L336.5,60.13 L337.5,60.26 L338.5,60.39 L339.5,60.52 L340.5,60.65 L341.5,60.78 L342.5,60.91 L343.5,61.04 L344.5,61.17 L345.5,61.30 L346.5,61.43 L347.5,61.56 L350.0,61.89 L352.5,62.21 L355.0,62.53 L357.5,62.85 L360.0,63.17 L362.5,63.49 L365.0,63.81 L367.5,64.12 L370.0,64.43 L372.5,64.74 L375.0,65.05 L377.5,65.35 L380.0,65.65 L382.5,65.95 L385.0,66.24 L387.5,66.53 L390.0,66.82 L392.5,67.10 L395.0,67.38 L397.5,67.65 L400.0,67.92 L402.5,68.19 L405.0,68.45 L407.5,68.71 L410.0,68.97 L412.5,69.22 L415.0,69.46 L417.5,69.70 L420.0,69.93 L422.5,70.16 L425.0,70.39 L427.5,70.61 L430.0,70.82 L432.5,71.03 L435.0,71.23 L437.5,71.43 L440.0,71.62 L442.5,71.81 L445.0,71.99 L447.5,72.16 L450.0,72.33 L452.5,72.49 L455.0,72.65 L457.5,72.80 L460.0,72.94 L462.5,73.08 L465.0,73.21 L467.5,73.34 L470.0,73.45 L472.5,73.57 L475.0,73.67 L477.5,73.77 L480.0,73.86 L482.5,73.95 L485.0,74.03 L487.5,74.10 L490.0,74.16 L492.5,74.22 L495.0,74.27 L497.5,74.32 L500.0,74.36 L502.5,74.39 L505.0,74.41 L507.5,74.43 L510.0,74.44 L512.5,74.44" stroke="rgb(0,192,16)" stroke-width="1.68"/>
<path d="M297.7,144.98 L306.1,144.98 L306.1,56.69 L307.5,56.69 L308.0,56.74 L308.5,56.80 L309.0,56.85 L309.5,56.90 L310.0,56.95 L310.5,57.01 L311.0,57.06 L311.5,57.11 L312.0,57.17 L312.5,57.22 L313.0,57.27 L313.5,57.33 L314.0,57.38 L314.5,57.44 L315.0,57.49 L315.5,57.55 L316.0,57.61 L316.5,57.66 L317.0,57.72 L317.5,57.77 L318.5,57.89 L319.5,58.00 L320.5,58.12 L321.5,58.23 L322.5,58.35 L323.5,58.47 L324.5,58.58 L325.5,58.70 L326.5,58.82 L327.5,58.94 L328.5,59.06 L329.5,59.18 L330.5,59.30 L331.5,59.42 L332.5,59.55 L333.5,59.67 L334.5,59.79 L335.5,59.91 L336.5,60.04 L337.5,60.16 L338.5,60.28 L339.5,60.41 L340.5,60.53 L341.5,60.65 L342.5,60.78 L343.5,60.90 L344.5,61.03 L345.5,61.15 L346.5,61.27 L347.5,61.40 L350.0,61.71 L352.5,62.02 L355.0,62.33 L357.5,62.63 L360.0,62.94 L362.5,63.24 L365.0,63.54 L367.5,63.84 L370.0,64.14 L372.5,64.44 L375.0,64.73 L377.5,65.02 L380.0,65.31 L382.5,65.59 L385.0,65.87 L387.5,66.15 L390.0,66.42 L392.5,66.69 L395.0,66.96 L397.5,67.22 L400.0,67.48 L402.5,67.74 L405.0,67.99 L407.5,68.24 L410.0,68.48 L412.5,68.72 L415.0,68.95 L417.5,69.18 L420.0,69.40 L422.5,69.62 L425.0,69.84 L427.5,70.05 L430.0,70.25 L432.5,70.45 L435.0,70.65 L437.5,70.84 L440.0,71.02 L442.5,71.20 L445.0,71.37 L447.5,71.54 L450.0,71.70 L452.5,71.85 L455.0,72.00 L457.5,72.14 L460.0,72.28 L462.5,72.41 L465.0,72.54 L467.5,72.66 L470.0,72.77 L472.5,72.88 L475.0,72.98 L477.5,73.07 L480.0,73.16 L482.5,73.24 L485.0,73.32 L487.5,73.39 L490.0,73.45 L492.5,73.51 L495.0,73.56 L497.5,73.60 L500.0,73.63 L502.5,73.66 L505.0,73.69 L507.5,73.70 L510.0,73.71 L512.5,73.72" stroke="rgb(0,195,0)" stroke-width="1.68"/>
<path d="M297.7,144.98 L306.1,144.98 L306.1,56.75 L307.5,56.75 L308.0,56.79 L308.5,56.84 L309.0,56.89 L309.5,56.94 L310.0,56.99 L310.5,57.05 L311.0,57.10 L311.5,57.15 L312.0,57.20 L312.5,57.25 L313.0,57.30 L313.5,57.35 L314.0,57.41 L314.5,57.46 L315.0,57.51 L315.5,57.56 L316.0,57.62 L316.5,57.67 L317.0,57.72 L317.5,57.78 L318.5,57.89 L319.5,58.00 L320.5,58.10 L321.5,58.22 L322.5,58.33 L323.5,58.44 L324.5,58.55 L325.5,58.66 L326.5,58.78 L327.5,58.89 L328.5,59.00 L329.5,59.12 L330.5,59.23 L331.5,59.35 L332.5,59.47 L333.5,59.58 L334.5,59.70 L335.5,59.82 L336.5,59.93 L337.5,60.05 L338.5,60.17 L339.5,60.28 L340.5,60.40 L341.5,60.52 L342.5,60.64 L343.5,60.76 L344.5,60.87 L345.5,60.99 L346.5,61.11 L347.5,61.23 L350.0,61.52 L352.5,61.82 L355.0,62.11 L357.5,62.40 L360.0,62.70 L362.5,62.99 L365.0,63.27 L367.5,63.56 L370.0,63.84 L372.5,64.13 L375.0,64.40 L377.5,64.68 L380.0,64.96 L382.5,65.23 L385.0,65.49 L387.5,65.76 L390.0,66.02 L392.5,66.28 L395.0,66.53 L397.5,66.79 L400.0,67.03 L402.5,67.28 L405.0,67.52 L407.5,67.75 L410.0,67.98 L412.5,68.21 L415.0,68.44 L417.5,68.65 L420.0,68.87 L422.5,69.08 L425.0,69.28 L427.5,69.48 L430.0,69.68 L432.5,69.87 L435.0,70.05 L437.5,70.24 L440.0,70.41 L442.5,70.58 L445.0,70.75 L447.5,70.90 L450.0,71.06 L452.5,71.21 L455.0,71.35 L457.5,71.49 L460.0,71.62 L462.5,71.74 L465.0,71.86 L467.5,71.98 L470.0,72.09 L472.5,72.19 L475.0,72.29 L477.5,72.38 L480.0,72.46 L482.5,72.54 L485.0,72.61 L487.5,72.68 L490.0,72.74 L492.5,72.79 L495.0,72.84 L497.5,72.88 L500.0,72.91 L502.5,72.94 L505.0,72.96 L507.5,72.98 L510.0,72.99 L512.5,72.99" stroke="rgb(23,200,0)" stroke-width="1.68"/>
<path d="M297.7,144.98 L306.1,144.98 L306.1,56.80 L307.5,56.80 L308.0,56.84 L308.5,56.89 L309.0,56.94 L309.5,56.98 L310.0,57.03 L310.5,57.08 L311.0,57.13 L311.5,57.17 L312.0,57.22 L312.5,57.27 L313.0,57.32 L313.5,57.37 L314.0,57.42 L314.5,57.46 L315.0,57.51 L315.5,57.56 L316.0,57.61 L316.5,57.66 L317.0,57.71 L317.5,57.76 L318.5,57.86 L319.5,57.97 L320.5,58.07 L321.5,58.17 L322.5,58.27 L323.5,58.38 L324.5,58.48 L325.5,58.59 L326.5,58.70 L327.5,58.80 L328.5,58.91 L329.5,59.02 L330.5,59.13 L331.5,59.23 L332.5,59.34 L333.5,59.45 L334.5,59.56 L335.5,59.67 L336.5,59.78 L337.5,59.89 L338.5,60.00 L339.5,60.12 L340.5,60.23 L341.5,60.34 L342.5,60.45 L343.5,60.56 L344.5,60.67 L345.5,60.78 L346.5,60.90 L347.5,61.01 L350.0,61.29 L352.5,61.57 L355.0,61.84 L357.5,62.12 L360.0,62.40 L362.5,62.67 L365.0,62.95 L367.5,63.22 L370.0,63.49 L372.5,63.76 L375.0,64.03 L377.5,64.29 L380.0,64.55 L382.5,64.81 L385.0,65.06 L387.5,65.32 L390.0,65.57 L392.5,65.81 L395.0,66.06 L397.5,66.30 L400.0,66.53 L402.5,66.77 L405.0,67.00 L407.5,67.22 L410.0,67.44 L412.5,67.66 L415.0,67.87 L417.5,68.08 L420.0,68.29 L422.5,68.49 L425.0,68.68 L427.5,68.88 L430.0,69.06 L432.5,69.25 L435.0,69.42 L437.5,69.60 L440.0,69.77 L442.5,69.93 L445.0,70.09 L447.5,70.24 L450.0,70.39 L452.5,70.53 L455.0,70.67 L457.5,70.80 L460.0,70.93 L462.5,71.05 L465.0,71.17 L467.5,71.28 L470.0,71.38 L472.5,71.48 L475.0,71.58 L477.5,71.66 L480.0,71.75 L482.5,71.82 L485.0,71.89 L487.5,71.96 L490.0,72.01 L492.5,72.07 L495.0,72.11 L497.5,72.15 L500.0,72.19 L502.5,72.22 L505.0,72.24 L507.5,72.25 L510.0,72.26 L512.5,72.27" stroke="rgb(46,206,0)" stroke-width="1.68"/>
<path d="M297.7,144.98 L306.1,144.98 L306.1,56.85 L307.5,56.85 L308.0,56.90 L308.5,56.94 L309.0,56.98 L309.5,57.02 L310.0,57.07 L310.5,57.11 L311.0,57.16 L311.5,57.20 L312.0,57.24 L312.5,57.29 L313.0,57.33 L313.5,57.38 L314.0,57.42 L314.5,57.47 L315.0,57.52 L315.5,57.56 L316.0,57.61 L316.5,57.65 L317.0,57.70 L317.5,57.75 L318.5,57.84 L319.5,57.93 L320.5,58.03 L321.5,58.13 L322.5,58.22 L323.5,58.32 L324.5,58.42 L325.5,58.52 L326.5,58.61 L327.5,58.71 L328.5,58.81 L329.5,58.91 L330.5,59.01 L331.5,59.12 L332.5,59.22 L333.5,59.32 L334.5,59.42 L335.5,59.52 L336.5,59.63 L337.5,59.73 L338.5,59.83 L339.5,59.94 L340.5,60.04 L341.5,60.15 L342.5,60.25 L343.5,60.36 L344.5,60.46 L345.5,60.57 L346.5,60.67 L347.5,60.78 L350.0,61.04 L352.5,61.30 L355.0,61.56 L357.5,61.83 L360.0,62.09 L362.5,62.35 L365.0,62.61 L367.5,62.86 L370.0,63.12 L372.5,63.37 L375.0,63.63 L377.5,63.88 L380.0,64.13 L382.5,64.37 L385.0,64.61 L387.5,64.86 L390.0,65.09 L392.5,65.33 L395.0,65.56 L397.5,65.79 L400.0,66.02 L402.5,66.24 L405.0,66.46 L407.5,66.67 L410.0,66.88 L412.5,67.09 L415.0,67.30 L417.5,67.50 L420.0,67.69 L422.5,67.88 L425.0,68.07 L427.5,68.26 L430.0,68.44 L432.5,68.61 L435.0,68.78 L437.5,68.95 L440.0,69.11 L442.5,69.27 L445.0,69.42 L447.5,69.57 L450.0,69.71 L452.5,69.85 L455.0,69.98 L457.5,70.11 L460.0,70.24 L462.5,70.35 L465.0,70.47 L467.5,70.57 L470.0,70.68 L472.5,70.77 L475.0,70.86 L477.5,70.95 L480.0,71.03 L482.5,71.10 L485.0,71.17 L487.5,71.24 L490.0,71.29 L492.5,71.34 L495.0,71.39 L497.5,71.43 L500.0,71.46 L502.5,71.49 L505.0,71.51 L507.5,71.53 L510.0,71.54 L512.5,71.54" stroke="rgb(69,211,0)" stroke-width="1.68"/>
<path d="M297.7,144.98 L306.1,144.98 L306.1,56.91 L307.5,56.91 L308.0,56.95 L308.5,56.98 L309.0,57.02 L309.5,57.06 L310.0,57.10 L310.5,57.14 L311.0,57.19 L311.5,57.23 L312.0,57.27 L312.5,57.31 L313.0,57.35 L313.5,57.39 L314.0,57.43 L314.5,57.47 L315.0,57.52 L315.5,57.56 L316.0,57.60 L316.5,57.64 L317.0,57.69 L317.5,57.73 L318.5,57.82 L319.5,57.90 L320.5,57.99 L321.5,58.08 L322.5,58.17 L323.5,58.26 L324.5,58.35 L325.5,58.44 L326.5,58.53 L327.5,58.62 L328.5,58.71 L329.5,58.81 L330.5,58.90 L331.5,58.99 L332.5,59.09 L333.5,59.18 L334.5,59.28 L335.5,59.37 L336.5,59.47 L337.5,59.57 L338.5,59.66 L339.5,59.76 L340.5,59.86 L341.5,59.95 L342.5,60.05 L343.5,60.15 L344.5,60.25 L345.5,60.34 L346.5,60.44 L347.5,60.54 L350.0,60.78 L352.5,61.03 L355.0,61.28 L357.5,61.52 L360.0,61.77 L362.5,62.01 L365.0,62.26 L367.5,62.50 L370.0,62.74 L372.5,62.98 L375.0,63.22 L377.5,63.46 L380.0,63.69 L382.5,63.93 L385.0,64.16 L387.5,64.38 L390.0,64.61 L392.5,64.83 L395.0,65.05 L397.5,65.27 L400.0,65.49 L402.5,65.70 L405.0,65.91 L407.5,66.11 L410.0,66.32 L412.5,66.51 L415.0,66.71 L417.5,66.90 L420.0,67.09 L422.5,67.27 L425.0,67.45 L427.5,67.63 L430.0,67.80 L432.5,67.97 L435.0,68.14 L437.5,68.30 L440.0,68.45 L442.5,68.60 L445.0,68.75 L447.5,68.89 L450.0,69.03 L452.5,69.17 L455.0,69.30 L457.5,69.42 L460.0,69.54 L462.5,69.65 L465.0,69.76 L467.5,69.87 L470.0,69.97 L472.5,70.06 L475.0,70.15 L477.5,70.23 L480.0,70.31 L482.5,70.39 L485.0,70.45 L487.5,70.51 L490.0,70.57 L492.5,70.62 L495.0,70.67 L497.5,70.70 L500.0,70.74 L502.5,70.76 L505.0,70.79 L507.5,70.80 L510.0,70.81 L512.5,70.81" stroke="rgb(92,217,0)" stroke-width="1.68"/>
<path d="M297.7,144.98 L306.1,144.98 L306.1,56.96 L307.5,56.96 L308.0,57.00 L308.5,57.03 L309.0,57.07 L309.5,57.10 L310.0,57.14 L310.5,57.18 L311.0,57.21 L311.5,57.25 L312.0,57.29 L312.5,57.33 L313.0,57.36 L313.5,57.40 L314.0,57.44 L314.5,57.48 L315.0,57.52 L315.5,57.56 L316.0,57.59 L316.5,57.63 L317.0,57.67 L317.5,57.71 L318.5,57.79 L319.5,57.87 L320.5,57.95 L321.5,58.03 L322.5,58.11 L323.5,58.20 L324.5,58.28 L325.5,58.36 L326.5,58.45 L327.5,58.53 L328.5,58.62 L329.5,58.70 L330.5,58.79 L331.5,58.87 L332.5,58.96 L333.5,59.05 L334.5,59.13 L335.5,59.22 L336.5,59.31 L337.5,59.40 L338.5,59.49 L339.5,59.58 L340.5,59.67 L341.5,59.76 L342.5,59.85 L343.5,59.94 L344.5,60.03 L345.5,60.12 L346.5,60.21 L347.5,60.30 L350.0,60.53 L352.5,60.76 L355.0,60.99 L357.5,61.22 L360.0,61.45 L362.5,61.68 L365.0,61.90 L367.5,62.13 L370.0,62.36 L372.5,62.59 L375.0,62.81 L377.5,63.03 L380.0,63.26 L382.5,63.48 L385.0,63.69 L387.5,63.91 L390.0,64.12 L392.5,64.34 L395.0,64.54 L397.5,64.75 L400.0,64.96 L402.5,65.16 L405.0,65.36 L407.5,65.55 L410.0,65.74 L412.5,65.93 L415.0,66.12 L417.5,66.30 L420.0,66.48 L422.5,66.66 L425.0,66.83 L427.5,67.00 L430.0,67.17 L432.5,67.33 L435.0,67.49 L437.5,67.64 L440.0,67.79 L442.5,67.94 L445.0,68.08 L447.5,68.22 L450.0,68.35 L452.5,68.48 L455.0,68.61 L457.5,68.73 L460.0,68.84 L462.5,68.95 L465.0,69.06 L467.5,69.16 L470.0,69.26 L472.5,69.35 L475.0,69.44 L477.5,69.52 L480.0,69.60 L482.5,69.67 L485.0,69.73 L487.5,69.79 L490.0,69.85 L492.5,69.90 L495.0,69.94 L497.5,69.98 L500.0,70.01 L502.5,70.04 L505.0,70.06 L507.5,70.08 L510.0,70.08 L512.5,70.09" stroke="rgb(115,222,0)" stroke-width="1.68"/>
<path d="M297.7,144.98 L306.1,144.98 L306.1,57.01 L307.5,57.01 L308.0,57.05 L308.5,57.08 L309.0,57.11 L309.5,57.14 L310.0,57.18 L310.5,57.21 L311.0,57.24 L311.5,57.28 L312.0,57.31 L312.5,57.35 L313.0,57.38 L313.5,57.41 L314.0,57.45 L314.5,57.48 L315.0,57.52 L315.5,57.55 L316.0,57.59 L316.5,57.62 L317.0,57.66 L317.5,57.69 L318.5,57.77 L319.5,57.84 L320.5,57.91 L321.5,57.99 L322.5,58.06 L323.5,58.13 L324.5,58.21 L325.5,58.29 L326.5,58.36 L327.5,58.44 L328.5,58.52 L329.5,58.59 L330.5,58.67 L331.5,58.75 L332.5,58.83 L333.5,58.91 L334.5,58.99 L335.5,59.07 L336.5,59.15 L337.5,59.23 L338.5,59.32 L339.5,59.40 L340.5,59.48 L341.5,59.56 L342.5,59.64 L343.5,59.73 L344.5,59.81 L345.5,59.90 L346.5,59.98 L347.5,60.06 L350.0,60.27 L352.5,60.49 L355.0,60.70 L357.5,60.91 L360.0,61.13 L362.5,61.34 L365.0,61.55 L367.5,61.76 L370.0,61.98 L372.5,62.19 L375.0,62.40 L377.5,62.61 L380.0,62.82 L382.5,63.02 L385.0,63.23 L387.5,63.43 L390.0,63.63 L392.5,63.83 L395.0,64.03 L397.5,64.23 L400.0,64.42 L402.5,64.61 L405.0,64.80 L407.5,64.99 L410.0,65.17 L412.5,65.35 L415.0,65.53 L417.5,65.70 L420.0,65.87 L422.5,66.04 L425.0,66.21 L427.5,66.37 L430.0,66.53 L432.5,66.68 L435.0,66.84 L437.5,66.98 L440.0,67.13 L442.5,67.27 L445.0,67.41 L447.5,67.54 L450.0,67.67 L452.5,67.79 L455.0,67.91 L457.5,68.03 L460.0,68.14 L462.5,68.25 L465.0,68.36 L467.5,68.46 L470.0,68.55 L472.5,68.64 L475.0,68.72 L477.5,68.80 L480.0,68.88 L482.5,68.95 L485.0,69.01 L487.5,69.07 L490.0,69.13 L492.5,69.18 L495.0,69.22 L497.5,69.26 L500.0,69.29 L502.5,69.31 L505.0,69.33 L507.5,69.35 L510.0,69.36 L512.5,69.36" stroke="rgb(138,228,0)" stroke-width="1.68"/>
<path d="M297.7,144.98 L306.1,144.98 L306.1,57.07 L307.5,57.07 L308.0,57.10 L308.5,57.12 L309.0,57.15 L309.5,57.18 L310.0,57.21 L310.5,57.24 L311.0,57.27 L311.5,57.30 L312.0,57.33 L312.5,57.36 L313.0,57.39 L313.5,57.42 L314.0,57.46 L314.5,57.49 L315.0,57.52 L315.5,57.55 L316.0,57.58 L316.5,57.61 L317.0,57.64 L317.5,57.68 L318.5,57.74 L319.5,57.81 L320.5,57.87 L321.5,57.94 L322.5,58.00 L323.5,58.07 L324.5,58.14 L325.5,58.21 L326.5,58.28 L327.5,58.35 L328.5,58.42 L329.5,58.49 L330.5,58.56 L331.5,58.63 L332.5,58.70 L333.5,58.77 L334.5,58.85 L335.5,58.92 L336.5,58.99 L337.5,59.07 L338.5,59.14 L339.5,59.22 L340.5,59.29 L341.5,59.37 L342.5,59.44 L343.5,59.52 L344.5,59.60 L345.5,59.67 L346.5,59.75 L347.5,59.83 L350.0,60.02 L352.5,60.21 L355.0,60.41 L357.5,60.61 L360.0,60.80 L362.5,61.00 L365.0,61.20 L367.5,61.40 L370.0,61.59 L372.5,61.79 L375.0,61.99 L377.5,62.18 L380.0,62.38 L382.5,62.57 L385.0,62.76 L387.5,62.96 L390.0,63.15 L392.5,63.33 L395.0,63.52 L397.5,63.71 L400.0,63.89 L402.5,64.07 L405.0,64.25 L407.5,64.42 L410.0,64.60 L412.5,64.77 L415.0,64.94 L417.5,65.10 L420.0,65.27 L422.5,65.43 L425.0,65.58 L427.5,65.74 L430.0,65.89 L432.5,66.04 L435.0,66.18 L437.5,66.33 L440.0,66.47 L442.5,66.60 L445.0,66.73 L447.5,66.86 L450.0,66.99 L452.5,67.11 L455.0,67.22 L457.5,67.34 L460.0,67.45 L462.5,67.55 L465.0,67.65 L467.5,67.75 L470.0,67.84 L472.5,67.93 L475.0,68.01 L477.5,68.09 L480.0,68.16 L482.5,68.23 L485.0,68.29 L487.5,68.35 L490.0,68.40 L492.5,68.45 L495.0,68.49 L497.5,68.53 L500.0,68.56 L502.5,68.59 L505.0,68.61 L507.5,68.62 L510.0,68.63 L512.5,68.64" stroke="rgb(160,232,0)" stroke-width="1.68"/>
<path d="M297.7,144.98 L306.1,144.98 L306.1,57.12 L307.5,57.12 L308.0,57.15 L308.5,57.17 L309.0,57.20 L309.5,57.22 L310.0,57.25 L310.5,57.28 L311.0,57.30 L311.5,57.33 L312.0,57.35 L312.5,57.38 L313.0,57.41 L313.5,57.44 L314.0,57.46 L314.5,57.49 L315.0,57.52 L315.5,57.55 L316.0,57.57 L316.5,57.60 L317.0,57.63 L317.5,57.66 L318.5,57.72 L319.5,57.77 L320.5,57.83 L321.5,57.89 L322.5,57.95 L323.5,58.01 L324.5,58.07 L325.5,58.13 L326.5,58.19 L327.5,58.26 L328.5,58.32 L329.5,58.38 L330.5,58.44 L331.5,58.51 L332.5,58.57 L333.5,58.64 L334.5,58.70 L335.5,58.77 L336.5,58.84 L337.5,58.90 L338.5,58.97 L339.5,59.04 L340.5,59.11 L341.5,59.17 L342.5,59.24 L343.5,59.31 L344.5,59.38 L345.5,59.45 L346.5,59.52 L347.5,59.59 L350.0,59.77 L352.5,59.94 L355.0,60.12 L357.5,60.30 L360.0,60.48 L362.5,60.67 L365.0,60.85 L367.5,61.03 L370.0,61.21 L372.5,61.40 L375.0,61.58 L377.5,61.76 L380.0,61.94 L382.5,62.12 L385.0,62.30 L387.5,62.48 L390.0,62.66 L392.5,62.83 L395.0,63.01 L397.5,63.18 L400.0,63.35 L402.5,63.52 L405.0,63.69 L407.5,63.86 L410.0,64.02 L412.5,64.18 L415.0,64.34 L417.5,64.50 L420.0,64.66 L422.5,64.81 L425.0,64.96 L427.5,65.11 L430.0,65.25 L432.5,65.39 L435.0,65.53 L437.5,65.67 L440.0,65.80 L442.5,65.93 L445.0,66.06 L447.5,66.18 L450.0,66.30 L452.5,66.42 L455.0,66.53 L457.5,66.64 L460.0,66.75 L462.5,66.85 L465.0,66.95 L467.5,67.04 L470.0,67.13 L472.5,67.22 L475.0,67.30 L477.5,67.37 L480.0,67.44 L482.5,67.51 L485.0,67.57 L487.5,67.63 L490.0,67.68 L492.5,67.73 L495.0,67.77 L497.5,67.81 L500.0,67.84 L502.5,67.86 L505.0,67.88 L507.5,67.90 L510.0,67.91 L512.5,67.91" stroke="rgb(183,236,0)" stroke-width="1.68"/>
<path d="M297.7,144.98 L306.1,144.98 L306.1,57.17 L307.5,57.17 L308.0,57.20 L308.5,57.22 L309.0,57.24 L309.5,57.26 L310.0,57.28 L310.5,57.31 L311.0,57.33 L311.5,57.35 L312.0,57.38 L312.5,57.40 L313.0,57.42 L313.5,57.45 L314.0,57.47 L314.5,57.49 L315.0,57.52 L315.5,57.54 L316.0,57.57 L316.5,57.59 L317.0,57.62 L317.5,57.64 L318.5,57.69 L319.5,57.74 L320.5,57.79 L321.5,57.84 L322.5,57.90 L323.5,57.95 L324.5,58.00 L325.5,58.06 L326.5,58.11 L327.5,58.16 L328.5,58.22 L329.5,58.28 L330.5,58.33 L331.5,58.39 L332.5,58.45 L333.5,58.50 L334.5,58.56 L335.5,58.62 L336.5,58.68 L337.5,58.74 L338.5,58.80 L339.5,58.86 L340.5,58.92 L341.5,58.98 L342.5,59.04 L343.5,59.10 L344.5,59.17 L345.5,59.23 L346.5,59.29 L347.5,59.36 L350.0,59.51 L352.5,59.68 L355.0,59.84 L357.5,60.00 L360.0,60.17 L362.5,60.33 L365.0,60.50 L367.5,60.67 L370.0,60.83 L372.5,61.00 L375.0,61.17 L377.5,61.34 L380.0,61.50 L382.5,61.67 L385.0,61.84 L387.5,62.00 L390.0,62.17 L392.5,62.33 L395.0,62.50 L397.5,62.66 L400.0,62.82 L402.5,62.98 L405.0,63.14 L407.5,63.29 L410.0,63.45 L412.5,63.60 L415.0,63.75 L417.5,63.90 L420.0,64.05 L422.5,64.19 L425.0,64.34 L427.5,64.48 L430.0,64.61 L432.5,64.75 L435.0,64.88 L437.5,65.01 L440.0,65.14 L442.5,65.26 L445.0,65.39 L447.5,65.50 L450.0,65.62 L452.5,65.73 L455.0,65.84 L457.5,65.95 L460.0,66.05 L462.5,66.15 L465.0,66.24 L467.5,66.33 L470.0,66.42 L472.5,66.50 L475.0,66.58 L477.5,66.66 L480.0,66.73 L482.5,66.79 L485.0,66.85 L487.5,66.91 L490.0,66.96 L492.5,67.01 L495.0,67.05 L497.5,67.08 L500.0,67.11 L502.5,67.14 L505.0,67.16 L507.5,67.17 L510.0,67.18 L512.5,67.18" stroke="rgb(205,240,0)" stroke-width="1.68"/>
<path d="M297.7,144.98 L306.1,144.98 L306.1,57.23 L307.5,57.23 L308.0,57.25 L308.5,57.26 L309.0,57.28 L309.5,57.30 L310.0,57.32 L310.5,57.34 L311.0,57.36 L311.5,57.38 L312.0,57.40 L312.5,57.42 L313.0,57.44 L313.5,57.46 L314.0,57.48 L314.5,57.50 L315.0,57.52 L315.5,57.54 L316.0,57.56 L316.5,57.58 L317.0,57.60 L317.5,57.62 L318.5,57.66 L319.5,57.71 L320.5,57.75 L321.5,57.80 L322.5,57.84 L323.5,57.89 L324.5,57.93 L325.5,57.98 L326.5,58.03 L327.5,58.07 L328.5,58.12 L329.5,58.17 L330.5,58.22 L331.5,58.27 L332.5,58.32 L333.5,58.37 L334.5,58.42 L335.5,58.47 L336.5,58.52 L337.5,58.58 L338.5,58.63 L339.5,58.68 L340.5,58.74 L341.5,58.79 L342.5,58.84 L343.5,58.90 L344.5,58.95 L345.5,59.01 L346.5,59.07 L347.5,59.12 L350.0,59.26 L352.5,59.41 L355.0,59.55 L357.5,59.70 L360.0,59.85 L362.5,60.00 L365.0,60.15 L367.5,60.30 L370.0,60.45 L372.5,60.61 L375.0,60.76 L377.5,60.91 L380.0,61.07 L382.5,61.22 L385.0,61.38 L387.5,61.53 L390.0,61.68 L392.5,61.84 L395.0,61.99 L397.5,62.14 L400.0,62.29 L402.5,62.44 L405.0,62.58 L407.5,62.73 L410.0,62.88 L412.5,63.02 L415.0,63.16 L417.5,63.30 L420.0,63.44 L422.5,63.58 L425.0,63.71 L427.5,63.84 L430.0,63.97 L432.5,64.10 L435.0,64.23 L437.5,64.35 L440.0,64.48 L442.5,64.60 L445.0,64.71 L447.5,64.83 L450.0,64.94 L452.5,65.05 L455.0,65.15 L457.5,65.25 L460.0,65.35 L462.5,65.45 L465.0,65.54 L467.5,65.63 L470.0,65.71 L472.5,65.79 L475.0,65.87 L477.5,65.94 L480.0,66.01 L482.5,66.07 L485.0,66.13 L487.5,66.19 L490.0,66.24 L492.5,66.28 L495.0,66.32 L497.5,66.36 L500.0,66.39 L502.5,66.41 L505.0,66.43 L507.5,66.45 L510.0,66.45 L512.5,66.46" stroke="rgb(227,245,0)" stroke-width="1.68"/>
<path d="M297.7,144.98 L306.1,144.98 L306.1,57.28 L307.5,57.28 L308.0,57.30 L308.5,57.31 L309.0,57.33 L309.5,57.34 L310.0,57.36 L310.5,57.37 L311.0,57.39 L311.5,57.40 L312.0,57.42 L312.5,57.43 L313.0,57.45 L313.5,57.47 L314.0,57.48 L314.5,57.50 L315.0,57.52 L315.5,57.53 L316.0,57.55 L316.5,57.57 L317.0,57.59 L317.5,57.60 L318.5,57.64 L319.5,57.67 L320.5,57.71 L321.5,57.75 L322.5,57.79 L323.5,57.82 L324.5,57.86 L325.5,57.90 L326.5,57.94 L327.5,57.98 L328.5,58.02 L329.5,58.06 L330.5,58.11 L331.5,58.15 L332.5,58.19 L333.5,58.24 L334.5,58.28 L335.5,58.32 L336.5,58.37 L337.5,58.41 L338.5,58.46 L339.5,58.51 L340.5,58.55 L341.5,58.60 L342.5,58.65 L343.5,58.69 L344.5,58.74 L345.5,58.79 L346.5,58.84 L347.5,58.89 L350.0,59.01 L352.5,59.14 L355.0,59.27 L357.5,59.40 L360.0,59.53 L362.5,59.67 L365.0,59.80 L367.5,59.94 L370.0,60.08 L372.5,60.22 L375.0,60.36 L377.5,60.49 L380.0,60.64 L382.5,60.78 L385.0,60.92 L387.5,61.06 L390.0,61.20 L392.5,61.34 L395.0,61.48 L397.5,61.62 L400.0,61.76 L402.5,61.89 L405.0,62.03 L407.5,62.17 L410.0,62.30 L412.5,62.44 L415.0,62.57 L417.5,62.70 L420.0,62.83 L422.5,62.96 L425.0,63.09 L427.5,63.21 L430.0,63.34 L432.5,63.46 L435.0,63.58 L437.5,63.70 L440.0,63.81 L442.5,63.93 L445.0,64.04 L447.5,64.15 L450.0,64.25 L452.5,64.36 L455.0,64.46 L457.5,64.56 L460.0,64.65 L462.5,64.75 L465.0,64.83 L467.5,64.92 L470.0,65.00 L472.5,65.08 L475.0,65.16 L477.5,65.23 L480.0,65.29 L482.5,65.35 L485.0,65.41 L487.5,65.47 L490.0,65.52 L492.5,65.56 L495.0,65.60 L497.5,65.63 L500.0,65.66 L502.5,65.69 L505.0,65.71 L507.5,65.72 L510.0,65.73 L512.5,65.73" stroke="rgb(250,249,0)" stroke-width="1.68"/>
<path d="M297.7,144.98 L306.1,144.98 L306.1,57.33 L307.5,57.33 L308.0,57.35 L308.5,57.36 L309.0,57.37 L309.5,57.38 L310.0,57.39 L310.5,57.40 L311.0,57.41 L311.5,57.43 L312.0,57.44 L312.5,57.45 L313.0,57.46 L313.5,57.48 L314.0,57.49 L314.5,57.50 L315.0,57.52 L315.5,57.53 L316.0,57.54 L316.5,57.56 L317.0,57.57 L317.5,57.58 L318.5,57.61 L319.5,57.64 L320.5,57.67 L321.5,57.70 L322.5,57.73 L323.5,57.76 L324.5,57.79 L325.5,57.83 L326.5,57.86 L327.5,57.89 L328.5,57.92 L329.5,57.96 L330.5,57.99 L331.5,58.03 L332.5,58.07 L333.5,58.10 L334.5,58.14 L335.5,58.18 L336.5,58.21 L337.5,58.25 L338.5,58.29 L339.5,58.33 L340.5,58.37 L341.5,58.41 L342.5,58.45 L343.5,58.49 L344.5,58.53 L345.5,58.57 L346.5,58.62 L347.5,58.66 L350.0,58.77 L352.5,58.88 L355.0,58.99 L357.5,59.10 L360.0,59.22 L362.5,59.34 L365.0,59.46 L367.5,59.58 L370.0,59.70 L372.5,59.83 L375.0,59.95 L377.5,60.08 L380.0,60.20 L382.5,60.33 L385.0,60.46 L387.5,60.59 L390.0,60.71 L392.5,60.84 L395.0,60.97 L397.5,61.10 L400.0,61.23 L402.5,61.35 L405.0,61.48 L407.5,61.61 L410.0,61.73 L412.5,61.86 L415.0,61.98 L417.5,62.10 L420.0,62.23 L422.5,62.35 L425.0,62.47 L427.5,62.58 L430.0,62.70 L432.5,62.82 L435.0,62.93 L437.5,63.04 L440.0,63.15 L442.5,63.26 L445.0,63.37 L447.5,63.47 L450.0,63.57 L452.5,63.67 L455.0,63.77 L457.5,63.86 L460.0,63.96 L462.5,64.04 L465.0,64.13 L467.5,64.21 L470.0,64.29 L472.5,64.37 L475.0,64.44 L477.5,64.51 L480.0,64.58 L482.5,64.64 L485.0,64.69 L487.5,64.75 L490.0,64.79 L492.5,64.84 L495.0,64.88 L497.5,64.91 L500.0,64.94 L502.5,64.96 L505.0,64.98 L507.5,64.99 L510.0,65.00 L512.5,65.01" stroke="rgb(255,242,0)" stroke-width="1.68"/>
<path d="M297.7,144.98 L306.1,144.98 L306.1,57.39 L307.5,57.39 L308.0,57.40 L308.5,57.40 L309.0,57.41 L309.5,57.42 L310.0,57.43 L310.5,57.43 L311.0,57.44 L311.5,57.45 L312.0,57.46 L312.5,57.47 L313.0,57.48 L313.5,57.49 L314.0,57.50 L314.5,57.50 L315.0,57.51 L315.5,57.52 L316.0,57.53 L316.5,57.54 L317.0,57.55 L317.5,57.56 L318.5,57.59 L319.5,57.61 L320.5,57.63 L321.5,57.65 L322.5,57.68 L323.5,57.70 L324.5,57.72 L325.5,57.75 L326.5,57.77 L327.5,57.80 L328.5,57.83 L329.5,57.85 L330.5,57.88 L331.5,57.91 L332.5,57.94 L333.5,57.97 L334.5,58.00 L335.5,58.03 L336.5,58.06 L337.5,58.09 L338.5,58.12 L339.5,58.16 L340.5,58.19 L341.5,58.22 L342.5,58.26 L343.5,58.29 L344.5,58.32 L345.5,58.36 L346.5,58.39 L347.5,58.43 L350.0,58.52 L352.5,58.62 L355.0,58.71 L357.5,58.81 L360.0,58.91 L362.5,59.01 L365.0,59.12 L367.5,59.22 L370.0,59.33 L372.5,59.44 L375.0,59.55 L377.5,59.66 L380.0,59.78 L382.5,59.89 L385.0,60.00 L387.5,60.12 L390.0,60.23 L392.5,60.35 L395.0,60.47 L397.5,60.58 L400.0,60.70 L402.5,60.82 L405.0,60.93 L407.5,61.05 L410.0,61.16 L412.5,61.28 L415.0,61.39 L417.5,61.51 L420.0,61.62 L422.5,61.73 L425.0,61.84 L427.5,61.95 L430.0,62.06 L432.5,62.17 L435.0,62.28 L437.5,62.39 L440.0,62.49 L442.5,62.59 L445.0,62.69 L447.5,62.79 L450.0,62.89 L452.5,62.99 L455.0,63.08 L457.5,63.17 L460.0,63.26 L462.5,63.34 L465.0,63.43 L467.5,63.51 L470.0,63.58 L472.5,63.66 L475.0,63.73 L477.5,63.80 L480.0,63.86 L482.5,63.92 L485.0,63.97 L487.5,64.02 L490.0,64.07 L492.5,64.11 L495.0,64.15 L497.5,64.18 L500.0,64.21 L502.5,64.24 L505.0,64.26 L507.5,64.27 L510.0,64.28 L512.5,64.28" stroke="rgb(255,232,0)" stroke-width="1.68"/>
<path d="M297.7,144.98 L306.1,144.98 L306.1,57.43 L307.5,57.43 L308.0,57.44 L308.5,57.44 L309.0,57.45 L309.5,57.45 L310.0,57.45 L310.5,57.46 L311.0,57.46 L311.5,57.47 L312.0,57.47 L312.5,57.48 L313.0,57.48 L313.5,57.49 L314.0,57.50 L314.5,57.50 L315.0,57.51 L315.5,57.51 L316.0,57.52 L316.5,57.53 L317.0,57.53 L317.5,57.54 L318.5,57.55 L319.5,57.57 L320.5,57.58 L321.5,57.60 L322.5,57.62 L323.5,57.63 L324.5,57.65 L325.5,57.67 L326.5,57.69 L327.5,57.71 L328.5,57.73 L329.5,57.75 L330.5,57.77 L331.5,57.79 L332.5,57.81 L333.5,57.83 L334.5,57.86 L335.5,57.88 L336.5,57.91 L337.5,57.93 L338.5,57.96 L339.5,57.98 L340.5,58.01 L341.5,58.03 L342.5,58.06 L343.5,58.09 L344.5,58.12 L345.5,58.14 L346.5,58.17 L347.5,58.20 L350.0,58.28 L352.5,58.36 L355.0,58.44 L357.5,58.52 L360.0,58.60 L362.5,58.69 L365.0,58.78 L367.5,58.87 L370.0,58.96 L372.5,59.06 L375.0,59.15 L377.5,59.25 L380.0,59.35 L382.5,59.45 L385.0,59.55 L387.5,59.65 L390.0,59.76 L392.5,59.86 L395.0,59.96 L397.5,60.07 L400.0,60.17 L402.5,60.28 L405.0,60.38 L407.5,60.49 L410.0,60.60 L412.5,60.70 L415.0,60.81 L417.5,60.91 L420.0,61.02 L422.5,61.12 L425.0,61.22 L427.5,61.33 L430.0,61.43 L432.5,61.53 L435.0,61.63 L437.5,61.73 L440.0,61.83 L442.5,61.93 L445.0,62.02 L447.5,62.12 L450.0,62.21 L452.5,62.30 L455.0,62.39 L457.5,62.48 L460.0,62.56 L462.5,62.64 L465.0,62.72 L467.5,62.80 L470.0,62.88 L472.5,62.95 L475.0,63.02 L477.5,63.08 L480.0,63.14 L482.5,63.20 L485.0,63.25 L487.5,63.30 L490.0,63.35 L492.5,63.39 L495.0,63.43 L497.5,63.46 L500.0,63.49 L502.5,63.51 L505.0,63.53 L507.5,63.54 L510.0,63.55 L512.5,63.55" stroke="rgb(255,221,0)" stroke-width="1.68"/>
<path d="M297.7,144.98 L306.1,144.98 L306.1,57.47 L307.5,57.47 L308.0,57.47 L308.5,57.47 L309.0,57.47 L309.5,57.47 L310.0,57.47 L310.5,57.47 L311.0,57.48 L311.5,57.48 L312.0,57.48 L312.5,57.48 L313.0,57.48 L313.5,57.48 L314.0,57.49 L314.5,57.49 L315.0,57.49 L315.5,57.49 L316.0,57.50 L316.5,57.50 L317.0,57.50 L317.5,57.51 L318.5,57.51 L319.5,57.52 L320.5,57.53 L321.5,57.54 L322.5,57.55 L323.5,57.56 L324.5,57.57 L325.5,57.58 L326.5,57.59 L327.5,57.61 L328.5,57.62 L329.5,57.63 L330.5,57.65 L331.5,57.66 L332.5,57.68 L333.5,57.70 L334.5,57.71 L335.5,57.73 L336.5,57.75 L337.5,57.76 L338.5,57.78 L339.5,57.80 L340.5,57.82 L341.5,57.84 L342.5,57.86 L343.5,57.88 L344.5,57.91 L345.5,57.93 L346.5,57.95 L347.5,57.97 L350.0,58.03 L352.5,58.09 L355.0,58.16 L357.5,58.23 L360.0,58.30 L362.5,58.37 L365.0,58.44 L367.5,58.52 L370.0,58.60 L372.5,58.68 L375.0,58.76 L377.5,58.84 L380.0,58.93 L382.5,59.01 L385.0,59.10 L387.5,59.19 L390.0,59.28 L392.5,59.37 L395.0,59.47 L397.5,59.56 L400.0,59.65 L402.5,59.75 L405.0,59.84 L407.5,59.94 L410.0,60.03 L412.5,60.13 L415.0,60.22 L417.5,60.32 L420.0,60.42 L422.5,60.51 L425.0,60.61 L427.5,60.70 L430.0,60.80 L432.5,60.89 L435.0,60.99 L437.5,61.08 L440.0,61.17 L442.5,61.26 L445.0,61.35 L447.5,61.44 L450.0,61.53 L452.5,61.62 L455.0,61.70 L457.5,61.78 L460.0,61.87 L462.5,61.94 L465.0,62.02 L467.5,62.10 L470.0,62.17 L472.5,62.24 L475.0,62.30 L477.5,62.37 L480.0,62.43 L482.5,62.48 L485.0,62.53 L487.5,62.58 L490.0,62.63 L492.5,62.67 L495.0,62.70 L497.5,62.74 L500.0,62.76 L502.5,62.79 L505.0,62.80 L507.5,62.82 L510.0,62.82 L512.5,62.83" stroke="rgb(255,211,0)" stroke-width="1.68"/>
<path d="M297.7,144.98 L306.1,144.98 L306.1,57.51 L307.5,57.51 L308.0,57.51 L308.5,57.51 L309.0,57.51 L309.5,57.51 L310.0,57.51 L310.5,57.51 L311.0,57.50 L311.5,57.50 L312.0,57.50 L312.5,57.50 L313.0,57.50 L313.5,57.50 L314.0,57.50 L314.5,57.50 L315.0,57.50 L315.5,57.50 L316.0,57.49 L316.5,57.49 L317.0,57.49 L317.5,57.49 L318.5,57.49 L319.5,57.49 L320.5,57.49 L321.5,57.49 L322.5,57.49 L323.5,57.49 L324.5,57.49 L325.5,57.49 L326.5,57.50 L327.5,57.50 L328.5,57.51 L329.5,57.52 L330.5,57.53 L331.5,57.53 L332.5,57.54 L333.5,57.55 L334.5,57.56 L335.5,57.57 L336.5,57.59 L337.5,57.60 L338.5,57.61 L339.5,57.62 L340.5,57.64 L341.5,57.65 L342.5,57.66 L343.5,57.68 L344.5,57.69 L345.5,57.71 L346.5,57.73 L347.5,57.74 L350.0,57.79 L352.5,57.83 L355.0,57.88 L357.5,57.93 L360.0,57.99 L362.5,58.05 L365.0,58.11 L367.5,58.17 L370.0,58.23 L372.5,58.30 L375.0,58.37 L377.5,58.44 L380.0,58.51 L382.5,58.58 L385.0,58.66 L387.5,58.73 L390.0,58.81 L392.5,58.89 L395.0,58.97 L397.5,59.05 L400.0,59.13 L402.5,59.22 L405.0,59.30 L407.5,59.39 L410.0,59.47 L412.5,59.56 L415.0,59.64 L417.5,59.73 L420.0,59.82 L422.5,59.91 L425.0,59.99 L427.5,60.08 L430.0,60.17 L432.5,60.25 L435.0,60.34 L437.5,60.43 L440.0,60.51 L442.5,60.60 L445.0,60.68 L447.5,60.77 L450.0,60.85 L452.5,60.93 L455.0,61.01 L457.5,61.09 L460.0,61.17 L462.5,61.25 L465.0,61.32 L467.5,61.39 L470.0,61.46 L472.5,61.53 L475.0,61.59 L477.5,61.65 L480.0,61.71 L482.5,61.76 L485.0,61.81 L487.5,61.86 L490.0,61.91 L492.5,61.95 L495.0,61.98 L497.5,62.01 L500.0,62.04 L502.5,62.06 L505.0,62.08 L507.5,62.09 L510.0,62.10 L512.5,62.10" stroke="rgb(255,201,0)" stroke-width="1.68"/>
<path d="M297.7,144.98 L306.1,144.98 L306.1,57.54 L307.5,57.54 L308.0,57.54 L308.5,57.54 L309.0,57.54 L309.5,57.54 L310.0,57.54 L310.5,57.54 L311.0,57.54 L311.5,57.54 L312.0,57.54 L312.5,57.53 L313.0,57.53 L313.5,57.53 L314.0,57.52 L314.5,57.52 L315.0,57.52 L315.5,57.51 L316.0,57.51 L316.5,57.50 L317.0,57.50 L317.5,57.49 L318.5,57.48 L319.5,57.47 L320.5,57.46 L321.5,57.45 L322.5,57.44 L323.5,57.44 L324.5,57.43 L325.5,57.42 L326.5,57.42 L327.5,57.41 L328.5,57.41 L329.5,57.41 L330.5,57.41 L331.5,57.41 L332.5,57.41 L333.5,57.41 L334.5,57.42 L335.5,57.42 L336.5,57.42 L337.5,57.43 L338.5,57.44 L339.5,57.44 L340.5,57.45 L341.5,57.46 L342.5,57.46 L343.5,57.47 L344.5,57.48 L345.5,57.49 L346.5,57.50 L347.5,57.51 L350.0,57.54 L352.5,57.57 L355.0,57.61 L357.5,57.65 L360.0,57.69 L362.5,57.73 L365.0,57.77 L367.5,57.82 L370.0,57.87 L372.5,57.92 L375.0,57.98 L377.5,58.03 L380.0,58.09 L382.5,58.15 L385.0,58.22 L387.5,58.28 L390.0,58.35 L392.5,58.41 L395.0,58.48 L397.5,58.55 L400.0,58.62 L402.5,58.69 L405.0,58.77 L407.5,58.84 L410.0,58.92 L412.5,58.99 L415.0,59.07 L417.5,59.15 L420.0,59.23 L422.5,59.30 L425.0,59.38 L427.5,59.46 L430.0,59.54 L432.5,59.62 L435.0,59.70 L437.5,59.78 L440.0,59.86 L442.5,59.94 L445.0,60.02 L447.5,60.10 L450.0,60.18 L452.5,60.25 L455.0,60.33 L457.5,60.40 L460.0,60.48 L462.5,60.55 L465.0,60.62 L467.5,60.69 L470.0,60.75 L472.5,60.82 L475.0,60.88 L477.5,60.94 L480.0,60.99 L482.5,61.05 L485.0,61.10 L487.5,61.14 L490.0,61.18 L492.5,61.22 L495.0,61.26 L497.5,61.29 L500.0,61.31 L502.5,61.34 L505.0,61.35 L507.5,61.37 L510.0,61.37 L512.5,61.38" stroke="rgb(255,185,0)" stroke-width="1.68"/>
<path d="M297.7,144.98 L306.1,144.98 L306.1,57.58 L307.5,57.58 L308.0,57.58 L308.5,57.58 L309.0,57.58 L309.5,57.58 L310.0,57.58 L310.5,57.57 L311.0,57.57 L311.5,57.57 L312.0,57.57 L312.5,57.56 L313.0,57.56 L313.5,57.56 L314.0,57.55 L314.5,57.54 L315.0,57.54 L315.5,57.53 L316.0,57.52 L316.5,57.52 L317.0,57.51 L317.5,57.50 L318.5,57.48 L319.5,57.46 L320.5,57.44 L321.5,57.42 L322.5,57.40 L323.5,57.38 L324.5,57.37 L325.5,57.35 L326.5,57.34 L327.5,57.32 L328.5,57.31 L329.5,57.30 L330.5,57.29 L331.5,57.29 L332.5,57.28 L333.5,57.27 L334.5,57.27 L335.5,57.27 L336.5,57.27 L337.5,57.26 L338.5,57.26 L339.5,57.26 L340.5,57.26 L341.5,57.27 L342.5,57.27 L343.5,57.27 L344.5,57.27 L345.5,57.28 L346.5,57.28 L347.5,57.28 L350.0,57.30 L352.5,57.32 L355.0,57.34 L357.5,57.36 L360.0,57.39 L362.5,57.41 L365.0,57.44 L367.5,57.48 L370.0,57.52 L372.5,57.55 L375.0,57.60 L377.5,57.64 L380.0,57.68 L382.5,57.73 L385.0,57.78 L387.5,57.83 L390.0,57.89 L392.5,57.94 L395.0,58.00 L397.5,58.06 L400.0,58.12 L402.5,58.18 L405.0,58.24 L407.5,58.30 L410.0,58.37 L412.5,58.43 L415.0,58.50 L417.5,58.57 L420.0,58.64 L422.5,58.71 L425.0,58.78 L427.5,58.85 L430.0,58.92 L432.5,58.99 L435.0,59.07 L437.5,59.14 L440.0,59.21 L442.5,59.28 L445.0,59.36 L447.5,59.43 L450.0,59.50 L452.5,59.57 L455.0,59.65 L457.5,59.72 L460.0,59.79 L462.5,59.85 L465.0,59.92 L467.5,59.99 L470.0,60.05 L472.5,60.11 L475.0,60.17 L477.5,60.23 L480.0,60.28 L482.5,60.33 L485.0,60.38 L487.5,60.42 L490.0,60.46 L492.5,60.50 L495.0,60.53 L497.5,60.56 L500.0,60.59 L502.5,60.61 L505.0,60.63 L507.5,60.64 L510.0,60.65 L512.5,60.65" stroke="rgb(255,168,0)" stroke-width="1.68"/>
<path d="M297.7,144.98 L306.1,144.98 L306.1,57.61 L307.5,57.61 L308.0,57.61 L308.5,57.61 L309.0,57.61 L309.5,57.61 L310.0,57.61 L310.5,57.61 L311.0,57.61 L311.5,57.60 L312.0,57.60 L312.5,57.59 L313.0,57.59 L313.5,57.58 L314.0,57.58 L314.5,57.57 L315.0,57.56 L315.5,57.55 L316.0,57.54 L316.5,57.53 L317.0,57.51 L317.5,57.50 L318.5,57.48 L319.5,57.45 L320.5,57.42 L321.5,57.39 L322.5,57.36 L323.5,57.33 L324.5,57.31 L325.5,57.28 L326.5,57.26 L327.5,57.23 L328.5,57.21 L329.5,57.20 L330.5,57.18 L331.5,57.16 L332.5,57.15 L333.5,57.14 L334.5,57.13 L335.5,57.12 L336.5,57.11 L337.5,57.10 L338.5,57.09 L339.5,57.09 L340.5,57.08 L341.5,57.08 L342.5,57.07 L343.5,57.07 L344.5,57.06 L345.5,57.06 L346.5,57.06 L347.5,57.06 L350.0,57.06 L352.5,57.06 L355.0,57.07 L357.5,57.08 L360.0,57.09 L362.5,57.10 L365.0,57.12 L367.5,57.14 L370.0,57.16 L372.5,57.19 L375.0,57.22 L377.5,57.25 L380.0,57.28 L382.5,57.32 L385.0,57.35 L387.5,57.39 L390.0,57.43 L392.5,57.48 L395.0,57.52 L397.5,57.57 L400.0,57.62 L402.5,57.67 L405.0,57.72 L407.5,57.77 L410.0,57.83 L412.5,57.88 L415.0,57.94 L417.5,58.00 L420.0,58.06 L422.5,58.12 L425.0,58.18 L427.5,58.24 L430.0,58.31 L432.5,58.37 L435.0,58.44 L437.5,58.50 L440.0,58.57 L442.5,58.63 L445.0,58.70 L447.5,58.77 L450.0,58.84 L452.5,58.90 L455.0,58.97 L457.5,59.03 L460.0,59.10 L462.5,59.16 L465.0,59.23 L467.5,59.29 L470.0,59.35 L472.5,59.41 L475.0,59.46 L477.5,59.51 L480.0,59.57 L482.5,59.62 L485.0,59.66 L487.5,59.70 L490.0,59.74 L492.5,59.78 L495.0,59.81 L497.5,59.84 L500.0,59.87 L502.5,59.89 L505.0,59.90 L507.5,59.91 L510.0,59.92 L512.5,59.92" stroke="rgb(255,152,0)" stroke-width="1.68"/>
<path d="M297.7,144.98 L306.1,144.98 L306.1,57.65 L307.5,57.65 L308.0,57.65 L308.5,57.65 L309.0,57.65 L309.5,57.65 L310.0,57.65 L310.5,57.64 L311.0,57.64 L311.5,57.64 L312.0,57.63 L312.5,57.63 L313.0,57.62 L313.5,57.61 L314.0,57.60 L314.5,57.59 L315.0,57.58 L315.5,57.57 L316.0,57.55 L316.5,57.54 L317.0,57.52 L317.5,57.51 L318.5,57.47 L319.5,57.43 L320.5,57.40 L321.5,57.36 L322.5,57.32 L323.5,57.28 L324.5,57.24 L325.5,57.21 L326.5,57.17 L327.5,57.14 L328.5,57.11 L329.5,57.09 L330.5,57.06 L331.5,57.04 L332.5,57.02 L333.5,57.00 L334.5,56.98 L335.5,56.96 L336.5,56.95 L337.5,56.93 L338.5,56.92 L339.5,56.91 L340.5,56.90 L341.5,56.89 L342.5,56.88 L343.5,56.87 L344.5,56.86 L345.5,56.85 L346.5,56.84 L347.5,56.84 L350.0,56.82 L352.5,56.81 L355.0,56.80 L357.5,56.80 L360.0,56.80 L362.5,56.80 L365.0,56.80 L367.5,56.81 L370.0,56.82 L372.5,56.83 L375.0,56.85 L377.5,56.87 L380.0,56.89 L382.5,56.91 L385.0,56.93 L387.5,56.96 L390.0,56.99 L392.5,57.02 L395.0,57.06 L397.5,57.09 L400.0,57.13 L402.5,57.17 L405.0,57.21 L407.5,57.25 L410.0,57.30 L412.5,57.34 L415.0,57.39 L417.5,57.44 L420.0,57.49 L422.5,57.54 L425.0,57.59 L427.5,57.65 L430.0,57.70 L432.5,57.76 L435.0,57.82 L437.5,57.87 L440.0,57.93 L442.5,57.99 L445.0,58.05 L447.5,58.11 L450.0,58.17 L452.5,58.24 L455.0,58.30 L457.5,58.36 L460.0,58.42 L462.5,58.48 L465.0,58.53 L467.5,58.59 L470.0,58.65 L472.5,58.70 L475.0,58.76 L477.5,58.81 L480.0,58.86 L482.5,58.90 L485.0,58.95 L487.5,58.99 L490.0,59.02 L492.5,59.06 L495.0,59.09 L497.5,59.12 L500.0,59.14 L502.5,59.16 L505.0,59.18 L507.5,59.19 L510.0,59.19 L512.5,59.20" stroke="rgb(255,135,0)" stroke-width="1.68"/>
<path d="M297.7,144.98 L306.1,144.98 L306.1,57.68 L307.5,57.68 L308.0,57.68 L308.5,57.68 L309.0,57.68 L309.5,57.68 L310.0,57.68 L310.5,57.68 L311.0,57.67 L311.5,57.67 L312.0,57.66 L312.5,57.66 L313.0,57.65 L313.5,57.64 L314.0,57.63 L314.5,57.61 L315.0,57.60 L315.5,57.58 L316.0,57.57 L316.5,57.55 L317.0,57.53 L317.5,57.51 L318.5,57.47 L319.5,57.42 L320.5,57.37 L321.5,57.32 L322.5,57.27 L323.5,57.23 L324.5,57.18 L325.5,57.14 L326.5,57.09 L327.5,57.05 L328.5,57.02 L329.5,56.98 L330.5,56.95 L331.5,56.92 L332.5,56.89 L333.5,56.86 L334.5,56.84 L335.5,56.81 L336.5,56.79 L337.5,56.77 L338.5,56.75 L339.5,56.73 L340.5,56.71 L341.5,56.70 L342.5,56.68 L343.5,56.67 L344.5,56.65 L345.5,56.64 L346.5,56.63 L347.5,56.61 L350.0,56.59 L352.5,56.56 L355.0,56.54 L357.5,56.52 L360.0,56.51 L362.5,56.50 L365.0,56.49 L367.5,56.48 L370.0,56.48 L372.5,56.48 L375.0,56.48 L377.5,56.49 L380.0,56.50 L382.5,56.51 L385.0,56.52 L387.5,56.54 L390.0,56.56 L392.5,56.58 L395.0,56.60 L397.5,56.62 L400.0,56.65 L402.5,56.68 L405.0,56.71 L407.5,56.74 L410.0,56.78 L412.5,56.81 L415.0,56.85 L417.5,56.89 L420.0,56.93 L422.5,56.97 L425.0,57.02 L427.5,57.06 L430.0,57.11 L432.5,57.16 L435.0,57.21 L437.5,57.26 L440.0,57.31 L442.5,57.36 L445.0,57.41 L447.5,57.47 L450.0,57.52 L452.5,57.58 L455.0,57.63 L457.5,57.69 L460.0,57.74 L462.5,57.80 L465.0,57.85 L467.5,57.90 L470.0,57.95 L472.5,58.00 L475.0,58.05 L477.5,58.10 L480.0,58.15 L482.5,58.19 L485.0,58.23 L487.5,58.27 L490.0,58.31 L492.5,58.34 L495.0,58.37 L497.5,58.40 L500.0,58.42 L502.5,58.44 L505.0,58.45 L507.5,58.46 L510.0,58.47 L512.5,58.47" stroke="rgb(255,119,0)" stroke-width="1.68"/>
<path d="M297.7,144.98 L306.1,144.98 L306.1,57.72 L307.5,57.72 L308.0,57.72 L308.5,57.72 L309.0,57.72 L309.5,57.72 L310.0,57.72 L310.5,57.71 L311.0,57.71 L311.5,57.70 L312.0,57.69 L312.5,57.69 L313.0,57.68 L313.5,57.66 L314.0,57.65 L314.5,57.63 L315.0,57.62 L315.5,57.60 L316.0,57.58 L316.5,57.56 L317.0,57.53 L317.5,57.51 L318.5,57.46 L319.5,57.40 L320.5,57.35 L321.5,57.29 L322.5,57.23 L323.5,57.17 L324.5,57.12 L325.5,57.06 L326.5,57.01 L327.5,56.96 L328.5,56.91 L329.5,56.87 L330.5,56.83 L331.5,56.79 L332.5,56.75 L333.5,56.72 L334.5,56.69 L335.5,56.66 L336.5,56.63 L337.5,56.60 L338.5,56.58 L339.5,56.55 L340.5,56.53 L341.5,56.51 L342.5,56.49 L343.5,56.47 L344.5,56.45 L345.5,56.43 L346.5,56.41 L347.5,56.39 L350.0,56.35 L352.5,56.31 L355.0,56.28 L357.5,56.25 L360.0,56.22 L362.5,56.20 L365.0,56.17 L367.5,56.16 L370.0,56.14 L372.5,56.13 L375.0,56.12 L377.5,56.12 L380.0,56.11 L382.5,56.11 L385.0,56.12 L387.5,56.12 L390.0,56.13 L392.5,56.14 L395.0,56.15 L397.5,56.16 L400.0,56.18 L402.5,56.20 L405.0,56.22 L407.5,56.24 L410.0,56.27 L412.5,56.29 L415.0,56.32 L417.5,56.35 L420.0,56.38 L422.5,56.41 L425.0,56.45 L427.5,56.49 L430.0,56.52 L432.5,56.56 L435.0,56.61 L437.5,56.65 L440.0,56.69 L442.5,56.74 L445.0,56.78 L447.5,56.83 L450.0,56.88 L452.5,56.92 L455.0,56.97 L457.5,57.02 L460.0,57.07 L462.5,57.12 L465.0,57.17 L467.5,57.22 L470.0,57.26 L472.5,57.31 L475.0,57.36 L477.5,57.40 L480.0,57.44 L482.5,57.48 L485.0,57.52 L487.5,57.56 L490.0,57.59 L492.5,57.62 L495.0,57.65 L497.5,57.67 L500.0,57.69 L502.5,57.71 L505.0,57.73 L507.5,57.74 L510.0,57.74 L512.5,57.75" stroke="rgb(255,102,0)" stroke-width="1.68"/>
<path d="M297.7,144.98 L306.1,144.98 L306.1,57.76 L307.5,57.76 L308.0,57.76 L308.5,57.76 L309.0,57.75 L309.5,57.75 L310.0,57.75 L310.5,57.75 L311.0,57.74 L311.5,57.73 L312.0,57.73 L312.5,57.72 L313.0,57.70 L313.5,57.69 L314.0,57.67 L314.5,57.66 L315.0,57.64 L315.5,57.62 L316.0,57.59 L316.5,57.57 L317.0,57.54 L317.5,57.51 L318.5,57.45 L319.5,57.39 L320.5,57.32 L321.5,57.25 L322.5,57.18 L323.5,57.11 L324.5,57.05 L325.5,56.98 L326.5,56.92 L327.5,56.86 L328.5,56.81 L329.5,56.76 L330.5,56.71 L331.5,56.66 L332.5,56.62 L333.5,56.58 L334.5,56.54 L335.5,56.50 L336.5,56.47 L337.5,56.43 L338.5,56.40 L339.5,56.37 L340.5,56.34 L341.5,56.31 L342.5,56.29 L343.5,56.26 L344.5,56.24 L345.5,56.21 L346.5,56.19 L347.5,56.16 L350.0,56.11 L352.5,56.06 L355.0,56.01 L357.5,55.97 L360.0,55.93 L362.5,55.89 L365.0,55.86 L367.5,55.83 L370.0,55.81 L372.5,55.78 L375.0,55.76 L377.5,55.75 L380.0,55.73 L382.5,55.72 L385.0,55.71 L387.5,55.71 L390.0,55.70 L392.5,55.70 L395.0,55.70 L397.5,55.71 L400.0,55.72 L402.5,55.72 L405.0,55.73 L407.5,55.75 L410.0,55.76 L412.5,55.78 L415.0,55.80 L417.5,55.82 L420.0,55.84 L422.5,55.87 L425.0,55.89 L427.5,55.92 L430.0,55.95 L432.5,55.98 L435.0,56.01 L437.5,56.05 L440.0,56.08 L442.5,56.12 L445.0,56.16 L447.5,56.20 L450.0,56.24 L452.5,56.28 L455.0,56.32 L457.5,56.37 L460.0,56.41 L462.5,56.45 L465.0,56.50 L467.5,56.54 L470.0,56.58 L472.5,56.62 L475.0,56.66 L477.5,56.70 L480.0,56.74 L482.5,56.78 L485.0,56.81 L487.5,56.85 L490.0,56.88 L492.5,56.90 L495.0,56.93 L497.5,56.95 L500.0,56.97 L502.5,56.99 L505.0,57.00 L507.5,57.01 L510.0,57.02 L512.5,57.02" stroke="rgb(255,86,0)" stroke-width="1.68"/>
<path d="M297.7,144.98 L306.1,144.98 L306.1,57.79 L307.5,57.79 L308.0,57.79 L308.5,57.79 L309.0,57.79 L309.5,57.79 L310.0,57.79 L310.5,57.78 L311.0,57.78 L311.5,57.77 L312.0,57.76 L312.5,57.75 L313.0,57.73 L313.5,57.72 L314.0,57.70 L314.5,57.68 L315.0,57.65 L315.5,57.63 L316.0,57.60 L316.5,57.57 L317.0,57.54 L317.5,57.51 L318.5,57.44 L319.5,57.37 L320.5,57.29 L321.5,57.21 L322.5,57.13 L323.5,57.05 L324.5,56.98 L325.5,56.90 L326.5,56.83 L327.5,56.76 L328.5,56.70 L329.5,56.64 L330.5,56.58 L331.5,56.52 L332.5,56.47 L333.5,56.43 L334.5,56.38 L335.5,56.34 L336.5,56.30 L337.5,56.26 L338.5,56.22 L339.5,56.18 L340.5,56.15 L341.5,56.11 L342.5,56.08 L343.5,56.05 L344.5,56.02 L345.5,55.99 L346.5,55.96 L347.5,55.93 L350.0,55.86 L352.5,55.80 L355.0,55.74 L357.5,55.68 L360.0,55.63 L362.5,55.58 L365.0,55.54 L367.5,55.50 L370.0,55.46 L372.5,55.43 L375.0,55.40 L377.5,55.37 L380.0,55.35 L382.5,55.33 L385.0,55.31 L387.5,55.29 L390.0,55.28 L392.5,55.27 L395.0,55.26 L397.5,55.25 L400.0,55.25 L402.5,55.25 L405.0,55.25 L407.5,55.25 L410.0,55.26 L412.5,55.27 L415.0,55.28 L417.5,55.29 L420.0,55.30 L422.5,55.32 L425.0,55.34 L427.5,55.36 L430.0,55.38 L432.5,55.40 L435.0,55.43 L437.5,55.45 L440.0,55.48 L442.5,55.51 L445.0,55.54 L447.5,55.58 L450.0,55.61 L452.5,55.64 L455.0,55.68 L457.5,55.72 L460.0,55.75 L462.5,55.79 L465.0,55.83 L467.5,55.86 L470.0,55.90 L472.5,55.94 L475.0,55.97 L477.5,56.01 L480.0,56.04 L482.5,56.08 L485.0,56.11 L487.5,56.14 L490.0,56.16 L492.5,56.19 L495.0,56.21 L497.5,56.23 L500.0,56.25 L502.5,56.27 L505.0,56.28 L507.5,56.29 L510.0,56.29 L512.5,56.29" stroke="rgb(255,69,0)" stroke-width="1.68"/>
<path d="M297.7,144.98 L306.1,144.98 L306.1,57.83 L307.5,57.83 L308.0,57.83 L308.5,57.83 L309.0,57.83 L309.5,57.82 L310.0,57.82 L310.5,57.82 L311.0,57.81 L311.5,57.80 L312.0,57.79 L312.5,57.78 L313.0,57.76 L313.5,57.74 L314.0,57.72 L314.5,57.70 L315.0,57.67 L315.5,57.64 L316.0,57.61 L316.5,57.58 L317.0,57.54 L317.5,57.51 L318.5,57.43 L319.5,57.34 L320.5,57.26 L321.5,57.17 L322.5,57.07 L323.5,56.98 L324.5,56.90 L325.5,56.81 L326.5,56.73 L327.5,56.65 L328.5,56.58 L329.5,56.51 L330.5,56.44 L331.5,56.38 L332.5,56.32 L333.5,56.26 L334.5,56.21 L335.5,56.16 L336.5,56.11 L337.5,56.07 L338.5,56.02 L339.5,55.98 L340.5,55.94 L341.5,55.90 L342.5,55.86 L343.5,55.82 L344.5,55.79 L345.5,55.75 L346.5,55.72 L347.5,55.68 L350.0,55.60 L352.5,55.52 L355.0,55.45 L357.5,55.39 L360.0,55.32 L362.5,55.26 L365.0,55.21 L367.5,55.16 L370.0,55.11 L372.5,55.07 L375.0,55.02 L377.5,54.99 L380.0,54.95 L382.5,54.92 L385.0,54.89 L387.5,54.87 L390.0,54.84 L392.5,54.82 L395.0,54.81 L397.5,54.79 L400.0,54.78 L402.5,54.77 L405.0,54.76 L407.5,54.76 L410.0,54.75 L412.5,54.75 L415.0,54.75 L417.5,54.76 L420.0,54.76 L422.5,54.77 L425.0,54.78 L427.5,54.79 L430.0,54.81 L432.5,54.82 L435.0,54.84 L437.5,54.86 L440.0,54.88 L442.5,54.90 L445.0,54.93 L447.5,54.95 L450.0,54.98 L452.5,55.01 L455.0,55.04 L457.5,55.07 L460.0,55.10 L462.5,55.13 L465.0,55.16 L467.5,55.19 L470.0,55.22 L472.5,55.25 L475.0,55.29 L477.5,55.32 L480.0,55.35 L482.5,55.37 L485.0,55.40 L487.5,55.43 L490.0,55.45 L492.5,55.47 L495.0,55.49 L497.5,55.51 L500.0,55.53 L502.5,55.54 L505.0,55.55 L507.5,55.56 L510.0,55.57 L512.5,55.57" stroke="rgb(255,53,0)" stroke-width="1.68"/>
<path d="M297.7,144.98 L306.1,144.98 L306.1,57.86 L307.5,57.86 L308.0,57.86 L308.5,57.86 L309.0,57.86 L309.5,57.86 L310.0,57.85 L310.5,57.85 L311.0,57.84 L311.5,57.83 L312.0,57.82 L312.5,57.80 L313.0,57.79 L313.5,57.76 L314.0,57.74 L314.5,57.71 L315.0,57.69 L315.5,57.65 L316.0,57.62 L316.5,57.58 L317.0,57.54 L317.5,57.50 L318.5,57.41 L319.5,57.31 L320.5,57.21 L321.5,57.11 L322.5,57.01 L323.5,56.91 L324.5,56.80 L325.5,56.71 L326.5,56.61 L327.5,56.53 L328.5,56.44 L329.5,56.36 L330.5,56.29 L331.5,56.21 L332.5,56.15 L333.5,56.08 L334.5,56.02 L335.5,55.97 L336.5,55.91 L337.5,55.86 L338.5,55.81 L339.5,55.76 L340.5,55.71 L341.5,55.67 L342.5,55.62 L343.5,55.58 L344.5,55.54 L345.5,55.50 L346.5,55.46 L347.5,55.42 L350.0,55.32 L352.5,55.23 L355.0,55.15 L357.5,55.07 L360.0,55.00 L362.5,54.93 L365.0,54.86 L367.5,54.80 L370.0,54.74 L372.5,54.68 L375.0,54.63 L377.5,54.59 L380.0,54.54 L382.5,54.50 L385.0,54.46 L387.5,54.43 L390.0,54.40 L392.5,54.37 L395.0,54.34 L397.5,54.32 L400.0,54.30 L402.5,54.28 L405.0,54.26 L407.5,54.25 L410.0,54.24 L412.5,54.23 L415.0,54.22 L417.5,54.22 L420.0,54.22 L422.5,54.22 L425.0,54.22 L427.5,54.22 L430.0,54.23 L432.5,54.24 L435.0,54.25 L437.5,54.26 L440.0,54.27 L442.5,54.29 L445.0,54.31 L447.5,54.33 L450.0,54.35 L452.5,54.37 L455.0,54.39 L457.5,54.41 L460.0,54.44 L462.5,54.46 L465.0,54.49 L467.5,54.52 L470.0,54.54 L472.5,54.57 L475.0,54.60 L477.5,54.62 L480.0,54.65 L482.5,54.67 L485.0,54.70 L487.5,54.72 L490.0,54.74 L492.5,54.76 L495.0,54.78 L497.5,54.79 L500.0,54.81 L502.5,54.82 L505.0,54.83 L507.5,54.84 L510.0,54.84 L512.5,54.84" stroke="rgb(255,38,0)" stroke-width="1.68"/>
<path d="M297.7,144.98 L306.1,144.98 L306.1,57.88 L307.5,57.88 L308.0,57.88 L308.5,57.88 L309.0,57.88 L309.5,57.88 L310.0,57.87 L310.5,57.87 L311.0,57.86 L311.5,57.85 L312.0,57.83 L312.5,57.82 L313.0,57.80 L313.5,57.77 L314.0,57.75 L314.5,57.72 L315.0,57.68 L315.5,57.65 L316.0,57.61 L316.5,57.57 L317.0,57.52 L317.5,57.47 L318.5,57.37 L319.5,57.27 L320.5,57.15 L321.5,57.04 L322.5,56.92 L323.5,56.81 L324.5,56.69 L325.5,56.59 L326.5,56.48 L327.5,56.38 L328.5,56.29 L329.5,56.20 L330.5,56.11 L331.5,56.03 L332.5,55.96 L333.5,55.88 L334.5,55.82 L335.5,55.75 L336.5,55.69 L337.5,55.63 L338.5,55.57 L339.5,55.52 L340.5,55.47 L341.5,55.41 L342.5,55.36 L343.5,55.32 L344.5,55.27 L345.5,55.22 L346.5,55.18 L347.5,55.13 L350.0,55.02 L352.5,54.92 L355.0,54.83 L357.5,54.73 L360.0,54.65 L362.5,54.57 L365.0,54.49 L367.5,54.42 L370.0,54.35 L372.5,54.28 L375.0,54.22 L377.5,54.16 L380.0,54.11 L382.5,54.06 L385.0,54.01 L387.5,53.97 L390.0,53.93 L392.5,53.89 L395.0,53.86 L397.5,53.82 L400.0,53.79 L402.5,53.77 L405.0,53.74 L407.5,53.72 L410.0,53.70 L412.5,53.69 L415.0,53.67 L417.5,53.66 L420.0,53.65 L422.5,53.65 L425.0,53.64 L427.5,53.64 L430.0,53.64 L432.5,53.64 L435.0,53.64 L437.5,53.65 L440.0,53.66 L442.5,53.67 L445.0,53.68 L447.5,53.69 L450.0,53.71 L452.5,53.72 L455.0,53.74 L457.5,53.76 L460.0,53.78 L462.5,53.80 L465.0,53.82 L467.5,53.84 L470.0,53.86 L472.5,53.88 L475.0,53.90 L477.5,53.93 L480.0,53.95 L482.5,53.97 L485.0,53.99 L487.5,54.01 L490.0,54.03 L492.5,54.04 L495.0,54.06 L497.5,54.07 L500.0,54.09 L502.5,54.10 L505.0,54.10 L507.5,54.11 L510.0,54.11 L512.5,54.12" stroke="rgb(254,29,0)" stroke-width="1.68"/>
<path d="M297.7,144.98 L306.1,144.98 L306.1,57.90 L307.5,57.90 L308.0,57.90 L308.5,57.90 L309.0,57.90 L309.5,57.90 L310.0,57.89 L310.5,57.88 L311.0,57.87 L311.5,57.86 L312.0,57.84 L312.5,57.82 L313.0,57.79 L313.5,57.76 L314.0,57.73 L314.5,57.69 L315.0,57.65 L315.5,57.60 L316.0,57.55 L316.5,57.50 L317.0,57.44 L317.5,57.38 L318.5,57.25 L319.5,57.12 L320.5,56.98 L321.5,56.83 L322.5,56.68 L323.5,56.54 L324.5,56.40 L325.5,56.26 L326.5,56.13 L327.5,56.01 L328.5,55.89 L329.5,55.78 L330.5,55.68 L331.5,55.58 L332.5,55.49 L333.5,55.41 L334.5,55.32 L335.5,55.25 L336.5,55.17 L337.5,55.10 L338.5,55.03 L339.5,54.97 L340.5,54.91 L341.5,54.84 L342.5,54.78 L343.5,54.73 L344.5,54.67 L345.5,54.62 L346.5,54.56 L347.5,54.51 L350.0,54.38 L352.5,54.26 L355.0,54.15 L357.5,54.05 L360.0,53.94 L362.5,53.85 L365.0,53.76 L367.5,53.67 L370.0,53.59 L372.5,53.51 L375.0,53.44 L377.5,53.37 L380.0,53.31 L382.5,53.25 L385.0,53.19 L387.5,53.14 L390.0,53.09 L392.5,53.04 L395.0,53.00 L397.5,52.96 L400.0,52.92 L402.5,52.89 L405.0,52.86 L407.5,52.83 L410.0,52.80 L412.5,52.78 L415.0,52.76 L417.5,52.75 L420.0,52.73 L422.5,52.72 L425.0,52.71 L427.5,52.70 L430.0,52.70 L432.5,52.70 L435.0,52.70 L437.5,52.70 L440.0,52.71 L442.5,52.72 L445.0,52.73 L447.5,52.74 L450.0,52.75 L452.5,52.77 L455.0,52.78 L457.5,52.80 L460.0,52.82 L462.5,52.84 L465.0,52.87 L467.5,52.89 L470.0,52.91 L472.5,52.94 L475.0,52.96 L477.5,52.98 L480.0,53.01 L482.5,53.03 L485.0,53.05 L487.5,53.08 L490.0,53.10 L492.5,53.12 L495.0,53.13 L497.5,53.15 L500.0,53.16 L502.5,53.17 L505.0,53.18 L507.5,53.19 L510.0,53.19 L512.5,53.20" stroke="rgb(252,18,0)" stroke-width="1.68"/>
<path d="M297.7,144.98 L306.1,144.98 L306.1,57.92 L307.5,57.92 L308.0,57.92 L308.5,57.92 L309.0,57.92 L309.5,57.92 L310.0,57.91 L310.5,57.90 L311.0,57.89 L311.5,57.88 L312.0,57.86 L312.5,57.84 L313.0,57.81 L313.5,57.78 L314.0,57.75 L314.5,57.71 L315.0,57.67 L315.5,57.62 L316.0,57.57 L316.5,57.51 L317.0,57.46 L317.5,57.40 L318.5,57.27 L319.5,57.13 L320.5,56.98 L321.5,56.83 L322.5,56.68 L323.5,56.54 L324.5,56.39 L325.5,56.25 L326.5,56.12 L327.5,55.99 L328.5,55.86 L329.5,55.75 L330.5,55.64 L331.5,55.54 L332.5,55.44 L333.5,55.35 L334.5,55.26 L335.5,55.18 L336.5,55.10 L337.5,55.03 L338.5,54.95 L339.5,54.88 L340.5,54.81 L341.5,54.75 L342.5,54.68 L343.5,54.62 L344.5,54.56 L345.5,54.50 L346.5,54.44 L347.5,54.38 L350.0,54.24 L352.5,54.11 L355.0,53.99 L357.5,53.87 L360.0,53.76 L362.5,53.65 L365.0,53.55 L367.5,53.45 L370.0,53.36 L372.5,53.27 L375.0,53.19 L377.5,53.11 L380.0,53.03 L382.5,52.96 L385.0,52.89 L387.5,52.83 L390.0,52.77 L392.5,52.72 L395.0,52.66 L397.5,52.61 L400.0,52.57 L402.5,52.52 L405.0,52.48 L407.5,52.45 L410.0,52.41 L412.5,52.38 L415.0,52.35 L417.5,52.33 L420.0,52.30 L422.5,52.28 L425.0,52.27 L427.5,52.25 L430.0,52.24 L432.5,52.23 L435.0,52.22 L437.5,52.21 L440.0,52.21 L442.5,52.21 L445.0,52.21 L447.5,52.21 L450.0,52.21 L452.5,52.22 L455.0,52.23 L457.5,52.24 L460.0,52.25 L462.5,52.26 L465.0,52.27 L467.5,52.28 L470.0,52.30 L472.5,52.31 L475.0,52.32 L477.5,52.34 L480.0,52.35 L482.5,52.37 L485.0,52.38 L487.5,52.39 L490.0,52.41 L492.5,52.42 L495.0,52.43 L497.5,52.44 L500.0,52.45 L502.5,52.46 L505.0,52.46 L507.5,52.47 L510.0,52.47 L512.5,52.47" stroke="rgb(251,9,0)" stroke-width="1.68"/>
<path d="M297.7,144.98 L306.1,144.98 L306.1,57.94 L307.5,57.94 L308.0,57.94 L308.5,57.94 L309.0,57.94 L309.5,57.93 L310.0,57.93 L310.5,57.92 L311.0,57.91 L311.5,57.89 L312.0,57.87 L312.5,57.84 L313.0,57.81 L313.5,57.78 L314.0,57.74 L314.5,57.70 L315.0,57.65 L315.5,57.59 L316.0,57.54 L316.5,57.47 L317.0,57.41 L317.5,57.34 L318.5,57.19 L319.5,57.03 L320.5,56.87 L321.5,56.70 L322.5,56.53 L323.5,56.36 L324.5,56.20 L325.5,56.04 L326.5,55.89 L327.5,55.75 L328.5,55.61 L329.5,55.48 L330.5,55.36 L331.5,55.25 L332.5,55.14 L333.5,55.04 L334.5,54.94 L335.5,54.85 L336.5,54.76 L337.5,54.68 L338.5,54.60 L339.5,54.52 L340.5,54.45 L341.5,54.38 L342.5,54.30 L343.5,54.24 L344.5,54.17 L345.5,54.10 L346.5,54.04 L347.5,53.98 L350.0,53.83 L352.5,53.68 L355.0,53.54 L357.5,53.41 L360.0,53.29 L362.5,53.17 L365.0,53.06 L367.5,52.95 L370.0,52.85 L372.5,52.75 L375.0,52.66 L377.5,52.57 L380.0,52.49 L382.5,52.41 L385.0,52.33 L387.5,52.26 L390.0,52.19 L392.5,52.13 L395.0,52.06 L397.5,52.01 L400.0,51.95 L402.5,51.90 L405.0,51.85 L407.5,51.81 L410.0,51.77 L412.5,51.73 L415.0,51.69 L417.5,51.66 L420.0,51.63 L422.5,51.60 L425.0,51.58 L427.5,51.56 L430.0,51.54 L432.5,51.52 L435.0,51.51 L437.5,51.49 L440.0,51.49 L442.5,51.48 L445.0,51.48 L447.5,51.47 L450.0,51.47 L452.5,51.48 L455.0,51.48 L457.5,51.49 L460.0,51.49 L462.5,51.50 L465.0,51.51 L467.5,51.52 L470.0,51.53 L472.5,51.55 L475.0,51.56 L477.5,51.57 L480.0,51.59 L482.5,51.60 L485.0,51.61 L487.5,51.62 L490.0,51.64 L492.5,51.65 L495.0,51.66 L497.5,51.67 L500.0,51.68 L502.5,51.69 L505.0,51.69 L507.5,51.70 L510.0,51.70 L512.5,51.70" stroke="rgb(250,0,0)" stroke-width="1.68"/>
<path d="M297.7,144.98 L306.1,144.98 L306.1,57.96 L307.5,57.96 L308.0,57.96 L308.5,57.96 L309.0,57.96 L309.5,57.95 L310.0,57.95 L310.5,57.93 L311.0,57.92 L311.5,57.90 L312.0,57.88 L312.5,57.85 L313.0,57.81 L313.5,57.77 L314.0,57.72 L314.5,57.67 L315.0,57.62 L315.5,57.55 L316.0,57.49 L316.5,57.41 L317.0,57.34 L317.5,57.26 L318.5,57.09 L319.5,56.90 L320.5,56.71 L321.5,56.52 L322.5,56.32 L323.5,56.13 L324.5,55.94 L325.5,55.76 L326.5,55.59 L327.5,55.42 L328.5,55.27 L329.5,55.12 L330.5,54.99 L331.5,54.86 L332.5,54.74 L333.5,54.62 L334.5,54.52 L335.5,54.41 L336.5,54.32 L337.5,54.22 L338.5,54.13 L339.5,54.05 L340.5,53.96 L341.5,53.88 L342.5,53.81 L343.5,53.73 L344.5,53.65 L345.5,53.58 L346.5,53.51 L347.5,53.44 L350.0,53.27 L352.5,53.11 L355.0,52.96 L357.5,52.82 L360.0,52.68 L362.5,52.55 L365.0,52.42 L367.5,52.30 L370.0,52.19 L372.5,52.08 L375.0,51.97 L377.5,51.87 L380.0,51.78 L382.5,51.69 L385.0,51.60 L387.5,51.52 L390.0,51.44 L392.5,51.37 L395.0,51.30 L397.5,51.23 L400.0,51.17 L402.5,51.11 L405.0,51.06 L407.5,51.00 L410.0,50.95 L412.5,50.91 L415.0,50.87 L417.5,50.83 L420.0,50.79 L422.5,50.76 L425.0,50.73 L427.5,50.70 L430.0,50.68 L432.5,50.66 L435.0,50.64 L437.5,50.63 L440.0,50.61 L442.5,50.61 L445.0,50.60 L447.5,50.59 L450.0,50.59 L452.5,50.59 L455.0,50.60 L457.5,50.60 L460.0,50.61 L462.5,50.61 L465.0,50.62 L467.5,50.63 L470.0,50.65 L472.5,50.66 L475.0,50.67 L477.5,50.68 L480.0,50.70 L482.5,50.71 L485.0,50.73 L487.5,50.74 L490.0,50.75 L492.5,50.77 L495.0,50.78 L497.5,50.79 L500.0,50.80 L502.5,50.80 L505.0,50.81 L507.5,50.82 L510.0,50.82 L512.5,50.82" stroke="rgb(250,0,0)" stroke-width="1.68"/>
<path d="M297.7,144.98 L306.1,144.98 L306.1,57.98 L307.5,57.98 L308.0,57.98 L308.5,57.98 L309.0,57.98 L309.5,57.97 L310.0,57.96 L310.5,57.95 L311.0,57.93 L311.5,57.91 L312.0,57.88 L312.5,57.85 L313.0,57.81 L313.5,57.76 L314.0,57.71 L314.5,57.65 L315.0,57.58 L315.5,57.51 L316.0,57.43 L316.5,57.35 L317.0,57.26 L317.5,57.16 L318.5,56.97 L319.5,56.75 L320.5,56.54 L321.5,56.31 L322.5,56.09 L323.5,55.87 L324.5,55.65 L325.5,55.45 L326.5,55.25 L327.5,55.07 L328.5,54.89 L329.5,54.73 L330.5,54.57 L331.5,54.43 L332.5,54.29 L333.5,54.16 L334.5,54.04 L335.5,53.93 L336.5,53.82 L337.5,53.72 L338.5,53.62 L339.5,53.52 L340.5,53.43 L341.5,53.34 L342.5,53.25 L343.5,53.17 L344.5,53.09 L345.5,53.01 L346.5,52.93 L347.5,52.85 L350.0,52.66 L352.5,52.49 L355.0,52.32 L357.5,52.16 L360.0,52.00 L362.5,51.85 L365.0,51.71 L367.5,51.58 L370.0,51.45 L372.5,51.33 L375.0,51.21 L377.5,51.10 L380.0,50.99 L382.5,50.88 L385.0,50.79 L387.5,50.69 L390.0,50.60 L392.5,50.52 L395.0,50.44 L397.5,50.36 L400.0,50.29 L402.5,50.22 L405.0,50.16 L407.5,50.10 L410.0,50.04 L412.5,49.99 L415.0,49.94 L417.5,49.89 L420.0,49.85 L422.5,49.81 L425.0,49.78 L427.5,49.74 L430.0,49.72 L432.5,49.69 L435.0,49.67 L437.5,49.65 L440.0,49.63 L442.5,49.62 L445.0,49.61 L447.5,49.61 L450.0,49.60 L452.5,49.60 L455.0,49.60 L457.5,49.61 L460.0,49.61 L462.5,49.62 L465.0,49.63 L467.5,49.64 L470.0,49.65 L472.5,49.66 L475.0,49.67 L477.5,49.69 L480.0,49.70 L482.5,49.72 L485.0,49.73 L487.5,49.75 L490.0,49.76 L492.5,49.77 L495.0,49.78 L497.5,49.80 L500.0,49.81 L502.5,49.81 L505.0,49.82 L507.5,49.83 L510.0,49.83 L512.5,49.83" stroke="rgb(249,0,0)" stroke-width="1.68"/>
<path d="M297.7,144.98 L306.1,144.98 L306.1,58.00 L307.5,58.00 L308.0,58.00 L308.5,58.00 L309.0,58.00 L309.5,57.99 L310.0,57.98 L310.5,57.96 L311.0,57.94 L311.5,57.91 L312.0,57.88 L312.5,57.84 L313.0,57.79 L313.5,57.73 L314.0,57.67 L314.5,57.60 L315.0,57.52 L315.5,57.43 L316.0,57.34 L316.5,57.24 L317.0,57.13 L317.5,57.02 L318.5,56.79 L319.5,56.54 L320.5,56.28 L321.5,56.02 L322.5,55.76 L323.5,55.50 L324.5,55.25 L325.5,55.01 L326.5,54.79 L327.5,54.57 L328.5,54.37 L329.5,54.18 L330.5,54.01 L331.5,53.84 L332.5,53.69 L333.5,53.54 L334.5,53.41 L335.5,53.28 L336.5,53.16 L337.5,53.04 L338.5,52.93 L339.5,52.82 L340.5,52.72 L341.5,52.62 L342.5,52.52 L343.5,52.42 L344.5,52.33 L345.5,52.24 L346.5,52.15 L347.5,52.06 L350.0,51.85 L352.5,51.65 L355.0,51.46 L357.5,51.28 L360.0,51.10 L362.5,50.94 L365.0,50.77 L367.5,50.62 L370.0,50.47 L372.5,50.33 L375.0,50.20 L377.5,50.07 L380.0,49.94 L382.5,49.83 L385.0,49.71 L387.5,49.60 L390.0,49.50 L392.5,49.40 L395.0,49.31 L397.5,49.22 L400.0,49.14 L402.5,49.06 L405.0,48.98 L407.5,48.91 L410.0,48.85 L412.5,48.79 L415.0,48.73 L417.5,48.68 L420.0,48.63 L422.5,48.58 L425.0,48.54 L427.5,48.50 L430.0,48.47 L432.5,48.44 L435.0,48.42 L437.5,48.40 L440.0,48.38 L442.5,48.36 L445.0,48.35 L447.5,48.35 L450.0,48.34 L452.5,48.34 L455.0,48.34 L457.5,48.35 L460.0,48.35 L462.5,48.36 L465.0,48.37 L467.5,48.39 L470.0,48.40 L472.5,48.42 L475.0,48.43 L477.5,48.45 L480.0,48.47 L482.5,48.48 L485.0,48.50 L487.5,48.52 L490.0,48.53 L492.5,48.55 L495.0,48.57 L497.5,48.58 L500.0,48.59 L502.5,48.60 L505.0,48.61 L507.5,48.61 L510.0,48.62 L512.5,48.62" stroke="rgb(249,0,0)" stroke-width="1.68"/>
<path d="M297.7,144.98 L306.1,144.98 L306.1,58.02 L307.5,58.02 L308.0,58.02 L308.5,58.02 L309.0,58.01 L309.5,58.01 L310.0,57.99 L310.5,57.97 L311.0,57.95 L311.5,57.91 L312.0,57.87 L312.5,57.82 L313.0,57.76 L313.5,57.69 L314.0,57.61 L314.5,57.53 L315.0,57.43 L315.5,57.32 L316.0,57.21 L316.5,57.09 L317.0,56.96 L317.5,56.83 L318.5,56.55 L319.5,56.25 L320.5,55.94 L321.5,55.63 L322.5,55.32 L323.5,55.02 L324.5,54.73 L325.5,54.45 L326.5,54.19 L327.5,53.94 L328.5,53.70 L329.5,53.49 L330.5,53.28 L331.5,53.09 L332.5,52.92 L333.5,52.75 L334.5,52.60 L335.5,52.45 L336.5,52.31 L337.5,52.18 L338.5,52.05 L339.5,51.92 L340.5,51.81 L341.5,51.69 L342.5,51.58 L343.5,51.47 L344.5,51.36 L345.5,51.26 L346.5,51.15 L347.5,51.05 L350.0,50.81 L352.5,50.58 L355.0,50.36 L357.5,50.14 L360.0,49.94 L362.5,49.74 L365.0,49.56 L367.5,49.38 L370.0,49.20 L372.5,49.04 L375.0,48.88 L377.5,48.72 L380.0,48.58 L382.5,48.44 L385.0,48.31 L387.5,48.18 L390.0,48.06 L392.5,47.94 L395.0,47.83 L397.5,47.73 L400.0,47.63 L402.5,47.54 L405.0,47.45 L407.5,47.36 L410.0,47.29 L412.5,47.21 L415.0,47.15 L417.5,47.09 L420.0,47.03 L422.5,46.98 L425.0,46.93 L427.5,46.89 L430.0,46.85 L432.5,46.82 L435.0,46.79 L437.5,46.76 L440.0,46.74 L442.5,46.73 L445.0,46.72 L447.5,46.71 L450.0,46.71 L452.5,46.71 L455.0,46.71 L457.5,46.72 L460.0,46.73 L462.5,46.75 L465.0,46.76 L467.5,46.78 L470.0,46.80 L472.5,46.82 L475.0,46.84 L477.5,46.86 L480.0,46.88 L482.5,46.91 L485.0,46.93 L487.5,46.95 L490.0,46.97 L492.5,46.99 L495.0,47.01 L497.5,47.03 L500.0,47.04 L502.5,47.06 L505.0,47.07 L507.5,47.07 L510.0,47.08 L512.5,47.08" stroke="rgb(224,12,16)" stroke-width="1.75"/>
<path d="M297.7,144.98 L306.1,144.98 L306.1,58.04 L307.5,58.04 L308.0,58.04 L308.5,58.04 L309.0,58.03 L309.5,58.02 L310.0,58.00 L310.5,57.98 L311.0,57.94 L311.5,57.89 L312.0,57.84 L312.5,57.77 L313.0,57.69 L313.5,57.59 L314.0,57.49 L314.5,57.37 L315.0,57.24 L315.5,57.10 L316.0,56.95 L316.5,56.80 L317.0,56.63 L317.5,56.46 L318.5,56.09 L319.5,55.70 L320.5,55.31 L321.5,54.91 L322.5,54.52 L323.5,54.14 L324.5,53.77 L325.5,53.42 L326.5,53.09 L327.5,52.78 L328.5,52.49 L329.5,52.22 L330.5,51.97 L331.5,51.74 L332.5,51.52 L333.5,51.32 L334.5,51.13 L335.5,50.94 L336.5,50.77 L337.5,50.61 L338.5,50.45 L339.5,50.30 L340.5,50.15 L341.5,50.01 L342.5,49.87 L343.5,49.73 L344.5,49.60 L345.5,49.47 L346.5,49.34 L347.5,49.21 L350.0,48.91 L352.5,48.62 L355.0,48.34 L357.5,48.07 L360.0,47.81 L362.5,47.56 L365.0,47.33 L367.5,47.10 L370.0,46.88 L372.5,46.67 L375.0,46.48 L377.5,46.28 L380.0,46.10 L382.5,45.93 L385.0,45.76 L387.5,45.61 L390.0,45.46 L392.5,45.31 L395.0,45.18 L397.5,45.05 L400.0,44.93 L402.5,44.82 L405.0,44.71 L407.5,44.61 L410.0,44.52 L412.5,44.44 L415.0,44.36 L417.5,44.29 L420.0,44.22 L422.5,44.17 L425.0,44.12 L427.5,44.07 L430.0,44.03 L432.5,44.00 L435.0,43.98 L437.5,43.96 L440.0,43.94 L442.5,43.94 L445.0,43.93 L447.5,43.94 L450.0,43.95 L452.5,43.96 L455.0,43.98 L457.5,44.00 L460.0,44.03 L462.5,44.06 L465.0,44.09 L467.5,44.13 L470.0,44.16 L472.5,44.20 L475.0,44.24 L477.5,44.28 L480.0,44.32 L482.5,44.36 L485.0,44.40 L487.5,44.44 L490.0,44.48 L492.5,44.51 L495.0,44.54 L497.5,44.57 L500.0,44.60 L502.5,44.62 L505.0,44.64 L507.5,44.65 L510.0,44.66 L512.5,44.66" stroke="rgb(224,12,16)" stroke-width="1.75"/>
<path d="M297.7,144.98 L306.1,144.98 L306.1,58.06 L307.5,58.06 L308.0,58.06 L308.5,58.06 L309.0,58.05 L309.5,58.03 L310.0,58.00 L310.5,57.97 L311.0,57.91 L311.5,57.85 L312.0,57.77 L312.5,57.67 L313.0,57.56 L313.5,57.43 L314.0,57.28 L314.5,57.12 L315.0,56.95 L315.5,56.76 L316.0,56.56 L316.5,56.34 L317.0,56.12 L317.5,55.89 L318.5,55.40 L319.5,54.89 L320.5,54.37 L321.5,53.85 L322.5,53.33 L323.5,52.83 L324.5,52.35 L325.5,51.89 L326.5,51.45 L327.5,51.04 L328.5,50.66 L329.5,50.30 L330.5,49.97 L331.5,49.66 L332.5,49.37 L333.5,49.10 L334.5,48.84 L335.5,48.59 L336.5,48.36 L337.5,48.14 L338.5,47.92 L339.5,47.72 L340.5,47.52 L341.5,47.32 L342.5,47.13 L343.5,46.94 L344.5,46.76 L345.5,46.58 L346.5,46.40 L347.5,46.23 L350.0,45.81 L352.5,45.41 L355.0,45.02 L357.5,44.65 L360.0,44.30 L362.5,43.96 L365.0,43.63 L367.5,43.32 L370.0,43.02 L372.5,42.74 L375.0,42.47 L377.5,42.21 L380.0,41.96 L382.5,41.73 L385.0,41.51 L387.5,41.30 L390.0,41.10 L392.5,40.91 L395.0,40.74 L397.5,40.57 L400.0,40.42 L402.5,40.27 L405.0,40.14 L407.5,40.01 L410.0,39.90 L412.5,39.80 L415.0,39.70 L417.5,39.62 L420.0,39.55 L422.5,39.48 L425.0,39.43 L427.5,39.38 L430.0,39.34 L432.5,39.32 L435.0,39.30 L437.5,39.29 L440.0,39.29 L442.5,39.30 L445.0,39.32 L447.5,39.34 L450.0,39.37 L452.5,39.41 L455.0,39.46 L457.5,39.51 L460.0,39.56 L462.5,39.62 L465.0,39.69 L467.5,39.75 L470.0,39.82 L472.5,39.90 L475.0,39.97 L477.5,40.04 L480.0,40.11 L482.5,40.19 L485.0,40.25 L487.5,40.32 L490.0,40.39 L492.5,40.45 L495.0,40.50 L497.5,40.55 L500.0,40.59 L502.5,40.63 L505.0,40.66 L507.5,40.68 L510.0,40.70 L512.5,40.70" stroke="rgb(224,12,16)" stroke-width="1.75"/>
<path d="M297.7,144.98 L306.1,144.98 L306.1,58.08 L307.5,57.60 L309.8,57.43 L312.1,57.13 L314.4,56.73 L316.7,56.11 L319.0,55.39 L321.3,54.69 L323.6,53.96 L325.9,53.20 L328.2,52.42 L330.5,51.61 L332.8,50.80 L335.2,49.99 L337.5,49.18 L339.8,48.38 L342.1,47.60 L344.4,46.82 L346.7,46.04 L349.0,45.26 L351.3,44.48 L353.6,43.70 L355.9,42.91 L358.2,42.12 L360.5,41.33 L362.8,40.54 L365.1,39.75 L367.4,38.96 L369.7,38.14 L372.0,37.29 L374.3,36.40 L376.6,35.48 L378.9,34.53 L381.2,33.56 L383.5,32.58 L385.9,31.59 L388.2,30.58 L390.5,29.54 L392.8,28.48 L395.1,27.42 L397.4,26.36 L399.7,25.32 L402.0,24.30 L404.3,23.26 L406.6,22.21 L408.9,21.20 L411.2,20.25 L413.5,19.40 L415.8,18.63 L418.1,17.90 L420.4,17.26 L422.7,16.78 L425.0,16.42 L427.3,16.15 L429.6,16.12 L431.9,16.33 L434.2,16.63 L436.6,17.08 L438.9,17.66 L441.2,18.23 L443.5,18.82 L445.8,19.43 L448.1,20.05 L450.4,20.68 L452.7,21.31 L455.0,21.94 L457.3,22.56 L459.6,23.21 L461.9,23.87 L464.2,24.52 L466.5,25.15 L468.8,25.74 L471.1,26.26 L473.4,26.74 L475.7,27.21 L478.0,27.65 L480.3,28.06 L482.6,28.43 L484.9,28.76 L487.3,29.03 L489.6,29.27 L491.9,29.49 L494.2,29.70 L496.5,29.88 L498.8,30.03 L501.1,30.14 L503.4,30.22 L505.7,30.29 L508.0,30.35 L510.3,30.39 L512.6,30.40" stroke="rgb(224,12,16)" stroke-width="1.75"/>
<path d="M307.40,146.30 L307.40,58.00 L330.00,57.60 L360.00,56.60 L400.00,54.00 L415.00,52.20 L423.00,50.20 L430.00,48.40 L434.70,46.50 L437.00,43.50 L437.50,39.70 L434.50,30.00 L429.50,16.10" stroke="#000" stroke-width="2.2"/>
</g>
<rect x="297.60" y="11.00" width="215.00" height="135.30" fill="none" stroke="#1a1a1a" stroke-width="1.15"/>
<line x1="297.25" y1="146.30" x2="297.25" y2="148.20" stroke="#1a1a1a" stroke-width="1.15" />
<line x1="297.25" y1="11.00" x2="297.25" y2="9.10" stroke="#1a1a1a" stroke-width="1.15" />
<line x1="307.50" y1="146.30" x2="307.50" y2="149.70" stroke="#1a1a1a" stroke-width="1.15" />
<line x1="307.50" y1="11.00" x2="307.50" y2="7.60" stroke="#1a1a1a" stroke-width="1.15" />
<text x="307.50" y="159.30" font-size="9.0" text-anchor="middle" fill="#111" >0</text>
<line x1="317.75" y1="146.30" x2="317.75" y2="148.20" stroke="#1a1a1a" stroke-width="1.15" />
<line x1="317.75" y1="11.00" x2="317.75" y2="9.10" stroke="#1a1a1a" stroke-width="1.15" />
<line x1="328.01" y1="146.30" x2="328.01" y2="149.70" stroke="#1a1a1a" stroke-width="1.15" />
<line x1="328.01" y1="11.00" x2="328.01" y2="7.60" stroke="#1a1a1a" stroke-width="1.15" />
<text x="328.01" y="159.30" font-size="9.0" text-anchor="middle" fill="#111" >50</text>
<line x1="338.26" y1="146.30" x2="338.26" y2="148.20" stroke="#1a1a1a" stroke-width="1.15" />
<line x1="338.26" y1="11.00" x2="338.26" y2="9.10" stroke="#1a1a1a" stroke-width="1.15" />
<line x1="348.52" y1="146.30" x2="348.52" y2="149.70" stroke="#1a1a1a" stroke-width="1.15" />
<line x1="348.52" y1="11.00" x2="348.52" y2="7.60" stroke="#1a1a1a" stroke-width="1.15" />
<text x="348.52" y="159.30" font-size="9.0" text-anchor="middle" fill="#111" >100</text>
<line x1="358.77" y1="146.30" x2="358.77" y2="148.20" stroke="#1a1a1a" stroke-width="1.15" />
<line x1="358.77" y1="11.00" x2="358.77" y2="9.10" stroke="#1a1a1a" stroke-width="1.15" />
<line x1="369.03" y1="146.30" x2="369.03" y2="149.70" stroke="#1a1a1a" stroke-width="1.15" />
<line x1="369.03" y1="11.00" x2="369.03" y2="7.60" stroke="#1a1a1a" stroke-width="1.15" />
<text x="369.03" y="159.30" font-size="9.0" text-anchor="middle" fill="#111" >150</text>
<line x1="379.28" y1="146.30" x2="379.28" y2="148.20" stroke="#1a1a1a" stroke-width="1.15" />
<line x1="379.28" y1="11.00" x2="379.28" y2="9.10" stroke="#1a1a1a" stroke-width="1.15" />
<line x1="389.54" y1="146.30" x2="389.54" y2="149.70" stroke="#1a1a1a" stroke-width="1.15" />
<line x1="389.54" y1="11.00" x2="389.54" y2="7.60" stroke="#1a1a1a" stroke-width="1.15" />
<text x="389.54" y="159.30" font-size="9.0" text-anchor="middle" fill="#111" >200</text>
<line x1="399.80" y1="146.30" x2="399.80" y2="148.20" stroke="#1a1a1a" stroke-width="1.15" />
<line x1="399.80" y1="11.00" x2="399.80" y2="9.10" stroke="#1a1a1a" stroke-width="1.15" />
<line x1="410.05" y1="146.30" x2="410.05" y2="149.70" stroke="#1a1a1a" stroke-width="1.15" />
<line x1="410.05" y1="11.00" x2="410.05" y2="7.60" stroke="#1a1a1a" stroke-width="1.15" />
<text x="410.05" y="159.30" font-size="9.0" text-anchor="middle" fill="#111" >250</text>
<line x1="420.31" y1="146.30" x2="420.31" y2="148.20" stroke="#1a1a1a" stroke-width="1.15" />
<line x1="420.31" y1="11.00" x2="420.31" y2="9.10" stroke="#1a1a1a" stroke-width="1.15" />
<line x1="430.56" y1="146.30" x2="430.56" y2="149.70" stroke="#1a1a1a" stroke-width="1.15" />
<line x1="430.56" y1="11.00" x2="430.56" y2="7.60" stroke="#1a1a1a" stroke-width="1.15" />
<text x="430.56" y="159.30" font-size="9.0" text-anchor="middle" fill="#111" >300</text>
<line x1="440.81" y1="146.30" x2="440.81" y2="148.20" stroke="#1a1a1a" stroke-width="1.15" />
<line x1="440.81" y1="11.00" x2="440.81" y2="9.10" stroke="#1a1a1a" stroke-width="1.15" />
<line x1="451.07" y1="146.30" x2="451.07" y2="149.70" stroke="#1a1a1a" stroke-width="1.15" />
<line x1="451.07" y1="11.00" x2="451.07" y2="7.60" stroke="#1a1a1a" stroke-width="1.15" />
<text x="451.07" y="159.30" font-size="9.0" text-anchor="middle" fill="#111" >350</text>
<line x1="461.33" y1="146.30" x2="461.33" y2="148.20" stroke="#1a1a1a" stroke-width="1.15" />
<line x1="461.33" y1="11.00" x2="461.33" y2="9.10" stroke="#1a1a1a" stroke-width="1.15" />
<line x1="471.58" y1="146.30" x2="471.58" y2="149.70" stroke="#1a1a1a" stroke-width="1.15" />
<line x1="471.58" y1="11.00" x2="471.58" y2="7.60" stroke="#1a1a1a" stroke-width="1.15" />
<text x="471.58" y="159.30" font-size="9.0" text-anchor="middle" fill="#111" >400</text>
<line x1="481.84" y1="146.30" x2="481.84" y2="148.20" stroke="#1a1a1a" stroke-width="1.15" />
<line x1="481.84" y1="11.00" x2="481.84" y2="9.10" stroke="#1a1a1a" stroke-width="1.15" />
<line x1="492.09" y1="146.30" x2="492.09" y2="149.70" stroke="#1a1a1a" stroke-width="1.15" />
<line x1="492.09" y1="11.00" x2="492.09" y2="7.60" stroke="#1a1a1a" stroke-width="1.15" />
<text x="492.09" y="159.30" font-size="9.0" text-anchor="middle" fill="#111" >450</text>
<line x1="502.35" y1="146.30" x2="502.35" y2="148.20" stroke="#1a1a1a" stroke-width="1.15" />
<line x1="502.35" y1="11.00" x2="502.35" y2="9.10" stroke="#1a1a1a" stroke-width="1.15" />
<line x1="512.60" y1="146.30" x2="512.60" y2="149.70" stroke="#1a1a1a" stroke-width="1.15" />
<line x1="512.60" y1="11.00" x2="512.60" y2="7.60" stroke="#1a1a1a" stroke-width="1.15" />
<text x="512.60" y="159.30" font-size="9.0" text-anchor="middle" fill="#111" >500</text>
<line x1="297.60" y1="143.00" x2="294.20" y2="143.00" stroke="#1a1a1a" stroke-width="1.15" />
<line x1="512.60" y1="143.00" x2="516.00" y2="143.00" stroke="#1a1a1a" stroke-width="1.15" />
<text x="291.40" y="146.20" font-size="9.0" text-anchor="end" fill="#111" >300</text>
<line x1="297.60" y1="132.00" x2="295.70" y2="132.00" stroke="#1a1a1a" stroke-width="1.15" />
<line x1="512.60" y1="132.00" x2="514.50" y2="132.00" stroke="#1a1a1a" stroke-width="1.15" />
<line x1="297.60" y1="121.00" x2="294.20" y2="121.00" stroke="#1a1a1a" stroke-width="1.15" />
<line x1="512.60" y1="121.00" x2="516.00" y2="121.00" stroke="#1a1a1a" stroke-width="1.15" />
<text x="291.40" y="124.20" font-size="9.0" text-anchor="end" fill="#111" >400</text>
<line x1="297.60" y1="110.00" x2="295.70" y2="110.00" stroke="#1a1a1a" stroke-width="1.15" />
<line x1="512.60" y1="110.00" x2="514.50" y2="110.00" stroke="#1a1a1a" stroke-width="1.15" />
<line x1="297.60" y1="99.00" x2="294.20" y2="99.00" stroke="#1a1a1a" stroke-width="1.15" />
<line x1="512.60" y1="99.00" x2="516.00" y2="99.00" stroke="#1a1a1a" stroke-width="1.15" />
<text x="291.40" y="102.20" font-size="9.0" text-anchor="end" fill="#111" >500</text>
<line x1="297.60" y1="88.00" x2="295.70" y2="88.00" stroke="#1a1a1a" stroke-width="1.15" />
<line x1="512.60" y1="88.00" x2="514.50" y2="88.00" stroke="#1a1a1a" stroke-width="1.15" />
<line x1="297.60" y1="77.00" x2="294.20" y2="77.00" stroke="#1a1a1a" stroke-width="1.15" />
<line x1="512.60" y1="77.00" x2="516.00" y2="77.00" stroke="#1a1a1a" stroke-width="1.15" />
<text x="291.40" y="80.20" font-size="9.0" text-anchor="end" fill="#111" >600</text>
<line x1="297.60" y1="66.00" x2="295.70" y2="66.00" stroke="#1a1a1a" stroke-width="1.15" />
<line x1="512.60" y1="66.00" x2="514.50" y2="66.00" stroke="#1a1a1a" stroke-width="1.15" />
<line x1="297.60" y1="55.00" x2="294.20" y2="55.00" stroke="#1a1a1a" stroke-width="1.15" />
<line x1="512.60" y1="55.00" x2="516.00" y2="55.00" stroke="#1a1a1a" stroke-width="1.15" />
<text x="291.40" y="58.20" font-size="9.0" text-anchor="end" fill="#111" >700</text>
<line x1="297.60" y1="44.00" x2="295.70" y2="44.00" stroke="#1a1a1a" stroke-width="1.15" />
<line x1="512.60" y1="44.00" x2="514.50" y2="44.00" stroke="#1a1a1a" stroke-width="1.15" />
<line x1="297.60" y1="33.00" x2="294.20" y2="33.00" stroke="#1a1a1a" stroke-width="1.15" />
<line x1="512.60" y1="33.00" x2="516.00" y2="33.00" stroke="#1a1a1a" stroke-width="1.15" />
<text x="291.40" y="36.20" font-size="9.0" text-anchor="end" fill="#111" >800</text>
<line x1="297.60" y1="22.00" x2="295.70" y2="22.00" stroke="#1a1a1a" stroke-width="1.15" />
<line x1="512.60" y1="22.00" x2="514.50" y2="22.00" stroke="#1a1a1a" stroke-width="1.15" />
<line x1="297.60" y1="11.00" x2="294.20" y2="11.00" stroke="#1a1a1a" stroke-width="1.15" />
<line x1="512.60" y1="11.00" x2="516.00" y2="11.00" stroke="#1a1a1a" stroke-width="1.15" />
<text x="291.40" y="14.20" font-size="9.0" text-anchor="end" fill="#111" >900</text>
<text x="404.80" y="170.20" font-size="10.75" text-anchor="middle" fill="#111" >Y Position [μm]</text>
<text x="272.40" y="78.50" font-size="11.05" text-anchor="middle" fill="#111" transform="rotate(-90 272.40 78.50)" >Temperature [K]</text>
<text x="259.10" y="9.40" font-size="12.3" text-anchor="start" fill="#111" >b)</text>
<text x="352.00" y="25.70" font-size="11.0" text-anchor="start" fill="#111" >8.9 ms</text>
</g>
<g id="panel-c">
<clipPath id="cc"><rect x="297.6" y="178.0" width="215.10000000000002" height="135.7"/></clipPath>
<polyline points="297.60,311.74 309.55,207.46 311.91,209.99 314.27,212.06 316.63,212.77 318.99,213.04 321.35,213.16 323.71,213.87 326.07,215.04 328.43,216.18 330.79,216.75 333.15,217.17 335.51,217.58 337.87,217.99 340.23,218.37 342.59,218.73 344.95,219.06 347.31,219.36 349.67,219.64 352.03,219.89 354.39,220.14 356.74,220.38 359.10,220.62 361.46,220.86 363.82,221.09 366.18,221.31 368.54,221.49 370.90,221.64 373.26,221.78 375.62,221.90 377.98,222.02 380.34,222.13 382.70,222.23 385.06,222.33 387.42,222.42 389.78,222.51 392.14,222.60 394.50,222.69 396.86,222.77 399.22,222.85 401.58,222.93 403.94,223.00 406.30,223.08 408.66,223.15 411.02,223.22 413.38,223.29 415.74,223.37 418.10,223.44 420.46,223.52 422.82,223.60 425.18,223.67 427.54,223.75 429.90,223.83 432.26,223.91 434.62,223.98 436.98,224.06 439.34,224.13 441.70,224.20 444.06,224.27 446.42,224.34 448.78,224.41 451.13,224.48 453.49,224.55 455.85,224.61 458.21,224.68 460.57,224.74 462.93,224.80 465.29,224.85 467.65,224.90 470.01,224.95 472.37,225.01 474.73,225.06 477.09,225.11 479.45,225.15 481.81,225.19 484.17,225.23 486.53,225.26 488.89,225.28 491.25,225.30 493.61,225.32 495.97,225.33 496.45,225.34 496.80,225.34 497.16,225.34 497.51,225.34 497.87,225.35 498.23,225.35 498.58,225.35 498.94,225.35 499.29,225.35 499.65,225.36 500.00,225.36 500.36,225.36 500.71,225.36 501.07,225.36 501.42,225.37 501.78,225.37 502.13,225.37 502.49,225.37 502.85,225.37 503.20,225.37 503.56,225.38 503.91,225.38 504.27,225.38 504.62,225.38 504.98,225.38 505.33,225.38 505.69,225.38 506.04,225.38 506.40,225.39 506.76,225.39 507.11,225.39 507.47,225.39 507.82,225.39 508.18,225.39 508.53,225.39 508.89,225.39 509.24,225.39 509.60,225.39 509.95,225.39 510.31,225.39" fill="none" stroke="#505050" stroke-width="2.4" stroke-linejoin="round" clip-path="url(#cc)"/>
<polyline points="297.60,311.74 309.55,207.46 311.91,209.99 314.27,212.06 316.63,212.77 318.99,213.04 321.35,213.16 323.71,213.87 326.07,215.04 328.43,216.18 330.79,216.75 333.15,217.17 335.51,217.58 337.87,217.99 340.23,218.37 342.59,218.73 344.95,219.06 347.31,219.36 349.67,219.64 352.03,219.89 354.39,220.14 356.74,220.38 359.10,220.62 361.46,220.86 363.82,221.09 366.18,221.31 368.54,221.49 370.90,221.64 373.26,221.78 375.62,221.90 377.98,222.02 380.34,222.13 382.70,222.23 385.06,222.33 387.42,222.42 389.78,222.51 392.14,222.60 394.50,222.69 396.86,222.77 399.22,222.85 401.58,222.93 403.94,223.00 406.30,223.08 408.66,223.15 411.02,223.22 413.38,223.29 415.74,223.37 418.10,223.44 420.46,223.52 422.82,223.60 425.18,223.68 427.54,223.75 429.90,223.83 432.26,223.91 434.62,223.98 436.98,224.06 439.34,224.13 441.70,224.20 444.06,224.28 446.42,224.37 448.78,224.45 451.13,224.50 453.49,224.51 455.85,224.49 458.21,224.46 460.57,224.41 462.93,224.35 465.29,224.28 467.65,224.13 470.01,223.91 472.37,223.64 474.73,223.34 477.09,223.05 479.45,222.76 481.81,222.44 484.17,222.08 486.53,221.69 488.89,221.25 491.25,220.77 493.61,220.20 495.97,219.52 496.45,219.37 496.80,219.25 497.15,219.13 497.51,219.00 497.86,218.87 498.21,218.73 498.56,218.59 498.91,218.44 499.27,218.28 499.62,218.11 499.97,217.94 500.32,217.75 500.68,217.56 501.03,217.35 501.38,217.14 501.73,216.91 502.09,216.67 502.44,216.42 502.79,216.16 503.14,215.89 503.50,215.59 503.85,215.26 504.20,214.91 504.55,214.52 504.90,214.08 505.26,213.61 505.61,213.08 505.96,212.49 506.31,211.85 506.67,211.09 507.02,210.02 507.37,208.67 507.72,207.11 508.08,205.41 508.43,203.66 508.78,201.96 509.13,200.00 509.49,197.29 509.84,192.24 510.19,183.48" fill="none" stroke="#e6242f" stroke-width="2.5" stroke-linejoin="round" stroke-linecap="round" clip-path="url(#cc)"/>
<rect x="297.60" y="178.00" width="215.10" height="135.70" fill="none" stroke="#1a1a1a" stroke-width="1.15"/>
<line x1="297.60" y1="313.70" x2="297.60" y2="317.10" stroke="#1a1a1a" stroke-width="1.15" />
<line x1="297.60" y1="178.00" x2="297.60" y2="174.60" stroke="#1a1a1a" stroke-width="1.15" />
<text x="297.60" y="327.10" font-size="9.2" text-anchor="middle" fill="#111" >0</text>
<line x1="309.55" y1="313.70" x2="309.55" y2="315.60" stroke="#1a1a1a" stroke-width="1.15" />
<line x1="309.55" y1="178.00" x2="309.55" y2="176.10" stroke="#1a1a1a" stroke-width="1.15" />
<line x1="321.50" y1="313.70" x2="321.50" y2="317.10" stroke="#1a1a1a" stroke-width="1.15" />
<line x1="321.50" y1="178.00" x2="321.50" y2="174.60" stroke="#1a1a1a" stroke-width="1.15" />
<text x="321.50" y="327.10" font-size="9.2" text-anchor="middle" fill="#111" >1</text>
<line x1="333.45" y1="313.70" x2="333.45" y2="315.60" stroke="#1a1a1a" stroke-width="1.15" />
<line x1="333.45" y1="178.00" x2="333.45" y2="176.10" stroke="#1a1a1a" stroke-width="1.15" />
<line x1="345.40" y1="313.70" x2="345.40" y2="317.10" stroke="#1a1a1a" stroke-width="1.15" />
<line x1="345.40" y1="178.00" x2="345.40" y2="174.60" stroke="#1a1a1a" stroke-width="1.15" />
<text x="345.40" y="327.10" font-size="9.2" text-anchor="middle" fill="#111" >2</text>
<line x1="357.35" y1="313.70" x2="357.35" y2="315.60" stroke="#1a1a1a" stroke-width="1.15" />
<line x1="357.35" y1="178.00" x2="357.35" y2="176.10" stroke="#1a1a1a" stroke-width="1.15" />
<line x1="369.30" y1="313.70" x2="369.30" y2="317.10" stroke="#1a1a1a" stroke-width="1.15" />
<line x1="369.30" y1="178.00" x2="369.30" y2="174.60" stroke="#1a1a1a" stroke-width="1.15" />
<text x="369.30" y="327.10" font-size="9.2" text-anchor="middle" fill="#111" >3</text>
<line x1="381.25" y1="313.70" x2="381.25" y2="315.60" stroke="#1a1a1a" stroke-width="1.15" />
<line x1="381.25" y1="178.00" x2="381.25" y2="176.10" stroke="#1a1a1a" stroke-width="1.15" />
<line x1="393.20" y1="313.70" x2="393.20" y2="317.10" stroke="#1a1a1a" stroke-width="1.15" />
<line x1="393.20" y1="178.00" x2="393.20" y2="174.60" stroke="#1a1a1a" stroke-width="1.15" />
<text x="393.20" y="327.10" font-size="9.2" text-anchor="middle" fill="#111" >4</text>
<line x1="405.15" y1="313.70" x2="405.15" y2="315.60" stroke="#1a1a1a" stroke-width="1.15" />
<line x1="405.15" y1="178.00" x2="405.15" y2="176.10" stroke="#1a1a1a" stroke-width="1.15" />
<line x1="417.10" y1="313.70" x2="417.10" y2="317.10" stroke="#1a1a1a" stroke-width="1.15" />
<line x1="417.10" y1="178.00" x2="417.10" y2="174.60" stroke="#1a1a1a" stroke-width="1.15" />
<text x="417.10" y="327.10" font-size="9.2" text-anchor="middle" fill="#111" >5</text>
<line x1="429.05" y1="313.70" x2="429.05" y2="315.60" stroke="#1a1a1a" stroke-width="1.15" />
<line x1="429.05" y1="178.00" x2="429.05" y2="176.10" stroke="#1a1a1a" stroke-width="1.15" />
<line x1="441.00" y1="313.70" x2="441.00" y2="317.10" stroke="#1a1a1a" stroke-width="1.15" />
<line x1="441.00" y1="178.00" x2="441.00" y2="174.60" stroke="#1a1a1a" stroke-width="1.15" />
<text x="441.00" y="327.10" font-size="9.2" text-anchor="middle" fill="#111" >6</text>
<line x1="452.95" y1="313.70" x2="452.95" y2="315.60" stroke="#1a1a1a" stroke-width="1.15" />
<line x1="452.95" y1="178.00" x2="452.95" y2="176.10" stroke="#1a1a1a" stroke-width="1.15" />
<line x1="464.90" y1="313.70" x2="464.90" y2="317.10" stroke="#1a1a1a" stroke-width="1.15" />
<line x1="464.90" y1="178.00" x2="464.90" y2="174.60" stroke="#1a1a1a" stroke-width="1.15" />
<text x="464.90" y="327.10" font-size="9.2" text-anchor="middle" fill="#111" >7</text>
<line x1="476.85" y1="313.70" x2="476.85" y2="315.60" stroke="#1a1a1a" stroke-width="1.15" />
<line x1="476.85" y1="178.00" x2="476.85" y2="176.10" stroke="#1a1a1a" stroke-width="1.15" />
<line x1="488.80" y1="313.70" x2="488.80" y2="317.10" stroke="#1a1a1a" stroke-width="1.15" />
<line x1="488.80" y1="178.00" x2="488.80" y2="174.60" stroke="#1a1a1a" stroke-width="1.15" />
<text x="488.80" y="327.10" font-size="9.2" text-anchor="middle" fill="#111" >8</text>
<line x1="500.75" y1="313.70" x2="500.75" y2="315.60" stroke="#1a1a1a" stroke-width="1.15" />
<line x1="500.75" y1="178.00" x2="500.75" y2="176.10" stroke="#1a1a1a" stroke-width="1.15" />
<line x1="512.70" y1="313.70" x2="512.70" y2="317.10" stroke="#1a1a1a" stroke-width="1.15" />
<line x1="512.70" y1="178.00" x2="512.70" y2="174.60" stroke="#1a1a1a" stroke-width="1.15" />
<text x="512.70" y="327.10" font-size="9.2" text-anchor="middle" fill="#111" >9</text>
<line x1="297.60" y1="310.20" x2="294.20" y2="310.20" stroke="#1a1a1a" stroke-width="1.15" />
<line x1="512.70" y1="310.20" x2="516.10" y2="310.20" stroke="#1a1a1a" stroke-width="1.15" />
<text x="291.40" y="313.40" font-size="9.0" text-anchor="end" fill="#111" >300</text>
<line x1="297.60" y1="299.20" x2="295.70" y2="299.20" stroke="#1a1a1a" stroke-width="1.15" />
<line x1="512.70" y1="299.20" x2="514.60" y2="299.20" stroke="#1a1a1a" stroke-width="1.15" />
<line x1="297.60" y1="288.20" x2="294.20" y2="288.20" stroke="#1a1a1a" stroke-width="1.15" />
<line x1="512.70" y1="288.20" x2="516.10" y2="288.20" stroke="#1a1a1a" stroke-width="1.15" />
<text x="291.40" y="291.40" font-size="9.0" text-anchor="end" fill="#111" >400</text>
<line x1="297.60" y1="277.20" x2="295.70" y2="277.20" stroke="#1a1a1a" stroke-width="1.15" />
<line x1="512.70" y1="277.20" x2="514.60" y2="277.20" stroke="#1a1a1a" stroke-width="1.15" />
<line x1="297.60" y1="266.20" x2="294.20" y2="266.20" stroke="#1a1a1a" stroke-width="1.15" />
<line x1="512.70" y1="266.20" x2="516.10" y2="266.20" stroke="#1a1a1a" stroke-width="1.15" />
<text x="291.40" y="269.40" font-size="9.0" text-anchor="end" fill="#111" >500</text>
<line x1="297.60" y1="255.20" x2="295.70" y2="255.20" stroke="#1a1a1a" stroke-width="1.15" />
<line x1="512.70" y1="255.20" x2="514.60" y2="255.20" stroke="#1a1a1a" stroke-width="1.15" />
<line x1="297.60" y1="244.20" x2="294.20" y2="244.20" stroke="#1a1a1a" stroke-width="1.15" />
<line x1="512.70" y1="244.20" x2="516.10" y2="244.20" stroke="#1a1a1a" stroke-width="1.15" />
<text x="291.40" y="247.40" font-size="9.0" text-anchor="end" fill="#111" >600</text>
<line x1="297.60" y1="233.20" x2="295.70" y2="233.20" stroke="#1a1a1a" stroke-width="1.15" />
<line x1="512.70" y1="233.20" x2="514.60" y2="233.20" stroke="#1a1a1a" stroke-width="1.15" />
<line x1="297.60" y1="222.20" x2="294.20" y2="222.20" stroke="#1a1a1a" stroke-width="1.15" />
<line x1="512.70" y1="222.20" x2="516.10" y2="222.20" stroke="#1a1a1a" stroke-width="1.15" />
<text x="291.40" y="225.40" font-size="9.0" text-anchor="end" fill="#111" >700</text>
<line x1="297.60" y1="211.20" x2="295.70" y2="211.20" stroke="#1a1a1a" stroke-width="1.15" />
<line x1="512.70" y1="211.20" x2="514.60" y2="211.20" stroke="#1a1a1a" stroke-width="1.15" />
<line x1="297.60" y1="200.20" x2="294.20" y2="200.20" stroke="#1a1a1a" stroke-width="1.15" />
<line x1="512.70" y1="200.20" x2="516.10" y2="200.20" stroke="#1a1a1a" stroke-width="1.15" />
<text x="291.40" y="203.40" font-size="9.0" text-anchor="end" fill="#111" >800</text>
<line x1="297.60" y1="189.20" x2="295.70" y2="189.20" stroke="#1a1a1a" stroke-width="1.15" />
<line x1="512.70" y1="189.20" x2="514.60" y2="189.20" stroke="#1a1a1a" stroke-width="1.15" />
<line x1="297.60" y1="178.20" x2="294.20" y2="178.20" stroke="#1a1a1a" stroke-width="1.15" />
<line x1="512.70" y1="178.20" x2="516.10" y2="178.20" stroke="#1a1a1a" stroke-width="1.15" />
<text x="291.40" y="181.40" font-size="9.0" text-anchor="end" fill="#111" >900</text>
<text x="405.50" y="338.50" font-size="10.9" text-anchor="middle" fill="#111" >Time [ms]</text>
<text x="271.60" y="245.40" font-size="11.0" text-anchor="middle" fill="#111" transform="rotate(-90 271.60 245.40)" >Surface Temperature [K]</text>
<text x="259.40" y="178.90" font-size="12.0" text-anchor="start" fill="#111" >c)</text>
<line x1="360.60" y1="263.90" x2="386.80" y2="263.90" stroke="#404040" stroke-width="2.1" />
<line x1="360.60" y1="277.50" x2="386.80" y2="277.50" stroke="#e6242f" stroke-width="2.1" />
<text x="389.60" y="267.80" font-size="11.15" text-anchor="start" fill="#111" >Surface Temperature</text>
<text x="389.40" y="281.30" font-size="11.15" text-anchor="start" fill="#111" >Max. Temperature</text>
</g>
</svg></body></html>
